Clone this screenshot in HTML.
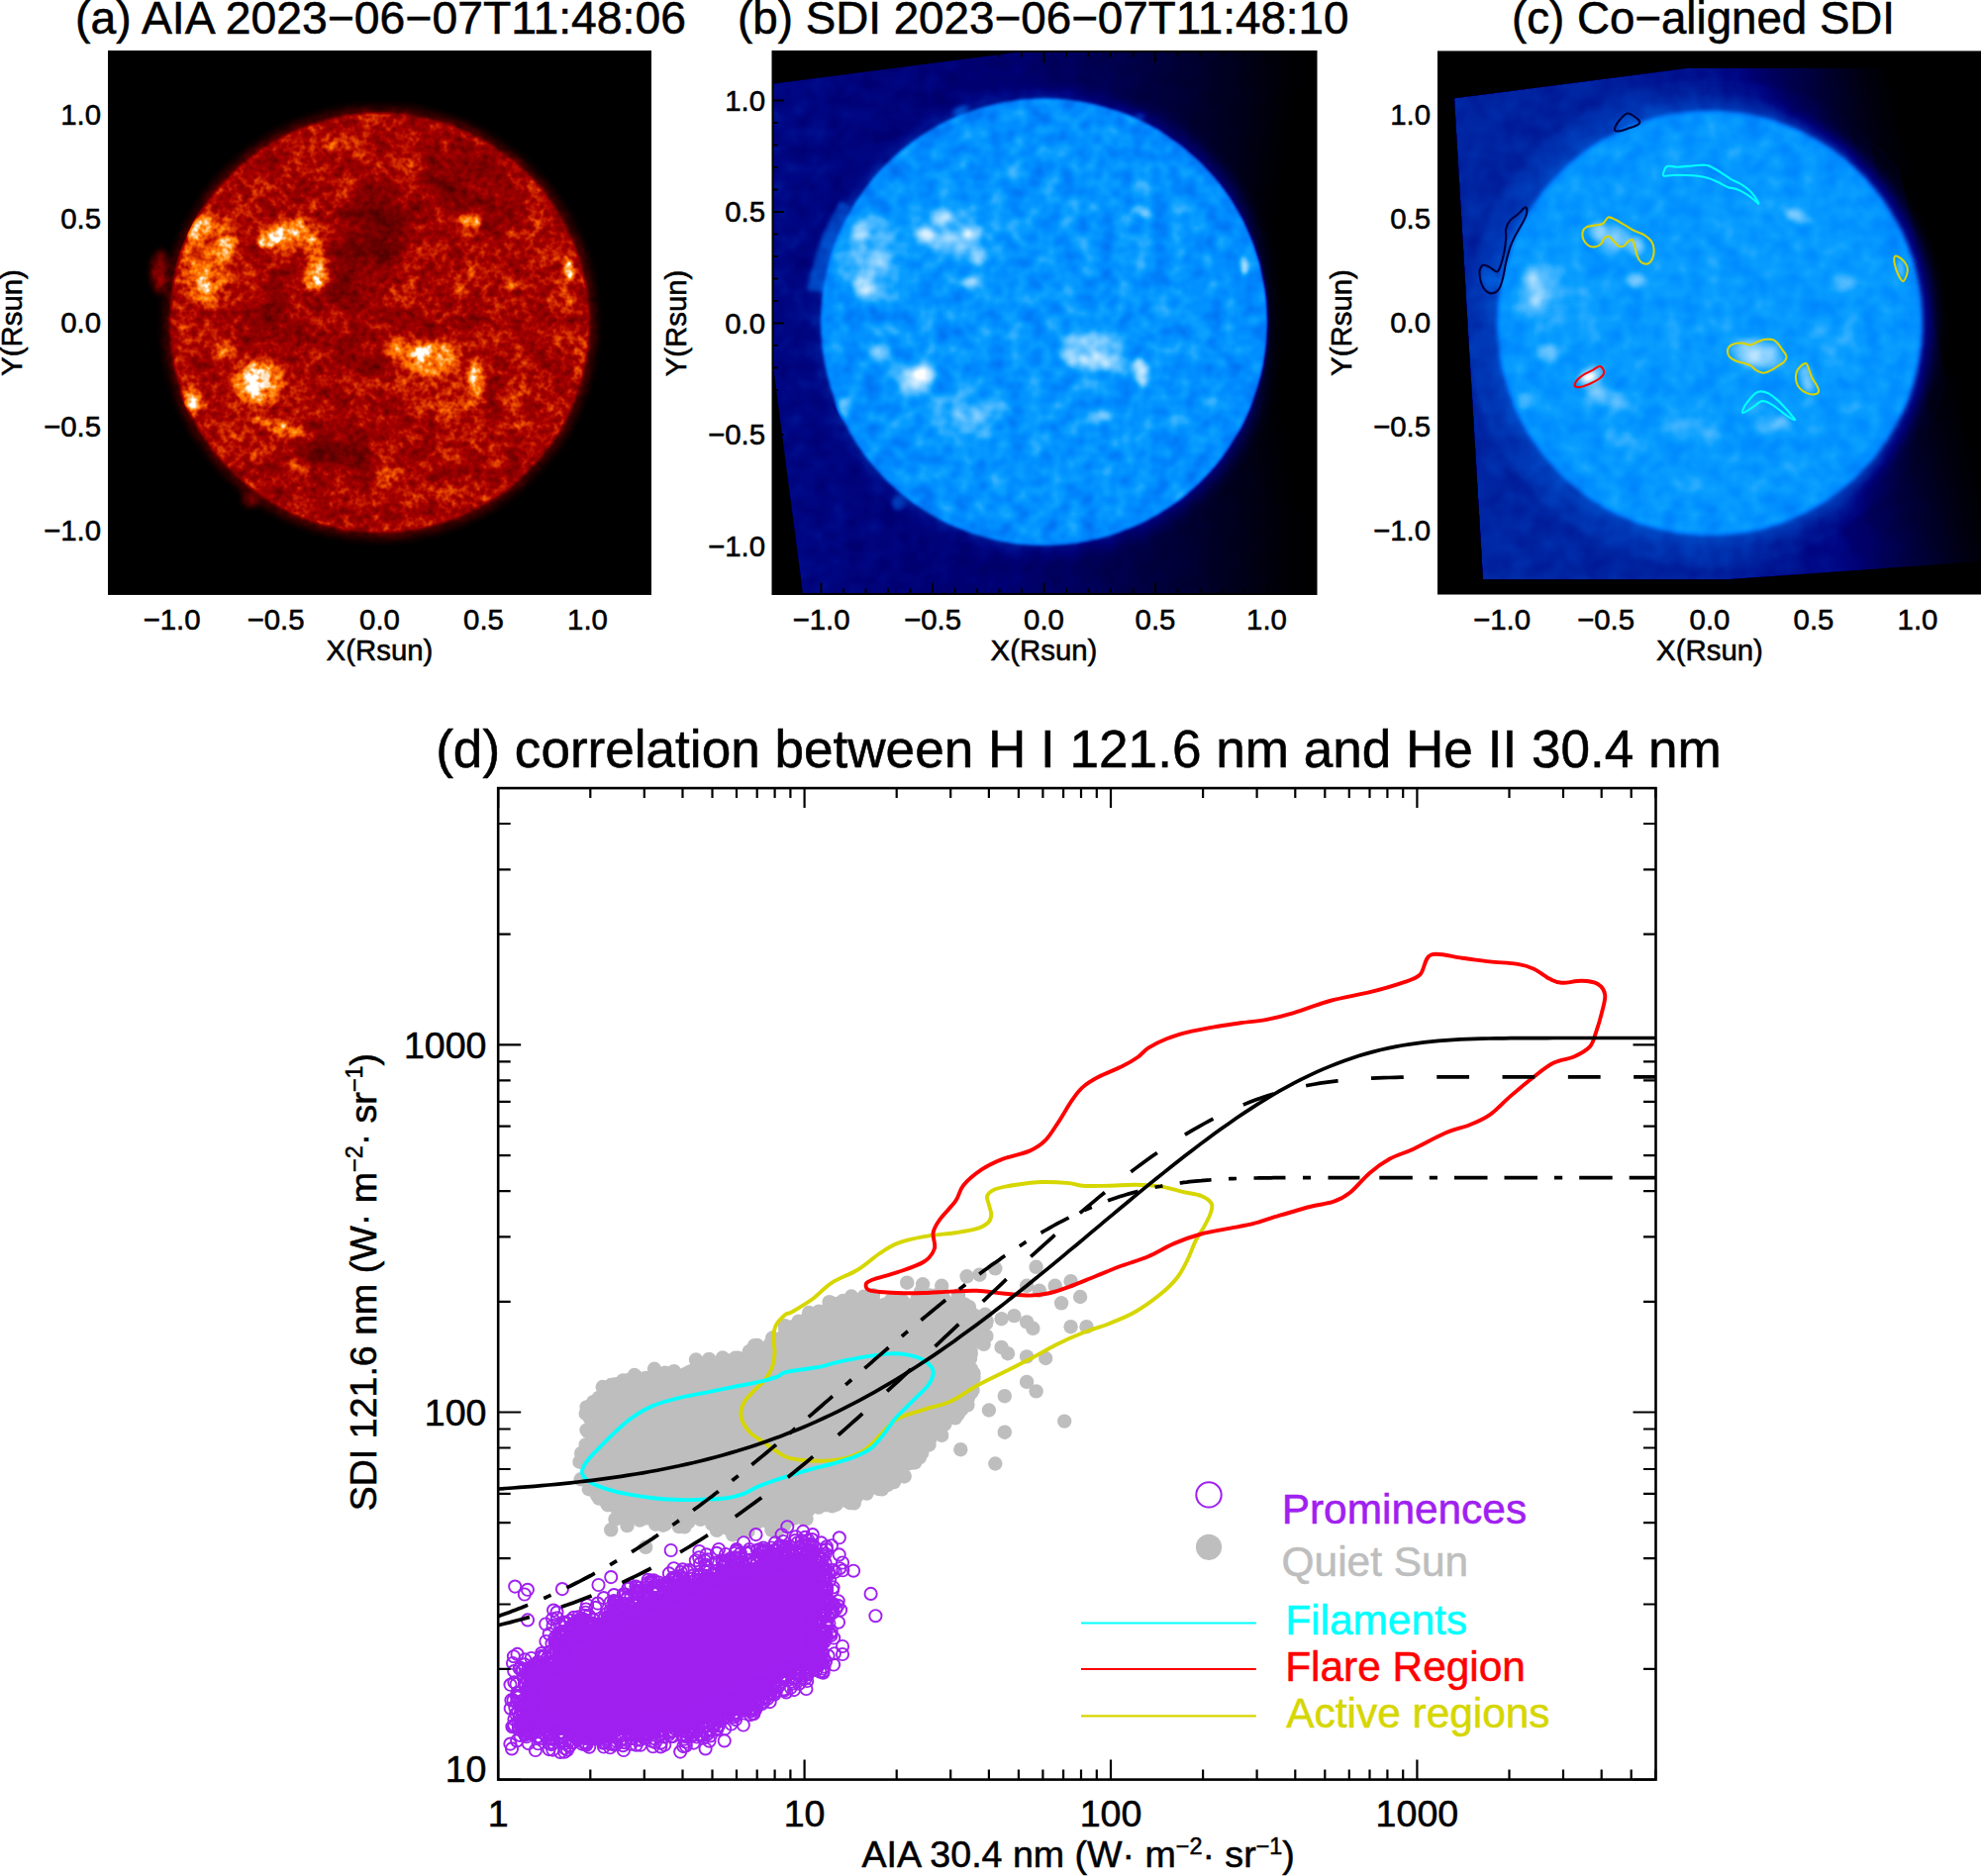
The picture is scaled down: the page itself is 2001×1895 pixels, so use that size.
<!DOCTYPE html>
<html><head><meta charset="utf-8"><title>figure</title>
<style>html,body{margin:0;padding:0;background:#fff;overflow:hidden}svg{display:block}text{stroke:#000;stroke-width:0.55px}</style></head>
<body>
<svg width="2001" height="1895" viewBox="0 0 2001 1895" font-family='"Liberation Sans", sans-serif' fill="#000">
<defs><filter id="fa" x="0" y="0" width="100%" height="100%" filterUnits="objectBoundingBox" color-interpolation-filters="sRGB">
<feTurbulence type="fractalNoise" baseFrequency="0.15" numOctaves="2" seed="7" result="n0"/>
<feColorMatrix in="n0" type="matrix" values="1 0 0 0 0  1 0 0 0 0  1 0 0 0 0  0 0 0 0 1" result="n1"/>
<feTurbulence type="fractalNoise" baseFrequency="0.045" numOctaves="3" seed="3" result="m0"/>
<feColorMatrix in="m0" type="matrix" values="0 1 0 0 0  0 1 0 0 0  0 1 0 0 0  0 0 0 0 1" result="m1"/>
<feComposite in="SourceGraphic" in2="n1" operator="arithmetic" k1="0.8" k2="0.6" k3="0" k4="0" result="c1"/>
<feComposite in="c1" in2="m1" operator="arithmetic" k1="0.75" k2="0.625" k3="0" k4="0" result="c2"/>
<feComponentTransfer in="c2">
<feFuncR type="table" tableValues="0.000 0.072 0.145 0.217 0.290 0.362 0.435 0.507 0.580 0.652 0.725 0.797 0.870 0.943 1.000 1.000 1.000 1.000 1.000 1.000 1.000"/>
<feFuncG type="table" tableValues="0.000 0.000 0.000 0.000 0.000 0.000 0.000 0.000 0.000 0.000 0.057 0.152 0.247 0.342 0.437 0.532 0.627 0.722 0.817 0.912 1.000"/>
<feFuncB type="table" tableValues="0.000 0.000 0.000 0.000 0.000 0.000 0.000 0.000 0.000 0.000 0.000 0.000 0.000 0.000 0.000 0.020 0.215 0.409 0.605 0.799 0.994"/>
</feComponentTransfer>
</filter>
<filter id="b1" x="-50%" y="-50%" width="200%" height="200%"><feGaussianBlur stdDeviation="1.2"/></filter>
<filter id="b15" x="-50%" y="-50%" width="200%" height="200%"><feGaussianBlur stdDeviation="1.6"/></filter>
<filter id="b2" x="-50%" y="-50%" width="200%" height="200%"><feGaussianBlur stdDeviation="2"/></filter>
<filter id="b3" x="-50%" y="-50%" width="200%" height="200%"><feGaussianBlur stdDeviation="3"/></filter>
<filter id="b5" x="-50%" y="-50%" width="200%" height="200%"><feGaussianBlur stdDeviation="5"/></filter>
<filter id="b8" x="-50%" y="-50%" width="200%" height="200%"><feGaussianBlur stdDeviation="8"/></filter>
<filter id="b12" x="-50%" y="-50%" width="200%" height="200%"><feGaussianBlur stdDeviation="12"/></filter>
<filter id="b20" x="-50%" y="-50%" width="200%" height="200%"><feGaussianBlur stdDeviation="20"/></filter><clipPath id="clipA"><circle cx="383.5" cy="326" r="214"/></clipPath><filter id="fb" x="0" y="0" width="100%" height="100%" color-interpolation-filters="sRGB">
<feTurbulence type="fractalNoise" baseFrequency="0.055" numOctaves="2" seed="11" result="n0"/>
<feColorMatrix in="n0" type="matrix" values="1 0 0 0 0  1 0 0 0 0  1 0 0 0 0  0 0 0 0 1" result="n1"/>
<feComposite in="SourceGraphic" in2="n1" operator="arithmetic" k1="0.3" k2="0.85" k3="0" k4="0" result="c1"/>
<feComponentTransfer in="c1">
<feFuncR type="table" tableValues="0.000 0.000 0.000 0.000 0.000 0.000 0.000 0.000 0.000 0.000 0.000 0.000 0.000 0.000 0.000 0.039 0.231 0.423 0.616 0.808 1.000"/>
<feFuncG type="table" tableValues="0.000 0.000 0.000 0.000 0.000 0.000 0.000 0.030 0.104 0.179 0.253 0.328 0.402 0.477 0.551 0.626 0.700 0.775 0.849 0.924 0.998"/>
<feFuncB type="table" tableValues="0.000 0.075 0.149 0.224 0.299 0.373 0.448 0.522 0.597 0.672 0.746 0.821 0.896 0.970 1.000 1.000 1.000 1.000 1.000 1.000 1.000"/>
</feComponentTransfer>
</filter>
<filter id="fc" x="0" y="0" width="100%" height="100%" color-interpolation-filters="sRGB">
<feTurbulence type="fractalNoise" baseFrequency="0.05" numOctaves="2" seed="5" result="n0"/>
<feColorMatrix in="n0" type="matrix" values="1 0 0 0 0  1 0 0 0 0  1 0 0 0 0  0 0 0 0 1" result="n1"/>
<feComposite in="SourceGraphic" in2="n1" operator="arithmetic" k1="0.18" k2="0.91" k3="0" k4="0" result="c1"/>
<feComponentTransfer in="c1">
<feFuncR type="table" tableValues="0.000 0.000 0.000 0.000 0.000 0.000 0.000 0.000 0.000 0.000 0.000 0.000 0.000 0.000 0.000 0.039 0.231 0.423 0.616 0.808 1.000"/>
<feFuncG type="table" tableValues="0.000 0.000 0.000 0.000 0.000 0.000 0.000 0.030 0.104 0.179 0.253 0.328 0.402 0.477 0.551 0.626 0.700 0.775 0.849 0.924 0.998"/>
<feFuncB type="table" tableValues="0.000 0.075 0.149 0.224 0.299 0.373 0.448 0.522 0.597 0.672 0.746 0.821 0.896 0.970 1.000 1.000 1.000 1.000 1.000 1.000 1.000"/>
</feComponentTransfer>
</filter>
<clipPath id="clipB"><circle cx="1054.8" cy="325.3" r="227.5"/></clipPath>
<clipPath id="clipC"><circle cx="1727" cy="326.4" r="216"/></clipPath>
<clipPath id="clipCframe"><polygon points="1469,99.3 1704,69 1802,69 2001,69 2001,567 1746,585.3 1498,585.3"/></clipPath>
<linearGradient id="haloC" gradientUnits="userSpaceOnUse" x1="1452" y1="600" x2="2001" y2="480"><stop offset="0" stop-color="rgb(121,121,121)"/><stop offset="0.5" stop-color="rgb(117,117,117)"/><stop offset="0.75" stop-color="rgb(92,92,92)"/><stop offset="0.9" stop-color="rgb(26,26,26)"/><stop offset="1" stop-color="rgb(0,0,0)"/></linearGradient>
<clipPath id="clipBbox"><rect x="780" y="51.5" width="550" height="549"/></clipPath>
<linearGradient id="gradB" gradientUnits="userSpaceOnUse" x1="780" y1="0" x2="1330" y2="0"><stop offset="0" stop-color="rgb(89,89,89)"/><stop offset="0.45" stop-color="rgb(74,74,74)"/><stop offset="0.75" stop-color="rgb(36,36,36)"/><stop offset="0.95" stop-color="rgb(3,3,3)"/><stop offset="1" stop-color="rgb(0,0,0)"/></linearGradient>
<linearGradient id="gradC" gradientUnits="userSpaceOnUse" x1="1452" y1="600" x2="2001" y2="480"><stop offset="0" stop-color="rgb(111,111,111)"/><stop offset="0.5" stop-color="rgb(105,105,105)"/><stop offset="0.72" stop-color="rgb(87,87,87)"/><stop offset="0.85" stop-color="rgb(41,41,41)"/><stop offset="0.95" stop-color="rgb(10,10,10)"/><stop offset="1" stop-color="rgb(0,0,0)"/></linearGradient>
<radialGradient id="diskB" gradientUnits="userSpaceOnUse" cx="1054.8" cy="325.3" r="225.7"><stop offset="0" stop-color="rgb(184,184,184)"/><stop offset="0.8" stop-color="rgb(183,183,183)"/><stop offset="1" stop-color="rgb(177,177,177)"/></radialGradient>
<radialGradient id="diskC" gradientUnits="userSpaceOnUse" cx="1727" cy="326.4" r="214.5"><stop offset="0" stop-color="rgb(188,188,188)"/><stop offset="0.8" stop-color="rgb(187,187,187)"/><stop offset="1" stop-color="rgb(182,182,182)"/></radialGradient></defs>
<rect width="2001" height="1895" fill="#fff"/>
<text x="76" y="34" font-size="46.3">(a) AIA 2023−06−07T11:48:06</text>
<text x="745" y="34" font-size="46.3" textLength="617.5" lengthAdjust="spacingAndGlyphs">(b) SDI 2023−06−07T11:48:10</text>
<text x="1527" y="34" font-size="46.3" textLength="387" lengthAdjust="spacingAndGlyphs">(c) Co−aligned SDI</text>
<g filter="url(#fa)">
<rect x="109" y="51.5" width="549" height="549" fill="#000"/>
<circle cx="383.5" cy="326" r="218" fill="rgb(56,56,56)" filter="url(#b5)"/>
<circle cx="383.5" cy="326" r="212" fill="rgb(117,117,117)" filter="url(#b1)"/>
<ellipse cx="162" cy="275" rx="9" ry="22" fill="rgb(82,82,82)" filter="url(#b3)"/>
<ellipse cx="254" cy="504" rx="9" ry="8" fill="rgb(64,64,64)" filter="url(#b3)"/>
<g clip-path="url(#clipA)">
<ellipse cx="377" cy="238" rx="34" ry="34" transform="rotate(0 377 238)" fill="rgb(0,0,0)" opacity="0.38" filter="url(#b12)"/>
<ellipse cx="395" cy="212" rx="30" ry="12" transform="rotate(10 395 212)" fill="rgb(0,0,0)" opacity="0.25" filter="url(#b8)"/>
<ellipse cx="350" cy="295" rx="18" ry="40" transform="rotate(-15 350 295)" fill="rgb(0,0,0)" opacity="0.3" filter="url(#b12)"/>
<ellipse cx="366" cy="360" rx="12" ry="30" transform="rotate(-20 366 360)" fill="rgb(0,0,0)" opacity="0.22" filter="url(#b8)"/>
<ellipse cx="336" cy="460" rx="45" ry="18" transform="rotate(-8 336 460)" fill="rgb(0,0,0)" opacity="0.4" filter="url(#b12)"/>
<ellipse cx="475" cy="178" rx="50" ry="30" transform="rotate(10 475 178)" fill="rgb(0,0,0)" opacity="0.22" filter="url(#b12)"/>
<ellipse cx="455" cy="190" rx="22" ry="6" transform="rotate(12 455 190)" fill="rgb(0,0,0)" opacity="0.3" filter="url(#b5)"/>
<ellipse cx="503" cy="228" rx="12" ry="10" transform="rotate(0 503 228)" fill="rgb(0,0,0)" opacity="0.25" filter="url(#b5)"/>
<ellipse cx="275" cy="320" rx="32" ry="30" transform="rotate(0 275 320)" fill="rgb(0,0,0)" opacity="0.22" filter="url(#b12)"/>
<ellipse cx="440" cy="330" rx="35" ry="14" transform="rotate(20 440 330)" fill="rgb(0,0,0)" opacity="0.15" filter="url(#b8)"/>
<ellipse cx="330" cy="400" rx="25" ry="12" transform="rotate(30 330 400)" fill="rgb(0,0,0)" opacity="0.15" filter="url(#b8)"/>
<ellipse cx="209" cy="258" rx="30" ry="46" transform="rotate(0 209 258)" fill="rgb(255,255,255)" opacity="0.38" filter="url(#b8)"/>
<ellipse cx="201" cy="231" rx="9" ry="11" transform="rotate(0 201 231)" fill="rgb(255,255,255)" opacity="0.5" filter="url(#b3)"/>
<ellipse cx="209" cy="287" rx="11" ry="11" transform="rotate(0 209 287)" fill="rgb(255,255,255)" opacity="0.5" filter="url(#b3)"/>
<ellipse cx="230" cy="250" rx="9" ry="14" transform="rotate(0 230 250)" fill="rgb(255,255,255)" opacity="0.3" filter="url(#b3)"/>
<ellipse cx="292" cy="238" rx="32" ry="15" transform="rotate(-10 292 238)" fill="rgb(255,255,255)" opacity="0.5" filter="url(#b5)"/>
<ellipse cx="270" cy="243" rx="9" ry="6" transform="rotate(-20 270 243)" fill="rgb(255,255,255)" opacity="0.8" filter="url(#b2)"/>
<ellipse cx="300" cy="232" rx="10" ry="5" transform="rotate(-10 300 232)" fill="rgb(255,255,255)" opacity="0.5" filter="url(#b2)"/>
<ellipse cx="320" cy="263" rx="9" ry="26" transform="rotate(-10 320 263)" fill="rgb(255,255,255)" opacity="0.45" filter="url(#b5)"/>
<ellipse cx="316" cy="286" rx="9" ry="7" transform="rotate(0 316 286)" fill="rgb(255,255,255)" opacity="0.6" filter="url(#b3)"/>
<ellipse cx="261" cy="386" rx="26" ry="22" transform="rotate(0 261 386)" fill="rgb(255,255,255)" opacity="0.62" filter="url(#b5)"/>
<ellipse cx="261" cy="386" rx="14" ry="9" transform="rotate(-35 261 386)" fill="rgb(255,255,255)" opacity="1" filter="url(#b2)"/>
<ellipse cx="276" cy="400" rx="9" ry="7" transform="rotate(30 276 400)" fill="rgb(255,255,255)" opacity="0.5" filter="url(#b3)"/>
<ellipse cx="285" cy="432" rx="32" ry="7" transform="rotate(15 285 432)" fill="rgb(255,255,255)" opacity="0.42" filter="url(#b3)"/>
<ellipse cx="194" cy="403" rx="10" ry="13" transform="rotate(0 194 403)" fill="rgb(255,255,255)" opacity="0.5" filter="url(#b3)"/>
<ellipse cx="224" cy="354" rx="11" ry="9" transform="rotate(0 224 354)" fill="rgb(255,255,255)" opacity="0.35" filter="url(#b3)"/>
<ellipse cx="212" cy="330" rx="10" ry="10" transform="rotate(0 212 330)" fill="rgb(255,255,255)" opacity="0.2" filter="url(#b5)"/>
<ellipse cx="430" cy="361" rx="38" ry="17" transform="rotate(8 430 361)" fill="rgb(255,255,255)" opacity="0.62" filter="url(#b5)"/>
<ellipse cx="424" cy="358" rx="11" ry="6" transform="rotate(0 424 358)" fill="rgb(255,255,255)" opacity="0.85" filter="url(#b2)"/>
<ellipse cx="448" cy="367" rx="9" ry="5" transform="rotate(0 448 367)" fill="rgb(255,255,255)" opacity="0.8" filter="url(#b2)"/>
<ellipse cx="405" cy="352" rx="8" ry="6" transform="rotate(0 405 352)" fill="rgb(255,255,255)" opacity="0.4" filter="url(#b3)"/>
<ellipse cx="481" cy="380" rx="7" ry="18" transform="rotate(-5 481 380)" fill="rgb(255,255,255)" opacity="0.75" filter="url(#b3)"/>
<ellipse cx="575" cy="271" rx="4" ry="12" transform="rotate(-8 575 271)" fill="rgb(255,255,255)" opacity="0.75" filter="url(#b2)"/>
<ellipse cx="574" cy="300" rx="5" ry="16" transform="rotate(-5 574 300)" fill="rgb(255,255,255)" opacity="0.3" filter="url(#b3)"/>
<ellipse cx="474" cy="222" rx="13" ry="5" transform="rotate(15 474 222)" fill="rgb(255,255,255)" opacity="0.5" filter="url(#b2)"/>
<ellipse cx="447" cy="409" rx="40" ry="8" transform="rotate(-3 447 409)" fill="rgb(255,255,255)" opacity="0.28" filter="url(#b5)"/>
<ellipse cx="519" cy="288" rx="10" ry="5" transform="rotate(0 519 288)" fill="rgb(255,255,255)" opacity="0.4" filter="url(#b3)"/>
<ellipse cx="466" cy="292" rx="8" ry="5" transform="rotate(0 466 292)" fill="rgb(255,255,255)" opacity="0.35" filter="url(#b3)"/>
<ellipse cx="300" cy="470" rx="14" ry="6" transform="rotate(20 300 470)" fill="rgb(255,255,255)" opacity="0.25" filter="url(#b3)"/>
<ellipse cx="235" cy="440" rx="14" ry="10" transform="rotate(0 235 440)" fill="rgb(255,255,255)" opacity="0.2" filter="url(#b5)"/>
<ellipse cx="520" cy="400" rx="20" ry="12" transform="rotate(0 520 400)" fill="rgb(255,255,255)" opacity="0.12" filter="url(#b8)"/>
<ellipse cx="400" cy="480" rx="20" ry="10" transform="rotate(0 400 480)" fill="rgb(255,255,255)" opacity="0.1" filter="url(#b8)"/>
<ellipse cx="330" cy="150" rx="30" ry="10" transform="rotate(0 330 150)" fill="rgb(255,255,255)" opacity="0.1" filter="url(#b8)"/>
</g>
</g>
<text x="102.0" y="546.2" font-size="29.4" text-anchor="end">−1.0</text>
<text x="102.0" y="441.2" font-size="29.4" text-anchor="end">−0.5</text>
<text x="102.0" y="336.2" font-size="29.4" text-anchor="end">0.0</text>
<text x="102.0" y="231.2" font-size="29.4" text-anchor="end">0.5</text>
<text x="102.0" y="126.2" font-size="29.4" text-anchor="end">1.0</text>
<text x="173.5" y="636" font-size="29.4" text-anchor="middle">−1.0</text>
<text x="278.5" y="636" font-size="29.4" text-anchor="middle">−0.5</text>
<text x="383.5" y="636" font-size="29.4" text-anchor="middle">0.0</text>
<text x="488.5" y="636" font-size="29.4" text-anchor="middle">0.5</text>
<text x="593.5" y="636" font-size="29.4" text-anchor="middle">1.0</text>
<text x="383.5" y="667.4" font-size="29.4" text-anchor="middle">X(Rsun)</text>
<text transform="translate(22.0,326.0) rotate(-90)" font-size="29.4" text-anchor="middle">Y(Rsun)</text>
<g filter="url(#fb)">
<rect x="780" y="51.5" width="550" height="549" fill="#000"/>
<g clip-path="url(#clipBbox)">
<polygon points="740,90 1034,52 1330,52 1330,600 811,600 780,362" fill="url(#gradB)"/>
<circle cx="1054.8" cy="325.3" r="233.7" fill="rgb(110,110,110)" opacity="0.7" filter="url(#b8)"/>
<ellipse cx="1345" cy="300" rx="75" ry="215" fill="#000" filter="url(#b20)"/>
<path d="M848,203 L832,235 L822,265 L815,293 L838,297 L842,265 L850,235 L860,210 Z" fill="rgb(133,133,133)" filter="url(#b2)"/>
<ellipse cx="971" cy="112" rx="9" ry="5" transform="rotate(-20 971 112)" fill="rgb(128,128,128)" filter="url(#b2)"/>
<ellipse cx="908" cy="508" rx="7" ry="9" transform="rotate(30 908 508)" fill="rgb(122,122,122)" filter="url(#b2)"/>
<ellipse cx="1152" cy="118" rx="6" ry="5" fill="rgb(107,107,107)" filter="url(#b2)"/>
<circle cx="1054.8" cy="325.3" r="225.7" fill="url(#diskB)" filter="url(#b15)"/>
<g clip-path="url(#clipB)">
<ellipse cx="925" cy="383.4" rx="20" ry="14" transform="rotate(-25 925 383.4)" fill="rgb(255,255,255)" opacity="0.75" filter="url(#b5)"/>
<ellipse cx="925" cy="383" rx="9" ry="5" transform="rotate(-25 925 383)" fill="rgb(255,255,255)" opacity="1.0" filter="url(#b2)"/>
<ellipse cx="960" cy="236" rx="40" ry="22" transform="rotate(10 960 236)" fill="rgb(255,255,255)" opacity="0.45" filter="url(#b8)"/>
<ellipse cx="934" cy="237" rx="9" ry="7" transform="rotate(0 934 237)" fill="rgb(255,255,255)" opacity="0.68" filter="url(#b3)"/>
<ellipse cx="952" cy="220" rx="9" ry="7" transform="rotate(0 952 220)" fill="rgb(255,255,255)" opacity="0.6" filter="url(#b3)"/>
<ellipse cx="983" cy="235" rx="10" ry="8" transform="rotate(0 983 235)" fill="rgb(255,255,255)" opacity="0.6" filter="url(#b3)"/>
<ellipse cx="989" cy="259" rx="8" ry="10" transform="rotate(0 989 259)" fill="rgb(255,255,255)" opacity="0.6" filter="url(#b3)"/>
<ellipse cx="980" cy="286" rx="9" ry="6" transform="rotate(-20 980 286)" fill="rgb(255,255,255)" opacity="0.6" filter="url(#b3)"/>
<ellipse cx="880" cy="260" rx="28" ry="42" transform="rotate(0 880 260)" fill="rgb(255,255,255)" opacity="0.42" filter="url(#b8)"/>
<ellipse cx="870" cy="234" rx="9" ry="9" transform="rotate(0 870 234)" fill="rgb(255,255,255)" opacity="0.52" filter="url(#b3)"/>
<ellipse cx="872" cy="289" rx="10" ry="9" transform="rotate(0 872 289)" fill="rgb(255,255,255)" opacity="0.6" filter="url(#b3)"/>
<ellipse cx="1104" cy="356" rx="34" ry="18" transform="rotate(5 1104 356)" fill="rgb(255,255,255)" opacity="0.6" filter="url(#b5)"/>
<ellipse cx="1101" cy="359" rx="10" ry="7" transform="rotate(0 1101 359)" fill="rgb(255,255,255)" opacity="0.75" filter="url(#b3)"/>
<ellipse cx="1153" cy="377" rx="7" ry="16" transform="rotate(-10 1153 377)" fill="rgb(255,255,255)" opacity="0.68" filter="url(#b3)"/>
<ellipse cx="1256" cy="268" rx="4" ry="10" transform="rotate(-10 1256 268)" fill="rgb(255,255,255)" opacity="0.6" filter="url(#b2)"/>
<ellipse cx="852" cy="411" rx="7" ry="9" transform="rotate(0 852 411)" fill="rgb(255,255,255)" opacity="0.6" filter="url(#b3)"/>
<ellipse cx="888" cy="356" rx="12" ry="9" transform="rotate(0 888 356)" fill="rgb(255,255,255)" opacity="0.52" filter="url(#b3)"/>
<ellipse cx="975" cy="420" rx="40" ry="18" transform="rotate(15 975 420)" fill="rgb(255,255,255)" opacity="0.38" filter="url(#b8)"/>
<ellipse cx="1153" cy="213" rx="12" ry="5" transform="rotate(15 1153 213)" fill="rgb(255,255,255)" opacity="0.6" filter="url(#b3)"/>
<ellipse cx="1113" cy="420" rx="12" ry="7" transform="rotate(-20 1113 420)" fill="rgb(255,255,255)" opacity="0.45" filter="url(#b3)"/>
</g></g></g>
<text x="773.0" y="561.7" font-size="29.4" text-anchor="end">−1.0</text>
<text x="773.0" y="449.2" font-size="29.4" text-anchor="end">−0.5</text>
<text x="773.0" y="336.7" font-size="29.4" text-anchor="end">0.0</text>
<text x="773.0" y="224.2" font-size="29.4" text-anchor="end">0.5</text>
<text x="773.0" y="111.7" font-size="29.4" text-anchor="end">1.0</text>
<text x="829.5" y="636" font-size="29.4" text-anchor="middle">−1.0</text>
<text x="942.0" y="636" font-size="29.4" text-anchor="middle">−0.5</text>
<text x="1054.5" y="636" font-size="29.4" text-anchor="middle">0.0</text>
<text x="1167.0" y="636" font-size="29.4" text-anchor="middle">0.5</text>
<text x="1279.5" y="636" font-size="29.4" text-anchor="middle">1.0</text>
<text x="1054.5" y="667.4" font-size="29.4" text-anchor="middle">X(Rsun)</text>
<text transform="translate(693.0,326.5) rotate(-90)" font-size="29.4" text-anchor="middle">Y(Rsun)</text>
<path d="M784.5,600v-5.5M784.5,52v5.5M780.5,596.5h5.5M1329.5,596.5h-5.5M807.0,600v-5.5M807.0,52v5.5M780.5,574.0h5.5M1329.5,574.0h-5.5M829.5,600v-11.3M829.5,52v11.3M780.5,551.5h11.3M1329.5,551.5h-11.3M852.0,600v-5.5M852.0,52v5.5M780.5,529.0h5.5M1329.5,529.0h-5.5M874.5,600v-5.5M874.5,52v5.5M780.5,506.5h5.5M1329.5,506.5h-5.5M897.0,600v-5.5M897.0,52v5.5M780.5,484.0h5.5M1329.5,484.0h-5.5M919.5,600v-5.5M919.5,52v5.5M780.5,461.5h5.5M1329.5,461.5h-5.5M942.0,600v-11.3M942.0,52v11.3M780.5,439.0h11.3M1329.5,439.0h-11.3M964.5,600v-5.5M964.5,52v5.5M780.5,416.5h5.5M1329.5,416.5h-5.5M987.0,600v-5.5M987.0,52v5.5M780.5,394.0h5.5M1329.5,394.0h-5.5M1009.5,600v-5.5M1009.5,52v5.5M780.5,371.5h5.5M1329.5,371.5h-5.5M1032.0,600v-5.5M1032.0,52v5.5M780.5,349.0h5.5M1329.5,349.0h-5.5M1054.5,600v-11.3M1054.5,52v11.3M780.5,326.5h11.3M1329.5,326.5h-11.3M1077.0,600v-5.5M1077.0,52v5.5M780.5,304.0h5.5M1329.5,304.0h-5.5M1099.5,600v-5.5M1099.5,52v5.5M780.5,281.5h5.5M1329.5,281.5h-5.5M1122.0,600v-5.5M1122.0,52v5.5M780.5,259.0h5.5M1329.5,259.0h-5.5M1144.5,600v-5.5M1144.5,52v5.5M780.5,236.5h5.5M1329.5,236.5h-5.5M1167.0,600v-11.3M1167.0,52v11.3M780.5,214.0h11.3M1329.5,214.0h-11.3M1189.5,600v-5.5M1189.5,52v5.5M780.5,191.5h5.5M1329.5,191.5h-5.5M1212.0,600v-5.5M1212.0,52v5.5M780.5,169.0h5.5M1329.5,169.0h-5.5M1234.5,600v-5.5M1234.5,52v5.5M780.5,146.5h5.5M1329.5,146.5h-5.5M1257.0,600v-5.5M1257.0,52v5.5M780.5,124.0h5.5M1329.5,124.0h-5.5M1279.5,600v-11.3M1279.5,52v11.3M780.5,101.5h11.3M1329.5,101.5h-11.3M1302.0,600v-5.5M1302.0,52v5.5M780.5,79.0h5.5M1329.5,79.0h-5.5M1324.5,600v-5.5M1324.5,52v5.5M780.5,56.5h5.5M1329.5,56.5h-5.5" stroke="#000" stroke-width="2" fill="none"/>
<rect x="780.5" y="52" width="549" height="548" fill="none" stroke="#000" stroke-width="2"/>
<g filter="url(#fc)">
<rect x="1452" y="51.5" width="549" height="549" fill="#000"/>
<polygon points="1469,99.3 1704,69 1802,69 2001,69 2001,567 1746,585.3 1498,585.3" fill="url(#gradC)"/>
<g clip-path="url(#clipCframe)">
<circle cx="1727" cy="326.4" r="246.5" fill="url(#haloC)" filter="url(#b3)"/>
<circle cx="1727" cy="326.4" r="224.5" fill="rgb(135,135,135)" opacity="0.8" filter="url(#b8)"/>
</g>
<path d="M1541,212 Q1524,232 1520,262 L1515,280 Q1505,268 1496,270 Q1494,290 1506,296 Q1516,292 1521,265 Q1530,232 1543,214 Z" fill="rgb(140,140,140)" filter="url(#b2)"/>
<ellipse cx="1644" cy="123" rx="10" ry="6" transform="rotate(-20 1644 123)" fill="rgb(138,138,138)" filter="url(#b2)"/>
<circle cx="1727" cy="326.4" r="214.5" fill="url(#diskC)" filter="url(#b2)"/>
<g clip-path="url(#clipC)">
<ellipse cx="1605.6" cy="380.3" rx="14" ry="8" transform="rotate(-25 1605.6 380.3)" fill="rgb(255,255,255)" opacity="0.5" filter="url(#b3)"/>
<ellipse cx="1604" cy="381" rx="7" ry="4" transform="rotate(-25 1604 381)" fill="rgb(255,255,255)" opacity="1" filter="url(#b2)"/>
<ellipse cx="1631.4" cy="240.5" rx="24" ry="11" transform="rotate(20 1631.4 240.5)" fill="rgb(255,255,255)" opacity="0.42" filter="url(#b5)"/>
<ellipse cx="1613.2" cy="234.5" rx="9" ry="8" transform="rotate(0 1613.2 234.5)" fill="rgb(255,255,255)" opacity="0.42" filter="url(#b3)"/>
<ellipse cx="1652.7" cy="249.7" rx="9" ry="10" transform="rotate(0 1652.7 249.7)" fill="rgb(255,255,255)" opacity="0.42" filter="url(#b3)"/>
<ellipse cx="1553.9" cy="292.2" rx="18" ry="30" transform="rotate(15 1553.9 292.2)" fill="rgb(255,255,255)" opacity="0.39" filter="url(#b8)"/>
<ellipse cx="1546.4" cy="283.1" rx="8" ry="8" transform="rotate(0 1546.4 283.1)" fill="rgb(255,255,255)" opacity="0.35" filter="url(#b3)"/>
<ellipse cx="1555.5" cy="304.4" rx="8" ry="8" transform="rotate(0 1555.5 304.4)" fill="rgb(255,255,255)" opacity="0.35" filter="url(#b3)"/>
<ellipse cx="1652.7" cy="283.1" rx="10" ry="7" transform="rotate(-20 1652.7 283.1)" fill="rgb(255,255,255)" opacity="0.42" filter="url(#b3)"/>
<ellipse cx="1774.2" cy="357.5" rx="26" ry="13" transform="rotate(5 1774.2 357.5)" fill="rgb(255,255,255)" opacity="0.49" filter="url(#b5)"/>
<ellipse cx="1771.2" cy="359.1" rx="9" ry="6" transform="rotate(0 1771.2 359.1)" fill="rgb(255,255,255)" opacity="0.49" filter="url(#b3)"/>
<ellipse cx="1825.9" cy="381.8" rx="7" ry="13" transform="rotate(-10 1825.9 381.8)" fill="rgb(255,255,255)" opacity="0.49" filter="url(#b3)"/>
<ellipse cx="1816.8" cy="219.3" rx="14" ry="6" transform="rotate(15 1816.8 219.3)" fill="rgb(255,255,255)" opacity="0.42" filter="url(#b3)"/>
<ellipse cx="1862.4" cy="283.1" rx="12" ry="10" transform="rotate(0 1862.4 283.1)" fill="rgb(255,255,255)" opacity="0.28" filter="url(#b5)"/>
<ellipse cx="1561.5" cy="356.0" rx="12" ry="9" transform="rotate(0 1561.5 356.0)" fill="rgb(255,255,255)" opacity="0.35" filter="url(#b3)"/>
<ellipse cx="1622.3" cy="400.1" rx="22" ry="9" transform="rotate(20 1622.3 400.1)" fill="rgb(255,255,255)" opacity="0.42" filter="url(#b5)"/>
<ellipse cx="1540.3" cy="404.6" rx="8" ry="9" transform="rotate(0 1540.3 404.6)" fill="rgb(255,255,255)" opacity="0.35" filter="url(#b3)"/>
<ellipse cx="1789.4" cy="427.4" rx="18" ry="9" transform="rotate(-10 1789.4 427.4)" fill="rgb(255,255,255)" opacity="0.31" filter="url(#b5)"/>
<ellipse cx="1634.5" cy="444.1" rx="14" ry="7" transform="rotate(10 1634.5 444.1)" fill="rgb(255,255,255)" opacity="0.28" filter="url(#b5)"/>
<ellipse cx="1920.1" cy="270.9" rx="4" ry="10" transform="rotate(-10 1920.1 270.9)" fill="rgb(255,255,255)" opacity="0.42" filter="url(#b2)"/>
<ellipse cx="1713.5" cy="435.0" rx="30" ry="12" transform="rotate(0 1713.5 435.0)" fill="rgb(255,255,255)" opacity="0.21" filter="url(#b8)"/>
<ellipse cx="1850.2" cy="343.9" rx="20" ry="12" transform="rotate(0 1850.2 343.9)" fill="rgb(255,255,255)" opacity="0.21" filter="url(#b8)"/>
<ellipse cx="1591.9" cy="313.5" rx="20" ry="30" transform="rotate(0 1591.9 313.5)" fill="rgb(255,255,255)" opacity="0.17" filter="url(#b8)"/>
</g></g>
<path d="M1631.1,131.5C1630.4,130.4 1631.6,127.9 1632.7,125.8C1633.7,123.8 1635.6,121.3 1637.5,119.4C1639.4,117.5 1641.7,114.8 1644.0,114.5C1646.3,114.3 1649.2,116.4 1651.2,117.8C1653.3,119.1 1655.6,121.3 1656.1,122.6C1656.6,124.0 1656.1,124.8 1654.5,125.8C1652.9,126.9 1649.4,128.0 1646.4,129.1C1643.4,130.2 1639.3,131.9 1636.7,132.3C1634.1,132.7 1631.7,132.6 1631.1,131.5Z" fill="none" stroke="#00003c" stroke-width="2.1" stroke-linejoin="round"/>
<path d="M1542.2,210.7C1541.9,209.3 1541.3,208.9 1539.8,209.9C1538.3,210.8 1535.7,214.2 1533.3,216.3C1530.9,218.5 1527.3,220.4 1525.2,222.8C1523.2,225.2 1521.9,227.9 1521.2,230.9C1520.5,233.8 1521.5,236.8 1521.2,240.5C1520.9,244.3 1520.4,249.2 1519.6,253.5C1518.8,257.8 1517.6,262.9 1516.3,266.4C1515.1,269.9 1514.3,273.9 1512.3,274.5C1510.3,275.0 1506.7,270.7 1504.2,269.6C1501.8,268.6 1499.4,267.2 1497.8,268.0C1496.2,268.8 1494.8,271.5 1494.5,274.5C1494.3,277.4 1495.1,282.6 1496.2,285.8C1497.2,289.0 1499.1,292.1 1501.0,293.9C1502.9,295.6 1505.3,296.6 1507.5,296.3C1509.6,296.0 1512.2,294.8 1513.9,292.2C1515.7,289.7 1516.8,285.5 1518.0,280.9C1519.2,276.4 1520.0,269.9 1521.2,264.8C1522.4,259.7 1523.8,254.6 1525.2,250.2C1526.7,245.9 1528.2,242.7 1530.1,238.9C1532.0,235.2 1534.7,231.1 1536.5,227.6C1538.4,224.1 1540.4,220.8 1541.4,217.9C1542.3,215.1 1542.5,212.0 1542.2,210.7Z" fill="none" stroke="#00003c" stroke-width="2.1" stroke-linejoin="round"/>
<path d="M1680.3,177.5C1679.4,176.7 1680.5,173.5 1681.1,171.9C1681.8,170.3 1682.1,168.4 1684.4,167.9C1686.7,167.3 1690.7,168.7 1694.9,168.7C1699.0,168.6 1704.8,167.9 1709.4,167.5C1714.0,167.2 1719.1,166.4 1722.3,166.6C1725.6,166.7 1726.1,167.4 1728.8,168.7C1731.5,170.0 1735.3,172.3 1738.5,174.3C1741.7,176.3 1744.9,178.9 1748.2,180.8C1751.4,182.7 1754.9,183.9 1757.9,185.6C1760.8,187.4 1763.5,189.1 1765.9,191.3C1768.4,193.4 1770.7,196.1 1772.4,198.5C1774.2,201.0 1776.7,205.4 1776.4,205.8C1776.2,206.2 1773.1,202.7 1770.8,201.0C1768.5,199.2 1765.4,196.9 1762.7,195.3C1760.0,193.7 1757.6,192.4 1754.6,191.3C1751.7,190.2 1748.2,190.1 1744.9,188.9C1741.7,187.6 1738.5,185.5 1735.3,184.0C1732.0,182.5 1729.3,181.0 1725.6,180.0C1721.8,178.9 1717.5,178.1 1712.6,177.5C1707.8,177.0 1700.8,176.8 1696.5,176.7C1692.2,176.7 1689.5,177.1 1686.8,177.2C1684.1,177.4 1681.3,178.4 1680.3,177.5Z" fill="none" stroke="#00ffff" stroke-width="2.1" stroke-linejoin="round"/>
<path d="M1624.6,219.5C1626.7,218.9 1629.0,220.6 1631.9,222.0C1634.7,223.3 1638.3,225.7 1641.6,227.6C1644.8,229.5 1648.0,231.7 1651.2,233.3C1654.5,234.9 1658.1,235.6 1660.9,237.3C1663.8,239.1 1666.6,241.4 1668.2,243.8C1669.8,246.2 1670.5,248.9 1670.6,251.9C1670.8,254.8 1670.1,259.1 1669.0,261.6C1667.9,264.0 1666.1,265.9 1664.2,266.4C1662.3,266.9 1659.5,266.1 1657.7,264.8C1656.0,263.4 1654.7,261.0 1653.7,258.3C1652.6,255.6 1652.1,251.3 1651.2,248.6C1650.4,245.9 1649.9,243.0 1648.8,242.2C1647.7,241.4 1646.3,242.7 1644.8,243.8C1643.3,244.9 1641.6,247.8 1639.9,248.6C1638.3,249.4 1636.7,249.4 1635.1,248.6C1633.5,247.8 1631.9,245.4 1630.2,243.8C1628.6,242.2 1627.0,239.5 1625.4,238.9C1623.8,238.4 1621.9,239.3 1620.5,240.5C1619.2,241.8 1618.9,244.7 1617.3,246.2C1615.7,247.7 1613.0,249.2 1610.9,249.4C1608.7,249.7 1606.3,249.0 1604.4,247.8C1602.5,246.6 1600.5,244.5 1599.5,242.2C1598.6,239.9 1598.2,236.2 1598.7,234.1C1599.3,231.9 1600.8,230.3 1602.8,229.2C1604.8,228.2 1608.2,228.2 1610.9,227.6C1613.5,227.1 1616.6,227.4 1618.9,226.0C1621.2,224.7 1622.4,220.2 1624.6,219.5Z" fill="none" stroke="#dcd200" stroke-width="2.1" stroke-linejoin="round"/>
<path d="M1590.6,389.2C1590.6,387.9 1591.7,385.4 1593.4,383.5C1595.2,381.5 1598.5,379.3 1601.1,377.7C1603.7,376.1 1606.4,375.1 1608.8,373.9C1611.2,372.6 1613.7,370.2 1615.5,370.0C1617.2,369.9 1618.6,371.6 1619.3,372.9C1620.1,374.2 1620.5,376.1 1619.9,377.7C1619.3,379.3 1617.7,380.9 1615.5,382.5C1613.3,384.1 1609.6,386.0 1606.9,387.3C1604.1,388.6 1601.4,389.5 1599.2,390.2C1596.9,390.8 1594.9,391.3 1593.4,391.1C1592.0,391.0 1590.6,390.5 1590.6,389.2Z" fill="none" stroke="#ff0000" stroke-width="2.1" stroke-linejoin="round"/>
<path d="M1745.0,354.7C1745.0,352.9 1745.6,351.2 1746.9,349.9C1748.2,348.6 1750.4,347.6 1752.6,347.0C1754.9,346.5 1757.8,346.4 1760.3,346.6C1762.9,346.9 1765.4,348.8 1768.0,348.5C1770.5,348.3 1773.1,346.1 1775.7,345.1C1778.2,344.1 1780.8,343.1 1783.3,342.8C1785.9,342.5 1788.9,342.5 1791.0,343.2C1793.1,343.9 1794.2,345.3 1795.8,347.0C1797.4,348.8 1799.2,351.7 1800.6,353.7C1802.0,355.8 1804.1,357.6 1804.4,359.5C1804.8,361.4 1803.8,363.6 1802.5,365.2C1801.2,366.8 1799.0,367.6 1796.8,369.1C1794.5,370.5 1791.7,372.6 1789.1,373.9C1786.5,375.1 1784.0,376.7 1781.4,376.7C1778.9,376.7 1776.0,375.1 1773.7,373.9C1771.5,372.6 1770.2,370.3 1768.0,369.1C1765.8,367.9 1762.9,367.4 1760.3,366.6C1757.8,365.8 1754.9,365.3 1752.6,364.3C1750.4,363.3 1748.2,362.0 1746.9,360.4C1745.6,358.8 1745.0,356.4 1745.0,354.7Z" fill="none" stroke="#dcd200" stroke-width="2.1" stroke-linejoin="round"/>
<path d="M1824.6,367.2C1823.1,366.5 1820.5,368.4 1818.8,370.0C1817.1,371.6 1815.1,374.2 1814.4,376.7C1813.7,379.3 1813.8,382.8 1814.4,385.4C1815.0,387.9 1816.2,390.2 1817.9,392.1C1819.6,394.0 1822.2,395.8 1824.6,396.9C1827.0,397.9 1830.2,398.7 1832.3,398.4C1834.3,398.2 1836.6,396.9 1837.0,395.4C1837.5,393.8 1836.3,391.5 1835.1,389.2C1834.0,386.9 1831.6,384.1 1830.3,381.5C1829.1,379.0 1828.4,376.3 1827.5,373.9C1826.5,371.5 1826.0,367.8 1824.6,367.2Z" fill="none" stroke="#dcd200" stroke-width="2.1" stroke-linejoin="round"/>
<path d="M1914.2,258.8C1913.1,259.4 1913.2,262.3 1913.4,264.5C1913.6,266.8 1914.5,269.6 1915.3,272.2C1916.2,274.8 1917.4,277.9 1918.6,279.9C1919.8,281.9 1921.2,284.4 1922.4,284.1C1923.6,283.8 1925.1,280.1 1925.9,278.0C1926.6,275.8 1927.1,273.3 1926.8,271.2C1926.6,269.2 1925.5,267.2 1924.3,265.5C1923.1,263.7 1921.2,261.8 1919.5,260.7C1917.8,259.6 1915.2,258.1 1914.2,258.8Z" fill="none" stroke="#dcd200" stroke-width="2.1" stroke-linejoin="round"/>
<path d="M1760.3,417.0C1759.7,416.4 1761.0,412.7 1762.2,410.3C1763.5,407.9 1766.1,404.9 1768.0,402.6C1769.9,400.4 1771.8,398.1 1773.7,396.9C1775.7,395.7 1777.3,395.2 1779.5,395.4C1781.7,395.5 1784.6,396.5 1787.2,397.8C1789.7,399.2 1792.3,401.4 1794.8,403.6C1797.4,405.8 1800.1,408.7 1802.5,411.3C1804.9,413.8 1807.5,416.8 1809.2,419.0C1811.0,421.1 1813.6,423.8 1813.1,424.1C1812.6,424.4 1808.8,422.4 1806.4,420.9C1804.0,419.4 1801.2,417.0 1798.7,415.1C1796.1,413.2 1793.6,411.0 1791.0,409.4C1788.5,407.8 1785.4,406.2 1783.3,405.5C1781.3,404.9 1780.5,404.7 1778.5,405.5C1776.6,406.3 1773.9,408.9 1771.8,410.3C1769.7,411.8 1768.0,413.0 1766.1,414.2C1764.2,415.3 1761.0,417.7 1760.3,417.0Z" fill="none" stroke="#00ffff" stroke-width="2.1" stroke-linejoin="round"/>
<text x="1445.0" y="546.2" font-size="29.4" text-anchor="end">−1.0</text>
<text x="1445.0" y="441.2" font-size="29.4" text-anchor="end">−0.5</text>
<text x="1445.0" y="336.2" font-size="29.4" text-anchor="end">0.0</text>
<text x="1445.0" y="231.2" font-size="29.4" text-anchor="end">0.5</text>
<text x="1445.0" y="126.2" font-size="29.4" text-anchor="end">1.0</text>
<text x="1517.0" y="636" font-size="29.4" text-anchor="middle">−1.0</text>
<text x="1622.0" y="636" font-size="29.4" text-anchor="middle">−0.5</text>
<text x="1727.0" y="636" font-size="29.4" text-anchor="middle">0.0</text>
<text x="1832.0" y="636" font-size="29.4" text-anchor="middle">0.5</text>
<text x="1937.0" y="636" font-size="29.4" text-anchor="middle">1.0</text>
<text x="1727.0" y="667.4" font-size="29.4" text-anchor="middle">X(Rsun)</text>
<text transform="translate(1365.0,326.0) rotate(-90)" font-size="29.4" text-anchor="middle">Y(Rsun)</text>
<text x="440.2" y="774.7" font-size="53.1">(d) correlation between H I 121.6 nm and He II 30.4 nm</text>
<clipPath id="clipD"><rect x="503.2" y="796.1" width="1169.3" height="1001.4999999999999"/></clipPath>
<g clip-path="url(#clipD)">
<path d="M602.9,1432.1 L599.8,1481.0 L605.4,1503.1 L622.6,1520.3 L636.9,1531.7 L655.1,1536.9 L678.0,1528.3 L678.7,1528.1 L679.4,1527.9 L680.1,1527.8 L680.8,1527.8 L712.6,1527.8 L713.4,1527.8 L714.2,1528.0 L745.2,1534.2 L775.1,1534.2 L805.4,1525.1 L836.9,1512.5 L837.3,1512.3 L884.1,1496.7 L907.2,1482.3 L922.1,1458.4 L922.7,1457.7 L923.3,1457.0 L942.4,1437.9 L942.7,1437.6 L969.7,1413.6 L977.7,1389.7 L972.4,1376.6 L972.1,1375.8 L972.0,1375.1 L971.9,1374.4 L971.8,1373.6 L971.9,1372.9 L972.0,1372.1 L972.1,1371.4 L978.5,1349.1 L978.7,1348.4 L979.1,1347.7 L979.5,1347.0 L979.9,1346.3 L988.2,1336.0 L981.4,1329.3 L964.5,1320.8 L941.2,1316.4 L904.3,1319.5 L879.0,1322.7 L842.1,1327.3 L796.1,1348.8 L764.7,1369.2 L764.1,1369.5 L763.4,1369.9 L728.4,1384.2 L727.3,1384.5 L689.1,1394.1 L688.8,1394.2 L657.0,1400.5 L656.1,1400.6 L621.2,1403.6 L605.4,1421.9 L602.9,1432.1Z" fill="#bebebe" stroke="#bebebe" stroke-width="6" stroke-linejoin="round"/>
<g fill="#bebebe"><circle cx="859.8" cy="1500.5" r="7.2"/><circle cx="938.9" cy="1441.3" r="7.2"/><circle cx="980.9" cy="1407.0" r="7.2"/><circle cx="601.3" cy="1478.7" r="7.2"/><circle cx="812.2" cy="1518.7" r="7.2"/><circle cx="831.3" cy="1518.9" r="7.2"/><circle cx="868.9" cy="1320.6" r="7.2"/><circle cx="629.0" cy="1528.8" r="7.2"/><circle cx="930.1" cy="1304.7" r="7.2"/><circle cx="759.7" cy="1363.7" r="7.2"/><circle cx="891.2" cy="1321.0" r="7.2"/><circle cx="817.1" cy="1326.0" r="7.2"/><circle cx="613.9" cy="1520.2" r="7.2"/><circle cx="696.2" cy="1526.5" r="7.2"/><circle cx="976.1" cy="1416.1" r="7.2"/><circle cx="588.1" cy="1470.3" r="7.2"/><circle cx="631.7" cy="1525.0" r="7.2"/><circle cx="899.1" cy="1325.6" r="7.2"/><circle cx="860.0" cy="1309.5" r="7.2"/><circle cx="995.1" cy="1327.8" r="7.2"/><circle cx="748.8" cy="1377.6" r="7.2"/><circle cx="920.7" cy="1319.0" r="7.2"/><circle cx="801.5" cy="1533.8" r="7.2"/><circle cx="812.9" cy="1516.4" r="7.2"/><circle cx="786.3" cy="1356.8" r="7.2"/><circle cx="800.3" cy="1523.1" r="7.2"/><circle cx="835.6" cy="1517.7" r="7.2"/><circle cx="904.9" cy="1312.7" r="7.2"/><circle cx="801.7" cy="1341.4" r="7.2"/><circle cx="926.3" cy="1459.6" r="7.2"/><circle cx="591.7" cy="1459.4" r="7.2"/><circle cx="745.7" cy="1371.8" r="7.2"/><circle cx="996.6" cy="1334.2" r="7.2"/><circle cx="915.7" cy="1473.6" r="7.2"/><circle cx="929.4" cy="1453.7" r="7.2"/><circle cx="954.3" cy="1438.1" r="7.2"/><circle cx="671.1" cy="1525.3" r="7.2"/><circle cx="614.6" cy="1511.2" r="7.2"/><circle cx="821.3" cy="1343.3" r="7.2"/><circle cx="806.7" cy="1334.7" r="7.2"/><circle cx="606.3" cy="1451.7" r="7.2"/><circle cx="877.2" cy="1323.7" r="7.2"/><circle cx="602.4" cy="1502.7" r="7.2"/><circle cx="647.5" cy="1532.3" r="7.2"/><circle cx="968.0" cy="1308.4" r="7.2"/><circle cx="940.2" cy="1310.3" r="7.2"/><circle cx="594.5" cy="1461.9" r="7.2"/><circle cx="898.8" cy="1483.2" r="7.2"/><circle cx="647.0" cy="1533.6" r="7.2"/><circle cx="945.1" cy="1312.8" r="7.2"/><circle cx="740.2" cy="1550.4" r="7.2"/><circle cx="637.3" cy="1400.1" r="7.2"/><circle cx="763.4" cy="1361.9" r="7.2"/><circle cx="723.1" cy="1385.7" r="7.2"/><circle cx="810.5" cy="1528.0" r="7.2"/><circle cx="601.3" cy="1507.2" r="7.2"/><circle cx="716.1" cy="1375.4" r="7.2"/><circle cx="646.0" cy="1532.5" r="7.2"/><circle cx="736.5" cy="1539.6" r="7.2"/><circle cx="703.4" cy="1526.6" r="7.2"/><circle cx="753.7" cy="1538.2" r="7.2"/><circle cx="993.7" cy="1357.8" r="7.2"/><circle cx="937.5" cy="1322.1" r="7.2"/><circle cx="917.1" cy="1471.9" r="7.2"/><circle cx="967.6" cy="1329.0" r="7.2"/><circle cx="627.8" cy="1397.9" r="7.2"/><circle cx="792.1" cy="1527.6" r="7.2"/><circle cx="758.7" cy="1370.7" r="7.2"/><circle cx="872.4" cy="1309.8" r="7.2"/><circle cx="891.0" cy="1325.7" r="7.2"/><circle cx="752.5" cy="1537.4" r="7.2"/><circle cx="924.4" cy="1462.9" r="7.2"/><circle cx="840.5" cy="1521.3" r="7.2"/><circle cx="799.0" cy="1344.0" r="7.2"/><circle cx="725.4" cy="1525.9" r="7.2"/><circle cx="866.3" cy="1503.2" r="7.2"/><circle cx="958.1" cy="1416.5" r="7.2"/><circle cx="979.6" cy="1403.5" r="7.2"/><circle cx="605.4" cy="1419.4" r="7.2"/><circle cx="716.1" cy="1523.7" r="7.2"/><circle cx="911.0" cy="1313.6" r="7.2"/><circle cx="742.8" cy="1374.3" r="7.2"/><circle cx="887.4" cy="1324.8" r="7.2"/><circle cx="911.5" cy="1483.8" r="7.2"/><circle cx="866.4" cy="1502.8" r="7.2"/><circle cx="823.8" cy="1514.8" r="7.2"/><circle cx="691.2" cy="1388.5" r="7.2"/><circle cx="848.7" cy="1319.1" r="7.2"/><circle cx="607.2" cy="1489.7" r="7.2"/><circle cx="745.0" cy="1372.2" r="7.2"/><circle cx="927.2" cy="1450.5" r="7.2"/><circle cx="607.6" cy="1510.6" r="7.2"/><circle cx="850.3" cy="1325.7" r="7.2"/><circle cx="634.5" cy="1530.4" r="7.2"/><circle cx="761.8" cy="1368.7" r="7.2"/><circle cx="804.6" cy="1349.6" r="7.2"/><circle cx="913.0" cy="1315.8" r="7.2"/><circle cx="968.2" cy="1372.2" r="7.2"/><circle cx="750.4" cy="1530.3" r="7.2"/><circle cx="969.6" cy="1421.0" r="7.2"/><circle cx="827.5" cy="1328.3" r="7.2"/><circle cx="852.5" cy="1515.4" r="7.2"/><circle cx="980.8" cy="1367.5" r="7.2"/><circle cx="932.2" cy="1318.5" r="7.2"/><circle cx="600.1" cy="1449.4" r="7.2"/><circle cx="996.4" cy="1349.7" r="7.2"/><circle cx="586.7" cy="1494.3" r="7.2"/><circle cx="930.1" cy="1308.3" r="7.2"/><circle cx="979.4" cy="1408.1" r="7.2"/><circle cx="936.6" cy="1443.1" r="7.2"/><circle cx="602.3" cy="1416.0" r="7.2"/><circle cx="738.3" cy="1374.3" r="7.2"/><circle cx="951.1" cy="1318.3" r="7.2"/><circle cx="686.3" cy="1400.0" r="7.2"/><circle cx="818.3" cy="1522.3" r="7.2"/><circle cx="900.7" cy="1490.4" r="7.2"/><circle cx="695.3" cy="1394.4" r="7.2"/><circle cx="672.4" cy="1525.5" r="7.2"/><circle cx="967.8" cy="1324.3" r="7.2"/><circle cx="865.4" cy="1329.8" r="7.2"/><circle cx="844.4" cy="1519.8" r="7.2"/><circle cx="763.9" cy="1361.7" r="7.2"/><circle cx="840.0" cy="1328.4" r="7.2"/><circle cx="816.6" cy="1525.4" r="7.2"/><circle cx="915.1" cy="1459.2" r="7.2"/><circle cx="652.3" cy="1391.9" r="7.2"/><circle cx="862.7" cy="1518.4" r="7.2"/><circle cx="675.2" cy="1390.3" r="7.2"/><circle cx="720.0" cy="1389.1" r="7.2"/><circle cx="955.4" cy="1314.5" r="7.2"/><circle cx="659.5" cy="1531.8" r="7.2"/><circle cx="817.5" cy="1342.7" r="7.2"/><circle cx="937.9" cy="1313.2" r="7.2"/><circle cx="624.2" cy="1398.2" r="7.2"/><circle cx="945.4" cy="1308.7" r="7.2"/><circle cx="748.5" cy="1532.1" r="7.2"/><circle cx="781.9" cy="1536.6" r="7.2"/><circle cx="798.5" cy="1341.2" r="7.2"/><circle cx="647.3" cy="1394.9" r="7.2"/><circle cx="983.5" cy="1387.2" r="7.2"/><circle cx="678.3" cy="1400.7" r="7.2"/><circle cx="748.0" cy="1529.3" r="7.2"/><circle cx="926.4" cy="1323.2" r="7.2"/><circle cx="641.1" cy="1390.8" r="7.2"/><circle cx="790.6" cy="1534.6" r="7.2"/><circle cx="643.5" cy="1391.3" r="7.2"/><circle cx="610.4" cy="1420.5" r="7.2"/><circle cx="670.4" cy="1531.0" r="7.2"/><circle cx="629.6" cy="1401.4" r="7.2"/><circle cx="605.8" cy="1507.2" r="7.2"/><circle cx="602.9" cy="1415.3" r="7.2"/><circle cx="839.0" cy="1324.1" r="7.2"/><circle cx="757.1" cy="1531.9" r="7.2"/><circle cx="834.4" cy="1520.2" r="7.2"/><circle cx="968.1" cy="1327.7" r="7.2"/><circle cx="970.2" cy="1359.2" r="7.2"/><circle cx="600.2" cy="1451.1" r="7.2"/><circle cx="610.3" cy="1417.2" r="7.2"/><circle cx="823.3" cy="1328.0" r="7.2"/><circle cx="600.9" cy="1440.9" r="7.2"/><circle cx="695.4" cy="1537.3" r="7.2"/><circle cx="733.7" cy="1531.6" r="7.2"/><circle cx="983.4" cy="1392.6" r="7.2"/><circle cx="912.9" cy="1478.2" r="7.2"/><circle cx="597.7" cy="1495.2" r="7.2"/><circle cx="984.7" cy="1335.5" r="7.2"/><circle cx="755.5" cy="1546.9" r="7.2"/><circle cx="830.5" cy="1332.5" r="7.2"/><circle cx="594.8" cy="1504.2" r="7.2"/><circle cx="965.9" cy="1320.7" r="7.2"/><circle cx="713.2" cy="1377.9" r="7.2"/><circle cx="846.7" cy="1516.2" r="7.2"/><circle cx="918.7" cy="1478.0" r="7.2"/><circle cx="695.1" cy="1388.5" r="7.2"/><circle cx="641.1" cy="1532.3" r="7.2"/><circle cx="954.2" cy="1434.5" r="7.2"/><circle cx="638.5" cy="1404.1" r="7.2"/><circle cx="592.5" cy="1444.6" r="7.2"/><circle cx="599.7" cy="1449.1" r="7.2"/><circle cx="830.3" cy="1515.2" r="7.2"/><circle cx="983.2" cy="1390.1" r="7.2"/><circle cx="846.6" cy="1326.5" r="7.2"/><circle cx="615.0" cy="1406.3" r="7.2"/><circle cx="608.6" cy="1493.8" r="7.2"/><circle cx="745.9" cy="1544.2" r="7.2"/><circle cx="865.0" cy="1511.9" r="7.2"/><circle cx="681.4" cy="1400.1" r="7.2"/><circle cx="939.2" cy="1453.7" r="7.2"/><circle cx="698.4" cy="1385.3" r="7.2"/><circle cx="616.1" cy="1511.5" r="7.2"/><circle cx="704.2" cy="1387.9" r="7.2"/><circle cx="952.7" cy="1440.0" r="7.2"/><circle cx="647.4" cy="1397.4" r="7.2"/><circle cx="861.1" cy="1499.6" r="7.2"/><circle cx="604.6" cy="1419.8" r="7.2"/><circle cx="629.8" cy="1528.5" r="7.2"/><circle cx="980.8" cy="1398.6" r="7.2"/><circle cx="768.1" cy="1367.3" r="7.2"/><circle cx="669.7" cy="1540.7" r="7.2"/><circle cx="885.2" cy="1496.5" r="7.2"/><circle cx="882.0" cy="1308.1" r="7.2"/><circle cx="969.5" cy="1412.5" r="7.2"/><circle cx="695.0" cy="1397.4" r="7.2"/><circle cx="594.1" cy="1479.6" r="7.2"/><circle cx="717.0" cy="1524.6" r="7.2"/><circle cx="878.0" cy="1492.9" r="7.2"/><circle cx="982.5" cy="1404.4" r="7.2"/><circle cx="655.2" cy="1399.6" r="7.2"/><circle cx="598.7" cy="1467.0" r="7.2"/><circle cx="843.9" cy="1508.8" r="7.2"/><circle cx="826.9" cy="1522.6" r="7.2"/><circle cx="921.7" cy="1469.8" r="7.2"/><circle cx="926.5" cy="1312.1" r="7.2"/><circle cx="827.4" cy="1324.7" r="7.2"/><circle cx="953.2" cy="1311.5" r="7.2"/><circle cx="799.5" cy="1525.1" r="7.2"/><circle cx="622.9" cy="1409.2" r="7.2"/><circle cx="699.6" cy="1394.5" r="7.2"/><circle cx="672.5" cy="1534.5" r="7.2"/><circle cx="848.0" cy="1327.9" r="7.2"/><circle cx="866.3" cy="1509.2" r="7.2"/><circle cx="823.8" cy="1337.5" r="7.2"/><circle cx="922.3" cy="1477.3" r="7.2"/><circle cx="969.1" cy="1318.0" r="7.2"/><circle cx="726.9" cy="1383.5" r="7.2"/><circle cx="729.9" cy="1371.5" r="7.2"/><circle cx="846.9" cy="1316.7" r="7.2"/><circle cx="832.3" cy="1514.1" r="7.2"/><circle cx="724.5" cy="1381.3" r="7.2"/><circle cx="714.8" cy="1533.6" r="7.2"/><circle cx="793.2" cy="1342.3" r="7.2"/><circle cx="599.6" cy="1448.0" r="7.2"/><circle cx="924.6" cy="1456.7" r="7.2"/><circle cx="748.7" cy="1542.9" r="7.2"/><circle cx="768.2" cy="1531.3" r="7.2"/><circle cx="789.8" cy="1351.2" r="7.2"/><circle cx="904.2" cy="1476.4" r="7.2"/><circle cx="996.1" cy="1336.9" r="7.2"/><circle cx="795.5" cy="1355.2" r="7.2"/><circle cx="968.7" cy="1407.4" r="7.2"/><circle cx="604.9" cy="1454.4" r="7.2"/><circle cx="743.7" cy="1539.7" r="7.2"/><circle cx="936.6" cy="1313.3" r="7.2"/><circle cx="674.9" cy="1399.5" r="7.2"/><circle cx="794.7" cy="1351.4" r="7.2"/><circle cx="632.8" cy="1524.9" r="7.2"/><circle cx="714.1" cy="1375.7" r="7.2"/><circle cx="939.1" cy="1308.5" r="7.2"/><circle cx="988.3" cy="1342.4" r="7.2"/><circle cx="843.2" cy="1505.3" r="7.2"/><circle cx="847.7" cy="1322.1" r="7.2"/><circle cx="619.3" cy="1399.9" r="7.2"/><circle cx="672.7" cy="1390.2" r="7.2"/><circle cx="848.6" cy="1323.6" r="7.2"/><circle cx="981.4" cy="1355.3" r="7.2"/><circle cx="724.1" cy="1545.9" r="7.2"/><circle cx="779.4" cy="1545.6" r="7.2"/><circle cx="697.6" cy="1524.5" r="7.2"/><circle cx="746.8" cy="1377.2" r="7.2"/><circle cx="768.1" cy="1366.7" r="7.2"/><circle cx="646.2" cy="1535.6" r="7.2"/><circle cx="942.3" cy="1441.4" r="7.2"/><circle cx="991.0" cy="1348.9" r="7.2"/><circle cx="937.8" cy="1315.6" r="7.2"/><circle cx="784.8" cy="1547.8" r="7.2"/><circle cx="734.3" cy="1527.0" r="7.2"/><circle cx="626.0" cy="1518.3" r="7.2"/><circle cx="689.8" cy="1399.3" r="7.2"/><circle cx="606.0" cy="1425.0" r="7.2"/><circle cx="942.8" cy="1435.0" r="7.2"/><circle cx="820.1" cy="1341.5" r="7.2"/><circle cx="948.1" cy="1322.4" r="7.2"/><circle cx="622.7" cy="1523.3" r="7.2"/><circle cx="598.9" cy="1461.7" r="7.2"/><circle cx="687.2" cy="1532.3" r="7.2"/><circle cx="708.3" cy="1533.8" r="7.2"/><circle cx="981.6" cy="1389.1" r="7.2"/><circle cx="800.3" cy="1340.1" r="7.2"/><circle cx="964.6" cy="1418.0" r="7.2"/><circle cx="970.1" cy="1362.7" r="7.2"/><circle cx="872.7" cy="1324.2" r="7.2"/><circle cx="795.0" cy="1354.1" r="7.2"/><circle cx="967.8" cy="1428.5" r="7.2"/><circle cx="965.8" cy="1424.2" r="7.2"/><circle cx="922.3" cy="1461.3" r="7.2"/><circle cx="610.2" cy="1509.3" r="7.2"/><circle cx="867.9" cy="1318.0" r="7.2"/><circle cx="619.9" cy="1519.0" r="7.2"/><circle cx="587.2" cy="1467.9" r="7.2"/><circle cx="981.2" cy="1349.3" r="7.2"/><circle cx="814.5" cy="1534.5" r="7.2"/><circle cx="750.9" cy="1545.6" r="7.2"/><circle cx="917.0" cy="1463.0" r="7.2"/><circle cx="603.5" cy="1511.0" r="7.2"/><circle cx="969.8" cy="1365.6" r="7.2"/><circle cx="746.1" cy="1376.6" r="7.2"/><circle cx="730.7" cy="1538.7" r="7.2"/><circle cx="837.6" cy="1315.1" r="7.2"/><circle cx="747.2" cy="1543.5" r="7.2"/><circle cx="762.0" cy="1363.9" r="7.2"/><circle cx="641.7" cy="1404.3" r="7.2"/><circle cx="951.3" cy="1306.2" r="7.2"/><circle cx="841.6" cy="1518.7" r="7.2"/><circle cx="922.7" cy="1473.9" r="7.2"/><circle cx="740.1" cy="1378.4" r="7.2"/><circle cx="914.4" cy="1473.4" r="7.2"/><circle cx="670.4" cy="1396.6" r="7.2"/><circle cx="773.7" cy="1534.4" r="7.2"/><circle cx="792.8" cy="1339.1" r="7.2"/><circle cx="594.1" cy="1446.1" r="7.2"/><circle cx="634.0" cy="1394.2" r="7.2"/><circle cx="920.0" cy="1470.5" r="7.2"/><circle cx="627.0" cy="1397.2" r="7.2"/><circle cx="968.0" cy="1316.8" r="7.2"/><circle cx="958.5" cy="1418.9" r="7.2"/><circle cx="980.3" cy="1325.2" r="7.2"/><circle cx="954.7" cy="1423.3" r="7.2"/><circle cx="716.2" cy="1372.9" r="7.2"/><circle cx="823.4" cy="1335.1" r="7.2"/><circle cx="684.2" cy="1396.0" r="7.2"/><circle cx="739.0" cy="1528.2" r="7.2"/><circle cx="900.9" cy="1489.2" r="7.2"/><circle cx="784.8" cy="1358.3" r="7.2"/><circle cx="897.9" cy="1318.7" r="7.2"/><circle cx="601.3" cy="1464.8" r="7.2"/><circle cx="776.0" cy="1537.7" r="7.2"/><circle cx="858.3" cy="1518.0" r="7.2"/><circle cx="805.3" cy="1532.4" r="7.2"/><circle cx="964.9" cy="1432.4" r="7.2"/><circle cx="980.7" cy="1337.9" r="7.2"/><circle cx="661.0" cy="1382.8" r="7.2"/><circle cx="654.0" cy="1403.0" r="7.2"/><circle cx="977.4" cy="1419.3" r="7.2"/><circle cx="601.1" cy="1480.2" r="7.2"/><circle cx="634.5" cy="1405.3" r="7.2"/><circle cx="620.6" cy="1398.5" r="7.2"/><circle cx="894.1" cy="1323.2" r="7.2"/><circle cx="819.7" cy="1521.8" r="7.2"/><circle cx="974.6" cy="1365.8" r="7.2"/><circle cx="885.9" cy="1491.6" r="7.2"/><circle cx="761.6" cy="1536.3" r="7.2"/><circle cx="972.3" cy="1388.7" r="7.2"/><circle cx="734.5" cy="1543.7" r="7.2"/><circle cx="762.9" cy="1359.7" r="7.2"/><circle cx="599.3" cy="1470.4" r="7.2"/><circle cx="973.7" cy="1353.6" r="7.2"/><circle cx="948.5" cy="1322.5" r="7.2"/><circle cx="604.0" cy="1425.4" r="7.2"/><circle cx="633.4" cy="1527.0" r="7.2"/><circle cx="592.1" cy="1491.1" r="7.2"/><circle cx="915.8" cy="1465.0" r="7.2"/><circle cx="930.0" cy="1443.9" r="7.2"/><circle cx="832.6" cy="1514.3" r="7.2"/><circle cx="948.3" cy="1433.7" r="7.2"/><circle cx="908.1" cy="1323.9" r="7.2"/><circle cx="684.8" cy="1536.0" r="7.2"/><circle cx="724.7" cy="1526.0" r="7.2"/><circle cx="862.9" cy="1503.6" r="7.2"/><circle cx="701.8" cy="1531.8" r="7.2"/><circle cx="838.3" cy="1323.5" r="7.2"/><circle cx="899.7" cy="1481.9" r="7.2"/><circle cx="854.9" cy="1326.2" r="7.2"/><circle cx="946.3" cy="1321.2" r="7.2"/><circle cx="780.2" cy="1351.5" r="7.2"/><circle cx="953.9" cy="1437.1" r="7.2"/><circle cx="741.8" cy="1379.2" r="7.2"/><circle cx="599.0" cy="1497.7" r="7.2"/><circle cx="640.8" cy="1389.0" r="7.2"/><circle cx="670.7" cy="1397.9" r="7.2"/><circle cx="604.9" cy="1453.9" r="7.2"/><circle cx="974.6" cy="1354.9" r="7.2"/><circle cx="639.2" cy="1407.8" r="7.2"/><circle cx="924.2" cy="1477.3" r="7.2"/><circle cx="983.5" cy="1339.5" r="7.2"/><circle cx="627.6" cy="1408.9" r="7.2"/><circle cx="715.8" cy="1378.8" r="7.2"/><circle cx="980.0" cy="1327.7" r="7.2"/><circle cx="605.1" cy="1513.6" r="7.2"/><circle cx="596.0" cy="1477.7" r="7.2"/><circle cx="837.7" cy="1333.2" r="7.2"/><circle cx="731.0" cy="1384.3" r="7.2"/><circle cx="904.2" cy="1316.2" r="7.2"/><circle cx="707.6" cy="1534.8" r="7.2"/><circle cx="687.3" cy="1530.1" r="7.2"/><circle cx="838.2" cy="1517.3" r="7.2"/><circle cx="971.2" cy="1379.3" r="7.2"/><circle cx="667.4" cy="1394.3" r="7.2"/><circle cx="902.7" cy="1491.4" r="7.2"/><circle cx="851.9" cy="1510.2" r="7.2"/><circle cx="925.2" cy="1461.9" r="7.2"/><circle cx="688.7" cy="1528.3" r="7.2"/><circle cx="619.6" cy="1511.4" r="7.2"/><circle cx="812.2" cy="1534.3" r="7.2"/><circle cx="950.0" cy="1437.1" r="7.2"/><circle cx="971.3" cy="1324.2" r="7.2"/><circle cx="972.7" cy="1396.6" r="7.2"/><circle cx="896.7" cy="1500.0" r="7.2"/><circle cx="613.9" cy="1402.4" r="7.2"/><circle cx="742.7" cy="1371.8" r="7.2"/><circle cx="596.1" cy="1432.8" r="7.2"/><circle cx="790.1" cy="1538.3" r="7.2"/><circle cx="913.7" cy="1491.2" r="7.2"/><circle cx="761.3" cy="1374.6" r="7.2"/><circle cx="730.3" cy="1386.7" r="7.2"/><circle cx="746.8" cy="1544.0" r="7.2"/><circle cx="946.2" cy="1445.1" r="7.2"/><circle cx="709.4" cy="1527.7" r="7.2"/><circle cx="612.8" cy="1517.8" r="7.2"/><circle cx="765.3" cy="1361.1" r="7.2"/><circle cx="737.2" cy="1538.2" r="7.2"/><circle cx="629.2" cy="1394.5" r="7.2"/><circle cx="967.7" cy="1311.9" r="7.2"/><circle cx="585.5" cy="1476.7" r="7.2"/><circle cx="970.6" cy="1412.1" r="7.2"/><circle cx="838.1" cy="1335.1" r="7.2"/><circle cx="595.0" cy="1421.0" r="7.2"/><circle cx="928.1" cy="1469.6" r="7.2"/><circle cx="971.0" cy="1375.7" r="7.2"/><circle cx="983.0" cy="1390.6" r="7.2"/><circle cx="672.9" cy="1387.3" r="7.2"/><circle cx="815.8" cy="1330.8" r="7.2"/><circle cx="970.7" cy="1368.1" r="7.2"/><circle cx="662.3" cy="1539.7" r="7.2"/><circle cx="709.7" cy="1390.4" r="7.2"/><circle cx="923.3" cy="1468.2" r="7.2"/><circle cx="604.9" cy="1492.7" r="7.2"/><circle cx="928.1" cy="1463.7" r="7.2"/><circle cx="657.9" cy="1530.1" r="7.2"/><circle cx="972.3" cy="1386.5" r="7.2"/><circle cx="934.4" cy="1454.9" r="7.2"/><circle cx="602.5" cy="1457.5" r="7.2"/><circle cx="875.5" cy="1508.6" r="7.2"/><circle cx="626.3" cy="1398.6" r="7.2"/><circle cx="866.0" cy="1505.0" r="7.2"/><circle cx="985.7" cy="1329.5" r="7.2"/><circle cx="604.6" cy="1441.0" r="7.2"/><circle cx="963.4" cy="1326.3" r="7.2"/><circle cx="978.9" cy="1320.1" r="7.2"/><circle cx="734.1" cy="1540.7" r="7.2"/><circle cx="858.7" cy="1511.6" r="7.2"/><circle cx="618.9" cy="1509.0" r="7.2"/><circle cx="762.1" cy="1363.8" r="7.2"/><circle cx="981.2" cy="1383.1" r="7.2"/><circle cx="851.5" cy="1313.9" r="7.2"/><circle cx="726.8" cy="1388.3" r="7.2"/><circle cx="906.1" cy="1316.6" r="7.2"/><circle cx="622.7" cy="1517.1" r="7.2"/><circle cx="695.6" cy="1386.3" r="7.2"/><circle cx="936.1" cy="1451.6" r="7.2"/><circle cx="885.3" cy="1324.9" r="7.2"/><circle cx="701.5" cy="1524.2" r="7.2"/><circle cx="633.5" cy="1541.1" r="7.2"/><circle cx="978.1" cy="1389.0" r="7.2"/><circle cx="621.2" cy="1410.1" r="7.2"/><circle cx="968.0" cy="1366.6" r="7.2"/><circle cx="977.8" cy="1412.2" r="7.2"/><circle cx="856.2" cy="1328.1" r="7.2"/><circle cx="738.6" cy="1542.5" r="7.2"/><circle cx="874.6" cy="1323.2" r="7.2"/><circle cx="893.8" cy="1317.8" r="7.2"/><circle cx="941.4" cy="1313.7" r="7.2"/><circle cx="882.4" cy="1502.4" r="7.2"/><circle cx="599.0" cy="1433.2" r="7.2"/><circle cx="690.9" cy="1522.4" r="7.2"/><circle cx="928.9" cy="1472.1" r="7.2"/><circle cx="680.8" cy="1385.1" r="7.2"/><circle cx="825.5" cy="1513.9" r="7.2"/><circle cx="871.5" cy="1324.6" r="7.2"/><circle cx="676.9" cy="1522.4" r="7.2"/><circle cx="700.8" cy="1522.7" r="7.2"/><circle cx="879.6" cy="1325.7" r="7.2"/><circle cx="608.7" cy="1401.0" r="7.2"/><circle cx="762.1" cy="1534.1" r="7.2"/><circle cx="885.9" cy="1489.0" r="7.2"/><circle cx="894.7" cy="1493.8" r="7.2"/><circle cx="671.8" cy="1386.7" r="7.2"/><circle cx="882.3" cy="1497.2" r="7.2"/><circle cx="702.6" cy="1390.3" r="7.2"/><circle cx="931.2" cy="1467.7" r="7.2"/><circle cx="755.8" cy="1537.2" r="7.2"/><circle cx="922.5" cy="1476.8" r="7.2"/><circle cx="974.2" cy="1351.9" r="7.2"/><circle cx="599.3" cy="1495.9" r="7.2"/><circle cx="651.8" cy="1533.5" r="7.2"/><circle cx="790.0" cy="1536.1" r="7.2"/><circle cx="601.5" cy="1490.8" r="7.2"/><circle cx="725.1" cy="1531.3" r="7.2"/><circle cx="970.9" cy="1368.0" r="7.2"/><circle cx="605.4" cy="1443.9" r="7.2"/><circle cx="834.5" cy="1510.6" r="7.2"/><circle cx="671.3" cy="1537.8" r="7.2"/><circle cx="902.9" cy="1497.1" r="7.2"/><circle cx="947.8" cy="1427.8" r="7.2"/><circle cx="891.1" cy="1492.8" r="7.2"/><circle cx="948.4" cy="1426.4" r="7.2"/><circle cx="685.9" cy="1542.1" r="7.2"/><circle cx="939.2" cy="1315.1" r="7.2"/><circle cx="974.1" cy="1317.4" r="7.2"/><circle cx="908.7" cy="1480.1" r="7.2"/><circle cx="651.2" cy="1402.8" r="7.2"/><circle cx="702.6" cy="1382.0" r="7.2"/><circle cx="764.7" cy="1538.1" r="7.2"/><circle cx="857.4" cy="1505.9" r="7.2"/><circle cx="739.8" cy="1532.5" r="7.2"/><circle cx="592.6" cy="1421.4" r="7.2"/><circle cx="718.7" cy="1529.6" r="7.2"/><circle cx="757.7" cy="1534.8" r="7.2"/><circle cx="591.7" cy="1427.9" r="7.2"/><circle cx="632.3" cy="1398.4" r="7.2"/><circle cx="737.5" cy="1543.8" r="7.2"/><circle cx="965.9" cy="1408.7" r="7.2"/><circle cx="751.2" cy="1540.4" r="7.2"/><circle cx="608.4" cy="1435.1" r="7.2"/><circle cx="897.6" cy="1319.1" r="7.2"/><circle cx="981.2" cy="1355.7" r="7.2"/><circle cx="972.8" cy="1409.2" r="7.2"/><circle cx="940.7" cy="1434.5" r="7.2"/><circle cx="886.3" cy="1319.1" r="7.2"/><circle cx="970.2" cy="1408.3" r="7.2"/><circle cx="814.8" cy="1338.9" r="7.2"/><circle cx="854.3" cy="1325.7" r="7.2"/><circle cx="863.7" cy="1324.3" r="7.2"/><circle cx="732.4" cy="1381.9" r="7.2"/><circle cx="655.2" cy="1393.3" r="7.2"/><circle cx="879.2" cy="1323.4" r="7.2"/><circle cx="606.2" cy="1426.4" r="7.2"/><circle cx="593.1" cy="1424.9" r="7.2"/><circle cx="883.1" cy="1492.3" r="7.2"/><circle cx="890.9" cy="1504.3" r="7.2"/><circle cx="749.5" cy="1380.4" r="7.2"/><circle cx="743.1" cy="1379.4" r="7.2"/><circle cx="608.3" cy="1417.3" r="7.2"/><circle cx="749.5" cy="1539.4" r="7.2"/><circle cx="663.5" cy="1389.1" r="7.2"/><circle cx="598.8" cy="1419.7" r="7.2"/><circle cx="691.5" cy="1542.3" r="7.2"/><circle cx="656.1" cy="1402.4" r="7.2"/><circle cx="942.1" cy="1448.0" r="7.2"/><circle cx="604.8" cy="1411.9" r="7.2"/><circle cx="904.1" cy="1494.5" r="7.2"/><circle cx="983.2" cy="1349.7" r="7.2"/><circle cx="756.8" cy="1365.1" r="7.2"/><circle cx="974.4" cy="1395.5" r="7.2"/><circle cx="980.0" cy="1372.5" r="7.2"/><circle cx="964.6" cy="1411.3" r="7.2"/><circle cx="594.9" cy="1493.7" r="7.2"/><circle cx="614.6" cy="1508.0" r="7.2"/><circle cx="606.7" cy="1453.0" r="7.2"/><circle cx="814.9" cy="1343.8" r="7.2"/><circle cx="954.3" cy="1438.5" r="7.2"/><circle cx="751.3" cy="1542.7" r="7.2"/><circle cx="943.9" cy="1314.3" r="7.2"/><circle cx="753.3" cy="1377.1" r="7.2"/><circle cx="843.8" cy="1516.3" r="7.2"/><circle cx="599.3" cy="1416.1" r="7.2"/><circle cx="881.1" cy="1499.4" r="7.2"/><circle cx="980.6" cy="1362.7" r="7.2"/><circle cx="938.2" cy="1454.2" r="7.2"/><circle cx="935.4" cy="1442.8" r="7.2"/><circle cx="730.2" cy="1535.2" r="7.2"/><circle cx="863.6" cy="1318.5" r="7.2"/><circle cx="818.3" cy="1332.1" r="7.2"/><circle cx="747.0" cy="1531.1" r="7.2"/><circle cx="930.3" cy="1307.7" r="7.2"/><circle cx="893.8" cy="1499.7" r="7.2"/><circle cx="719.5" cy="1539.7" r="7.2"/><circle cx="933.1" cy="1445.4" r="7.2"/><circle cx="779.5" cy="1356.7" r="7.2"/><circle cx="744.2" cy="1541.8" r="7.2"/><circle cx="789.8" cy="1537.0" r="7.2"/><circle cx="956.3" cy="1322.2" r="7.2"/><circle cx="942.4" cy="1441.0" r="7.2"/><circle cx="778.0" cy="1357.5" r="7.2"/><circle cx="945.2" cy="1308.8" r="7.2"/><circle cx="765.0" cy="1359.0" r="7.2"/><circle cx="754.7" cy="1376.1" r="7.2"/><circle cx="976.4" cy="1408.0" r="7.2"/><circle cx="675.5" cy="1392.7" r="7.2"/><circle cx="883.6" cy="1316.0" r="7.2"/><circle cx="621.5" cy="1534.7" r="7.2"/><circle cx="971.1" cy="1423.8" r="7.2"/><circle cx="702.6" cy="1526.9" r="7.2"/><circle cx="668.7" cy="1397.5" r="7.2"/><circle cx="604.0" cy="1492.5" r="7.2"/><circle cx="656.3" cy="1533.6" r="7.2"/><circle cx="762.1" cy="1359.1" r="7.2"/><circle cx="791.9" cy="1541.3" r="7.2"/><circle cx="960.4" cy="1417.8" r="7.2"/><circle cx="728.7" cy="1378.0" r="7.2"/><circle cx="837.3" cy="1320.6" r="7.2"/><circle cx="800.4" cy="1343.1" r="7.2"/><circle cx="596.2" cy="1461.5" r="7.2"/><circle cx="814.8" cy="1335.0" r="7.2"/><circle cx="701.0" cy="1387.4" r="7.2"/><circle cx="826.2" cy="1325.5" r="7.2"/><circle cx="904.7" cy="1319.3" r="7.2"/><circle cx="672.0" cy="1539.7" r="7.2"/><circle cx="698.7" cy="1390.5" r="7.2"/><circle cx="703.0" cy="1373.5" r="7.2"/><circle cx="899.0" cy="1489.3" r="7.2"/><circle cx="916.2" cy="1295.7" r="7.2"/><circle cx="932.1" cy="1297.3" r="7.2"/><circle cx="951.2" cy="1298.8" r="7.2"/><circle cx="976.6" cy="1289.3" r="7.2"/><circle cx="989.4" cy="1287.7" r="7.2"/><circle cx="1005.3" cy="1281.3" r="7.2"/><circle cx="1046.6" cy="1279.8" r="7.2"/><circle cx="1037.1" cy="1298.8" r="7.2"/><circle cx="1049.8" cy="1303.6" r="7.2"/><circle cx="1065.7" cy="1298.8" r="7.2"/><circle cx="1081.6" cy="1294.1" r="7.2"/><circle cx="1091.1" cy="1310.0" r="7.2"/><circle cx="1072.1" cy="1316.3" r="7.2"/><circle cx="1011.6" cy="1332.2" r="7.2"/><circle cx="1024.4" cy="1329.1" r="7.2"/><circle cx="1037.1" cy="1335.4" r="7.2"/><circle cx="1043.4" cy="1341.8" r="7.2"/><circle cx="1081.6" cy="1340.2" r="7.2"/><circle cx="1097.5" cy="1340.2" r="7.2"/><circle cx="1011.6" cy="1360.9" r="7.2"/><circle cx="1018.0" cy="1367.2" r="7.2"/><circle cx="1037.1" cy="1370.4" r="7.2"/><circle cx="1056.2" cy="1372.0" r="7.2"/><circle cx="1037.1" cy="1395.9" r="7.2"/><circle cx="1046.6" cy="1405.4" r="7.2"/><circle cx="1014.8" cy="1410.2" r="7.2"/><circle cx="998.9" cy="1424.5" r="7.2"/><circle cx="1075.2" cy="1435.6" r="7.2"/><circle cx="1014.8" cy="1446.7" r="7.2"/><circle cx="970.3" cy="1464.2" r="7.2"/><circle cx="938.5" cy="1459.5" r="7.2"/><circle cx="951.2" cy="1449.9" r="7.2"/><circle cx="1005.3" cy="1478.5" r="7.2"/><circle cx="913.0" cy="1491.3" r="7.2"/><circle cx="887.6" cy="1504.0" r="7.2"/><circle cx="795.3" cy="1535.8" r="7.2"/><circle cx="779.4" cy="1539.0" r="7.2"/><circle cx="652.2" cy="1562.8" r="7.2"/><circle cx="617.2" cy="1545.3" r="7.2"/><circle cx="633.1" cy="1537.4" r="7.2"/><circle cx="642.7" cy="1526.3" r="7.2"/><circle cx="839.9" cy="1316.3" r="7.2"/><circle cx="833.5" cy="1330.6" r="7.2"/><circle cx="795.3" cy="1343.4" r="7.2"/><circle cx="763.5" cy="1362.5" r="7.2"/><circle cx="617.2" cy="1399.0" r="7.2"/><circle cx="881.2" cy="1316.3" r="7.2"/><circle cx="900.3" cy="1313.2" r="7.2"/></g>
<path d="M571.7,1652.6 L562.0,1677.4 L561.6,1678.3 L561.2,1679.1 L560.6,1679.8 L560.0,1680.5 L559.3,1681.1 L558.6,1681.6 L557.8,1682.1 L534.5,1694.5 L529.4,1717.1 L534.4,1739.6 L557.2,1751.0 L679.7,1747.9 L707.7,1741.4 L738.3,1723.7 L770.0,1704.6 L770.5,1704.4 L800.2,1688.7 L819.5,1675.3 L823.0,1652.1 L823.1,1651.9 L828.6,1621.2 L826.3,1591.2 L817.7,1577.7 L804.9,1571.2 L778.2,1575.2 L732.9,1588.3 L687.1,1604.1 L643.1,1620.4 L599.0,1642.5 L598.1,1642.8 L571.7,1652.6Z" fill="#a020f0" stroke="#a020f0" stroke-width="4" stroke-linejoin="round"/>
<g fill="none" stroke="#a020f0" stroke-width="1.9"><circle cx="715.1" cy="1583.6" r="6.1"/><circle cx="645.8" cy="1747.3" r="6.1"/><circle cx="707.9" cy="1601.0" r="6.1"/><circle cx="747.1" cy="1588.8" r="6.1"/><circle cx="636.9" cy="1745.3" r="6.1"/><circle cx="682.5" cy="1597.8" r="6.1"/><circle cx="755.8" cy="1585.3" r="6.1"/><circle cx="607.3" cy="1751.7" r="6.1"/><circle cx="691.2" cy="1756.7" r="6.1"/><circle cx="535.3" cy="1694.0" r="6.1"/><circle cx="543.6" cy="1761.3" r="6.1"/><circle cx="669.2" cy="1743.5" r="6.1"/><circle cx="707.1" cy="1579.6" r="6.1"/><circle cx="548.1" cy="1690.0" r="6.1"/><circle cx="729.8" cy="1726.8" r="6.1"/><circle cx="603.4" cy="1642.7" r="6.1"/><circle cx="588.2" cy="1750.6" r="6.1"/><circle cx="693.7" cy="1753.9" r="6.1"/><circle cx="521.6" cy="1701.2" r="6.1"/><circle cx="682.3" cy="1594.7" r="6.1"/><circle cx="643.4" cy="1757.0" r="6.1"/><circle cx="807.6" cy="1691.3" r="6.1"/><circle cx="741.9" cy="1721.7" r="6.1"/><circle cx="604.3" cy="1643.7" r="6.1"/><circle cx="565.5" cy="1641.3" r="6.1"/><circle cx="544.7" cy="1748.1" r="6.1"/><circle cx="738.1" cy="1576.9" r="6.1"/><circle cx="603.6" cy="1748.0" r="6.1"/><circle cx="712.4" cy="1580.6" r="6.1"/><circle cx="741.6" cy="1718.2" r="6.1"/><circle cx="562.5" cy="1684.9" r="6.1"/><circle cx="741.6" cy="1716.7" r="6.1"/><circle cx="747.3" cy="1724.0" r="6.1"/><circle cx="667.4" cy="1742.5" r="6.1"/><circle cx="700.4" cy="1752.4" r="6.1"/><circle cx="737.5" cy="1725.9" r="6.1"/><circle cx="547.1" cy="1689.6" r="6.1"/><circle cx="697.6" cy="1738.2" r="6.1"/><circle cx="667.2" cy="1613.4" r="6.1"/><circle cx="832.2" cy="1646.9" r="6.1"/><circle cx="834.9" cy="1621.1" r="6.1"/><circle cx="822.5" cy="1589.9" r="6.1"/><circle cx="635.8" cy="1628.4" r="6.1"/><circle cx="649.2" cy="1611.8" r="6.1"/><circle cx="833.8" cy="1569.5" r="6.1"/><circle cx="659.7" cy="1604.1" r="6.1"/><circle cx="783.0" cy="1577.9" r="6.1"/><circle cx="803.3" cy="1681.6" r="6.1"/><circle cx="829.9" cy="1565.5" r="6.1"/><circle cx="789.6" cy="1550.2" r="6.1"/><circle cx="532.2" cy="1748.8" r="6.1"/><circle cx="562.8" cy="1660.3" r="6.1"/><circle cx="583.8" cy="1753.3" r="6.1"/><circle cx="816.3" cy="1579.5" r="6.1"/><circle cx="830.6" cy="1584.6" r="6.1"/><circle cx="796.5" cy="1688.2" r="6.1"/><circle cx="644.9" cy="1614.6" r="6.1"/><circle cx="770.4" cy="1705.1" r="6.1"/><circle cx="531.5" cy="1720.6" r="6.1"/><circle cx="802.5" cy="1681.7" r="6.1"/><circle cx="824.5" cy="1651.8" r="6.1"/><circle cx="825.6" cy="1675.2" r="6.1"/><circle cx="608.8" cy="1751.5" r="6.1"/><circle cx="832.9" cy="1593.2" r="6.1"/><circle cx="753.6" cy="1723.7" r="6.1"/><circle cx="677.9" cy="1605.1" r="6.1"/><circle cx="519.4" cy="1742.5" r="6.1"/><circle cx="622.8" cy="1619.4" r="6.1"/><circle cx="815.9" cy="1680.2" r="6.1"/><circle cx="695.4" cy="1600.6" r="6.1"/><circle cx="536.4" cy="1696.8" r="6.1"/><circle cx="533.6" cy="1706.1" r="6.1"/><circle cx="757.6" cy="1712.2" r="6.1"/><circle cx="550.2" cy="1672.8" r="6.1"/><circle cx="840.0" cy="1627.5" r="6.1"/><circle cx="832.5" cy="1683.5" r="6.1"/><circle cx="690.3" cy="1764.1" r="6.1"/><circle cx="799.7" cy="1698.5" r="6.1"/><circle cx="653.7" cy="1751.2" r="6.1"/><circle cx="653.8" cy="1752.4" r="6.1"/><circle cx="737.9" cy="1584.5" r="6.1"/><circle cx="559.1" cy="1626.6" r="6.1"/><circle cx="601.2" cy="1647.0" r="6.1"/><circle cx="660.6" cy="1608.4" r="6.1"/><circle cx="797.7" cy="1687.0" r="6.1"/><circle cx="555.4" cy="1681.7" r="6.1"/><circle cx="778.5" cy="1703.6" r="6.1"/><circle cx="655.1" cy="1751.7" r="6.1"/><circle cx="839.3" cy="1629.2" r="6.1"/><circle cx="542.8" cy="1682.1" r="6.1"/><circle cx="831.3" cy="1647.5" r="6.1"/><circle cx="679.7" cy="1748.6" r="6.1"/><circle cx="816.2" cy="1690.8" r="6.1"/><circle cx="794.2" cy="1709.4" r="6.1"/><circle cx="812.0" cy="1679.4" r="6.1"/><circle cx="570.7" cy="1638.8" r="6.1"/><circle cx="726.8" cy="1724.8" r="6.1"/><circle cx="518.7" cy="1744.1" r="6.1"/><circle cx="557.0" cy="1762.1" r="6.1"/><circle cx="671.3" cy="1762.6" r="6.1"/><circle cx="565.9" cy="1656.2" r="6.1"/><circle cx="524.4" cy="1747.0" r="6.1"/><circle cx="791.8" cy="1692.2" r="6.1"/><circle cx="568.5" cy="1754.0" r="6.1"/><circle cx="537.0" cy="1687.8" r="6.1"/><circle cx="824.0" cy="1626.9" r="6.1"/><circle cx="710.0" cy="1744.5" r="6.1"/><circle cx="545.8" cy="1755.8" r="6.1"/><circle cx="579.3" cy="1645.8" r="6.1"/><circle cx="741.1" cy="1734.3" r="6.1"/><circle cx="529.9" cy="1701.0" r="6.1"/><circle cx="515.7" cy="1725.7" r="6.1"/><circle cx="689.7" cy="1747.4" r="6.1"/><circle cx="563.7" cy="1663.3" r="6.1"/><circle cx="823.9" cy="1670.2" r="6.1"/><circle cx="687.8" cy="1605.2" r="6.1"/><circle cx="675.9" cy="1589.4" r="6.1"/><circle cx="658.9" cy="1598.7" r="6.1"/><circle cx="749.6" cy="1578.3" r="6.1"/><circle cx="739.4" cy="1717.6" r="6.1"/><circle cx="820.3" cy="1555.1" r="6.1"/><circle cx="749.0" cy="1587.5" r="6.1"/><circle cx="551.4" cy="1658.0" r="6.1"/><circle cx="729.9" cy="1577.8" r="6.1"/><circle cx="829.5" cy="1558.4" r="6.1"/><circle cx="553.5" cy="1674.0" r="6.1"/><circle cx="773.9" cy="1714.3" r="6.1"/><circle cx="800.1" cy="1566.3" r="6.1"/><circle cx="539.8" cy="1747.6" r="6.1"/><circle cx="717.0" cy="1598.4" r="6.1"/><circle cx="808.0" cy="1571.2" r="6.1"/><circle cx="838.1" cy="1596.2" r="6.1"/><circle cx="797.3" cy="1570.3" r="6.1"/><circle cx="565.0" cy="1670.0" r="6.1"/><circle cx="533.8" cy="1728.5" r="6.1"/><circle cx="719.9" cy="1590.9" r="6.1"/><circle cx="725.9" cy="1742.9" r="6.1"/><circle cx="589.5" cy="1759.9" r="6.1"/><circle cx="823.0" cy="1627.3" r="6.1"/><circle cx="607.1" cy="1752.7" r="6.1"/><circle cx="732.2" cy="1746.3" r="6.1"/><circle cx="741.4" cy="1721.9" r="6.1"/><circle cx="644.3" cy="1608.6" r="6.1"/><circle cx="775.7" cy="1703.5" r="6.1"/><circle cx="686.8" cy="1609.2" r="6.1"/><circle cx="644.7" cy="1607.4" r="6.1"/><circle cx="831.5" cy="1689.8" r="6.1"/><circle cx="838.7" cy="1650.1" r="6.1"/><circle cx="578.0" cy="1744.6" r="6.1"/><circle cx="782.8" cy="1703.4" r="6.1"/><circle cx="695.0" cy="1738.8" r="6.1"/><circle cx="748.0" cy="1721.5" r="6.1"/><circle cx="828.5" cy="1656.5" r="6.1"/><circle cx="584.2" cy="1633.2" r="6.1"/><circle cx="598.6" cy="1639.6" r="6.1"/><circle cx="629.3" cy="1763.2" r="6.1"/><circle cx="566.2" cy="1666.5" r="6.1"/><circle cx="771.2" cy="1567.6" r="6.1"/><circle cx="754.8" cy="1724.2" r="6.1"/><circle cx="766.6" cy="1717.5" r="6.1"/><circle cx="677.0" cy="1602.5" r="6.1"/><circle cx="617.0" cy="1754.0" r="6.1"/><circle cx="523.1" cy="1729.8" r="6.1"/><circle cx="831.9" cy="1628.0" r="6.1"/><circle cx="517.4" cy="1744.3" r="6.1"/><circle cx="572.6" cy="1745.5" r="6.1"/><circle cx="763.4" cy="1703.4" r="6.1"/><circle cx="578.9" cy="1760.1" r="6.1"/><circle cx="542.7" cy="1754.0" r="6.1"/><circle cx="823.3" cy="1594.6" r="6.1"/><circle cx="815.7" cy="1575.7" r="6.1"/><circle cx="620.2" cy="1611.1" r="6.1"/><circle cx="782.4" cy="1694.2" r="6.1"/><circle cx="836.6" cy="1672.6" r="6.1"/><circle cx="695.0" cy="1738.8" r="6.1"/><circle cx="521.1" cy="1731.2" r="6.1"/><circle cx="698.2" cy="1753.7" r="6.1"/><circle cx="821.6" cy="1656.3" r="6.1"/><circle cx="822.1" cy="1674.3" r="6.1"/><circle cx="634.4" cy="1604.8" r="6.1"/><circle cx="841.9" cy="1622.6" r="6.1"/><circle cx="568.0" cy="1670.1" r="6.1"/><circle cx="801.7" cy="1700.4" r="6.1"/><circle cx="537.4" cy="1685.5" r="6.1"/><circle cx="556.6" cy="1668.5" r="6.1"/><circle cx="584.3" cy="1650.1" r="6.1"/><circle cx="847.0" cy="1638.7" r="6.1"/><circle cx="582.7" cy="1750.0" r="6.1"/><circle cx="566.6" cy="1677.5" r="6.1"/><circle cx="643.1" cy="1750.5" r="6.1"/><circle cx="756.2" cy="1718.6" r="6.1"/><circle cx="536.6" cy="1724.5" r="6.1"/><circle cx="749.0" cy="1722.8" r="6.1"/><circle cx="678.1" cy="1753.9" r="6.1"/><circle cx="613.7" cy="1640.2" r="6.1"/><circle cx="658.4" cy="1758.7" r="6.1"/><circle cx="776.9" cy="1705.1" r="6.1"/><circle cx="772.6" cy="1710.0" r="6.1"/><circle cx="801.3" cy="1694.9" r="6.1"/><circle cx="572.3" cy="1647.6" r="6.1"/><circle cx="527.3" cy="1687.8" r="6.1"/><circle cx="724.0" cy="1568.8" r="6.1"/><circle cx="518.9" cy="1673.2" r="6.1"/><circle cx="592.6" cy="1638.9" r="6.1"/><circle cx="534.4" cy="1705.4" r="6.1"/><circle cx="685.6" cy="1610.7" r="6.1"/><circle cx="551.2" cy="1640.5" r="6.1"/><circle cx="739.8" cy="1581.1" r="6.1"/><circle cx="535.5" cy="1736.3" r="6.1"/><circle cx="818.9" cy="1655.9" r="6.1"/><circle cx="566.2" cy="1664.9" r="6.1"/><circle cx="830.8" cy="1575.0" r="6.1"/><circle cx="608.0" cy="1744.6" r="6.1"/><circle cx="657.0" cy="1618.7" r="6.1"/><circle cx="642.5" cy="1748.0" r="6.1"/><circle cx="737.0" cy="1722.5" r="6.1"/><circle cx="609.3" cy="1744.2" r="6.1"/><circle cx="613.1" cy="1630.0" r="6.1"/><circle cx="567.8" cy="1665.3" r="6.1"/><circle cx="533.2" cy="1711.7" r="6.1"/><circle cx="579.9" cy="1751.5" r="6.1"/><circle cx="825.9" cy="1667.9" r="6.1"/><circle cx="585.9" cy="1637.7" r="6.1"/><circle cx="676.2" cy="1749.9" r="6.1"/><circle cx="554.6" cy="1767.1" r="6.1"/><circle cx="783.9" cy="1708.2" r="6.1"/><circle cx="821.2" cy="1682.2" r="6.1"/><circle cx="594.9" cy="1631.9" r="6.1"/><circle cx="767.7" cy="1565.0" r="6.1"/><circle cx="664.8" cy="1749.1" r="6.1"/><circle cx="841.2" cy="1629.1" r="6.1"/><circle cx="829.9" cy="1677.3" r="6.1"/><circle cx="623.4" cy="1624.1" r="6.1"/><circle cx="836.3" cy="1615.9" r="6.1"/><circle cx="692.7" cy="1759.6" r="6.1"/><circle cx="673.7" cy="1598.6" r="6.1"/><circle cx="805.4" cy="1573.6" r="6.1"/><circle cx="744.0" cy="1574.2" r="6.1"/><circle cx="835.0" cy="1652.9" r="6.1"/><circle cx="538.9" cy="1699.6" r="6.1"/><circle cx="560.7" cy="1655.6" r="6.1"/><circle cx="751.6" cy="1725.6" r="6.1"/><circle cx="599.4" cy="1755.5" r="6.1"/><circle cx="737.9" cy="1574.2" r="6.1"/><circle cx="747.2" cy="1574.2" r="6.1"/><circle cx="742.5" cy="1569.0" r="6.1"/><circle cx="682.1" cy="1741.8" r="6.1"/><circle cx="677.6" cy="1748.6" r="6.1"/><circle cx="528.0" cy="1731.3" r="6.1"/><circle cx="648.7" cy="1752.6" r="6.1"/><circle cx="657.8" cy="1596.9" r="6.1"/><circle cx="759.1" cy="1728.0" r="6.1"/><circle cx="833.2" cy="1604.9" r="6.1"/><circle cx="726.9" cy="1725.5" r="6.1"/><circle cx="794.4" cy="1686.8" r="6.1"/><circle cx="688.6" cy="1600.3" r="6.1"/><circle cx="570.2" cy="1769.8" r="6.1"/><circle cx="762.9" cy="1718.5" r="6.1"/><circle cx="767.7" cy="1710.7" r="6.1"/><circle cx="656.2" cy="1613.4" r="6.1"/><circle cx="814.9" cy="1575.6" r="6.1"/><circle cx="831.8" cy="1595.8" r="6.1"/><circle cx="608.8" cy="1760.6" r="6.1"/><circle cx="669.9" cy="1754.5" r="6.1"/><circle cx="575.0" cy="1645.5" r="6.1"/><circle cx="681.4" cy="1746.2" r="6.1"/><circle cx="614.6" cy="1634.0" r="6.1"/><circle cx="546.0" cy="1740.3" r="6.1"/><circle cx="729.9" cy="1582.5" r="6.1"/><circle cx="642.1" cy="1752.9" r="6.1"/><circle cx="592.3" cy="1761.8" r="6.1"/><circle cx="826.8" cy="1617.4" r="6.1"/><circle cx="660.8" cy="1607.8" r="6.1"/><circle cx="765.4" cy="1718.9" r="6.1"/><circle cx="753.5" cy="1583.6" r="6.1"/><circle cx="637.3" cy="1612.0" r="6.1"/><circle cx="761.1" cy="1578.5" r="6.1"/><circle cx="765.0" cy="1565.7" r="6.1"/><circle cx="587.7" cy="1745.4" r="6.1"/><circle cx="714.8" cy="1575.2" r="6.1"/><circle cx="527.2" cy="1722.7" r="6.1"/><circle cx="706.1" cy="1573.2" r="6.1"/><circle cx="581.9" cy="1648.1" r="6.1"/><circle cx="592.3" cy="1762.8" r="6.1"/><circle cx="827.8" cy="1574.1" r="6.1"/><circle cx="552.8" cy="1690.9" r="6.1"/><circle cx="720.2" cy="1738.2" r="6.1"/><circle cx="526.4" cy="1739.3" r="6.1"/><circle cx="519.2" cy="1688.1" r="6.1"/><circle cx="581.8" cy="1639.1" r="6.1"/><circle cx="762.3" cy="1712.3" r="6.1"/><circle cx="811.4" cy="1564.9" r="6.1"/><circle cx="792.6" cy="1565.2" r="6.1"/><circle cx="622.2" cy="1758.5" r="6.1"/><circle cx="731.7" cy="1582.3" r="6.1"/><circle cx="661.7" cy="1616.4" r="6.1"/><circle cx="599.3" cy="1752.1" r="6.1"/><circle cx="611.3" cy="1760.5" r="6.1"/><circle cx="742.2" cy="1573.3" r="6.1"/><circle cx="809.9" cy="1556.3" r="6.1"/><circle cx="522.1" cy="1758.4" r="6.1"/><circle cx="642.4" cy="1602.6" r="6.1"/><circle cx="626.5" cy="1624.9" r="6.1"/><circle cx="562.5" cy="1628.6" r="6.1"/><circle cx="535.6" cy="1697.0" r="6.1"/><circle cx="792.1" cy="1695.6" r="6.1"/><circle cx="599.6" cy="1750.1" r="6.1"/><circle cx="652.4" cy="1747.2" r="6.1"/><circle cx="753.1" cy="1711.0" r="6.1"/><circle cx="574.9" cy="1763.9" r="6.1"/><circle cx="851.3" cy="1586.3" r="6.1"/><circle cx="529.8" cy="1742.7" r="6.1"/><circle cx="778.4" cy="1710.4" r="6.1"/><circle cx="751.3" cy="1588.9" r="6.1"/><circle cx="679.2" cy="1748.7" r="6.1"/><circle cx="738.3" cy="1582.0" r="6.1"/><circle cx="595.2" cy="1751.8" r="6.1"/><circle cx="829.8" cy="1610.6" r="6.1"/><circle cx="551.2" cy="1741.3" r="6.1"/><circle cx="752.2" cy="1718.1" r="6.1"/><circle cx="630.6" cy="1619.9" r="6.1"/><circle cx="635.4" cy="1623.4" r="6.1"/><circle cx="596.9" cy="1753.9" r="6.1"/><circle cx="705.6" cy="1595.8" r="6.1"/><circle cx="690.4" cy="1604.4" r="6.1"/><circle cx="777.7" cy="1719.1" r="6.1"/><circle cx="545.1" cy="1741.2" r="6.1"/><circle cx="623.0" cy="1754.0" r="6.1"/><circle cx="736.3" cy="1718.3" r="6.1"/><circle cx="535.6" cy="1685.3" r="6.1"/><circle cx="683.4" cy="1608.8" r="6.1"/><circle cx="711.8" cy="1576.3" r="6.1"/><circle cx="576.1" cy="1636.9" r="6.1"/><circle cx="841.0" cy="1606.5" r="6.1"/><circle cx="717.6" cy="1736.5" r="6.1"/><circle cx="537.1" cy="1695.3" r="6.1"/><circle cx="819.4" cy="1577.0" r="6.1"/><circle cx="609.9" cy="1639.7" r="6.1"/><circle cx="812.4" cy="1692.6" r="6.1"/><circle cx="596.5" cy="1756.9" r="6.1"/><circle cx="522.5" cy="1670.9" r="6.1"/><circle cx="615.4" cy="1633.8" r="6.1"/><circle cx="757.9" cy="1586.7" r="6.1"/><circle cx="833.5" cy="1611.8" r="6.1"/><circle cx="751.2" cy="1558.2" r="6.1"/><circle cx="720.9" cy="1741.2" r="6.1"/><circle cx="583.8" cy="1747.7" r="6.1"/><circle cx="570.6" cy="1766.1" r="6.1"/><circle cx="714.3" cy="1751.9" r="6.1"/><circle cx="834.2" cy="1642.7" r="6.1"/><circle cx="694.3" cy="1587.5" r="6.1"/><circle cx="668.3" cy="1601.3" r="6.1"/><circle cx="549.8" cy="1684.4" r="6.1"/><circle cx="560.7" cy="1653.9" r="6.1"/><circle cx="578.2" cy="1641.5" r="6.1"/><circle cx="792.3" cy="1707.6" r="6.1"/><circle cx="552.6" cy="1678.8" r="6.1"/><circle cx="837.3" cy="1590.3" r="6.1"/><circle cx="616.3" cy="1765.3" r="6.1"/><circle cx="754.7" cy="1568.8" r="6.1"/><circle cx="589.0" cy="1649.2" r="6.1"/><circle cx="763.9" cy="1703.4" r="6.1"/><circle cx="675.5" cy="1752.3" r="6.1"/><circle cx="775.3" cy="1576.8" r="6.1"/><circle cx="696.2" cy="1748.6" r="6.1"/><circle cx="601.0" cy="1749.1" r="6.1"/><circle cx="791.5" cy="1570.3" r="6.1"/><circle cx="823.1" cy="1562.9" r="6.1"/><circle cx="713.9" cy="1592.0" r="6.1"/><circle cx="724.9" cy="1731.7" r="6.1"/><circle cx="599.6" cy="1636.3" r="6.1"/><circle cx="807.6" cy="1690.6" r="6.1"/><circle cx="745.0" cy="1724.8" r="6.1"/><circle cx="805.6" cy="1558.4" r="6.1"/><circle cx="564.9" cy="1670.6" r="6.1"/><circle cx="834.7" cy="1615.2" r="6.1"/><circle cx="540.0" cy="1682.3" r="6.1"/><circle cx="833.6" cy="1578.8" r="6.1"/><circle cx="829.4" cy="1658.7" r="6.1"/><circle cx="724.4" cy="1745.9" r="6.1"/><circle cx="586.2" cy="1749.7" r="6.1"/><circle cx="585.9" cy="1746.3" r="6.1"/><circle cx="768.8" cy="1710.4" r="6.1"/><circle cx="682.4" cy="1605.8" r="6.1"/><circle cx="603.7" cy="1619.6" r="6.1"/><circle cx="615.0" cy="1637.3" r="6.1"/><circle cx="798.5" cy="1562.5" r="6.1"/><circle cx="530.2" cy="1751.3" r="6.1"/><circle cx="633.9" cy="1613.0" r="6.1"/><circle cx="740.8" cy="1724.7" r="6.1"/><circle cx="602.7" cy="1748.6" r="6.1"/><circle cx="665.5" cy="1598.5" r="6.1"/><circle cx="547.6" cy="1688.9" r="6.1"/><circle cx="608.8" cy="1746.3" r="6.1"/><circle cx="764.4" cy="1575.5" r="6.1"/><circle cx="822.2" cy="1685.8" r="6.1"/><circle cx="622.4" cy="1761.9" r="6.1"/><circle cx="723.8" cy="1578.3" r="6.1"/><circle cx="728.9" cy="1591.5" r="6.1"/><circle cx="731.7" cy="1579.6" r="6.1"/><circle cx="582.7" cy="1637.1" r="6.1"/><circle cx="529.8" cy="1681.3" r="6.1"/><circle cx="830.5" cy="1655.6" r="6.1"/><circle cx="780.8" cy="1710.6" r="6.1"/><circle cx="522.5" cy="1709.9" r="6.1"/><circle cx="756.7" cy="1726.7" r="6.1"/><circle cx="568.4" cy="1753.6" r="6.1"/><circle cx="596.7" cy="1642.7" r="6.1"/><circle cx="646.0" cy="1618.1" r="6.1"/><circle cx="703.9" cy="1754.5" r="6.1"/><circle cx="565.8" cy="1677.4" r="6.1"/><circle cx="653.4" cy="1600.6" r="6.1"/><circle cx="589.8" cy="1635.8" r="6.1"/><circle cx="763.2" cy="1709.7" r="6.1"/><circle cx="833.8" cy="1587.9" r="6.1"/><circle cx="623.0" cy="1618.1" r="6.1"/><circle cx="565.7" cy="1680.8" r="6.1"/><circle cx="747.2" cy="1720.5" r="6.1"/><circle cx="717.2" cy="1594.6" r="6.1"/><circle cx="530.2" cy="1752.8" r="6.1"/><circle cx="828.2" cy="1678.7" r="6.1"/><circle cx="637.1" cy="1743.2" r="6.1"/><circle cx="533.7" cy="1761.1" r="6.1"/><circle cx="590.1" cy="1637.0" r="6.1"/><circle cx="757.0" cy="1565.0" r="6.1"/><circle cx="689.3" cy="1598.6" r="6.1"/><circle cx="783.9" cy="1579.0" r="6.1"/><circle cx="536.6" cy="1724.0" r="6.1"/><circle cx="716.5" cy="1758.7" r="6.1"/><circle cx="832.8" cy="1658.5" r="6.1"/><circle cx="843.6" cy="1587.8" r="6.1"/><circle cx="839.4" cy="1652.0" r="6.1"/><circle cx="769.7" cy="1721.1" r="6.1"/><circle cx="839.0" cy="1618.2" r="6.1"/><circle cx="833.0" cy="1631.4" r="6.1"/><circle cx="734.6" cy="1730.1" r="6.1"/><circle cx="603.3" cy="1640.7" r="6.1"/><circle cx="695.8" cy="1605.5" r="6.1"/><circle cx="831.4" cy="1571.6" r="6.1"/><circle cx="815.2" cy="1698.0" r="6.1"/><circle cx="642.6" cy="1748.1" r="6.1"/><circle cx="807.9" cy="1690.9" r="6.1"/><circle cx="818.5" cy="1661.4" r="6.1"/><circle cx="639.2" cy="1620.8" r="6.1"/><circle cx="586.4" cy="1747.9" r="6.1"/><circle cx="661.3" cy="1756.2" r="6.1"/><circle cx="543.7" cy="1754.2" r="6.1"/><circle cx="825.0" cy="1661.6" r="6.1"/><circle cx="640.9" cy="1751.3" r="6.1"/><circle cx="834.1" cy="1584.9" r="6.1"/><circle cx="544.3" cy="1690.5" r="6.1"/><circle cx="821.8" cy="1645.2" r="6.1"/><circle cx="682.8" cy="1606.8" r="6.1"/><circle cx="782.5" cy="1711.4" r="6.1"/><circle cx="830.5" cy="1657.2" r="6.1"/><circle cx="801.3" cy="1695.8" r="6.1"/><circle cx="610.2" cy="1641.3" r="6.1"/><circle cx="742.0" cy="1583.7" r="6.1"/><circle cx="828.3" cy="1615.7" r="6.1"/><circle cx="615.0" cy="1750.4" r="6.1"/><circle cx="830.8" cy="1607.6" r="6.1"/><circle cx="783.9" cy="1571.1" r="6.1"/><circle cx="524.2" cy="1744.3" r="6.1"/><circle cx="758.2" cy="1709.5" r="6.1"/><circle cx="519.4" cy="1699.3" r="6.1"/><circle cx="575.7" cy="1645.3" r="6.1"/><circle cx="689.6" cy="1602.3" r="6.1"/><circle cx="586.8" cy="1653.2" r="6.1"/><circle cx="691.9" cy="1603.6" r="6.1"/><circle cx="834.7" cy="1638.7" r="6.1"/><circle cx="814.7" cy="1569.2" r="6.1"/><circle cx="531.4" cy="1747.5" r="6.1"/><circle cx="709.8" cy="1599.7" r="6.1"/><circle cx="605.7" cy="1749.1" r="6.1"/><circle cx="602.9" cy="1748.1" r="6.1"/><circle cx="568.6" cy="1665.6" r="6.1"/><circle cx="672.5" cy="1615.1" r="6.1"/><circle cx="556.9" cy="1752.0" r="6.1"/><circle cx="726.0" cy="1565.0" r="6.1"/><circle cx="820.2" cy="1590.5" r="6.1"/><circle cx="560.5" cy="1658.8" r="6.1"/><circle cx="733.8" cy="1728.6" r="6.1"/><circle cx="524.6" cy="1713.6" r="6.1"/><circle cx="736.4" cy="1718.7" r="6.1"/><circle cx="709.5" cy="1596.1" r="6.1"/><circle cx="800.4" cy="1570.1" r="6.1"/><circle cx="694.9" cy="1606.8" r="6.1"/><circle cx="814.0" cy="1572.6" r="6.1"/><circle cx="784.3" cy="1566.0" r="6.1"/><circle cx="846.7" cy="1617.2" r="6.1"/><circle cx="638.0" cy="1756.3" r="6.1"/><circle cx="563.3" cy="1682.3" r="6.1"/><circle cx="528.7" cy="1717.0" r="6.1"/><circle cx="678.7" cy="1604.3" r="6.1"/><circle cx="816.1" cy="1566.3" r="6.1"/><circle cx="742.2" cy="1729.9" r="6.1"/><circle cx="755.9" cy="1709.3" r="6.1"/><circle cx="825.7" cy="1636.4" r="6.1"/><circle cx="741.2" cy="1734.5" r="6.1"/><circle cx="623.1" cy="1746.3" r="6.1"/><circle cx="771.6" cy="1571.9" r="6.1"/><circle cx="547.0" cy="1673.7" r="6.1"/><circle cx="556.1" cy="1750.2" r="6.1"/><circle cx="713.5" cy="1743.6" r="6.1"/><circle cx="687.1" cy="1592.1" r="6.1"/><circle cx="570.0" cy="1670.5" r="6.1"/><circle cx="717.5" cy="1753.4" r="6.1"/><circle cx="663.3" cy="1602.4" r="6.1"/><circle cx="595.2" cy="1764.7" r="6.1"/><circle cx="846.4" cy="1621.8" r="6.1"/><circle cx="592.4" cy="1748.5" r="6.1"/><circle cx="777.7" cy="1710.4" r="6.1"/><circle cx="794.8" cy="1693.4" r="6.1"/><circle cx="660.9" cy="1743.8" r="6.1"/><circle cx="802.0" cy="1707.1" r="6.1"/><circle cx="646.2" cy="1744.2" r="6.1"/><circle cx="630.7" cy="1760.2" r="6.1"/><circle cx="813.2" cy="1579.6" r="6.1"/><circle cx="771.3" cy="1566.0" r="6.1"/><circle cx="562.9" cy="1634.3" r="6.1"/><circle cx="700.7" cy="1760.6" r="6.1"/><circle cx="518.0" cy="1680.0" r="6.1"/><circle cx="635.3" cy="1752.2" r="6.1"/><circle cx="558.8" cy="1760.7" r="6.1"/><circle cx="606.5" cy="1755.7" r="6.1"/><circle cx="829.7" cy="1674.0" r="6.1"/><circle cx="648.9" cy="1754.4" r="6.1"/><circle cx="568.0" cy="1757.5" r="6.1"/><circle cx="625.9" cy="1622.3" r="6.1"/><circle cx="832.0" cy="1592.2" r="6.1"/><circle cx="719.9" cy="1728.0" r="6.1"/><circle cx="611.6" cy="1641.9" r="6.1"/><circle cx="563.8" cy="1754.9" r="6.1"/><circle cx="785.7" cy="1704.3" r="6.1"/><circle cx="779.3" cy="1563.5" r="6.1"/><circle cx="602.4" cy="1752.0" r="6.1"/><circle cx="813.2" cy="1552.9" r="6.1"/><circle cx="818.3" cy="1672.0" r="6.1"/><circle cx="661.9" cy="1760.1" r="6.1"/><circle cx="525.4" cy="1752.9" r="6.1"/><circle cx="827.7" cy="1656.6" r="6.1"/><circle cx="728.7" cy="1594.1" r="6.1"/><circle cx="749.1" cy="1586.0" r="6.1"/><circle cx="834.7" cy="1602.6" r="6.1"/><circle cx="765.8" cy="1701.3" r="6.1"/><circle cx="823.8" cy="1683.6" r="6.1"/><circle cx="713.6" cy="1570.3" r="6.1"/><circle cx="759.9" cy="1717.1" r="6.1"/><circle cx="833.1" cy="1649.1" r="6.1"/><circle cx="574.6" cy="1758.5" r="6.1"/><circle cx="684.8" cy="1597.4" r="6.1"/><circle cx="700.2" cy="1752.7" r="6.1"/><circle cx="553.0" cy="1743.0" r="6.1"/><circle cx="547.0" cy="1670.1" r="6.1"/><circle cx="831.9" cy="1619.7" r="6.1"/><circle cx="818.6" cy="1680.6" r="6.1"/><circle cx="829.9" cy="1634.7" r="6.1"/><circle cx="671.8" cy="1602.2" r="6.1"/><circle cx="712.9" cy="1734.5" r="6.1"/><circle cx="831.5" cy="1688.2" r="6.1"/><circle cx="642.7" cy="1762.7" r="6.1"/><circle cx="786.0" cy="1703.1" r="6.1"/><circle cx="617.7" cy="1631.4" r="6.1"/><circle cx="757.0" cy="1575.9" r="6.1"/><circle cx="749.4" cy="1577.5" r="6.1"/><circle cx="758.3" cy="1728.7" r="6.1"/><circle cx="626.7" cy="1753.8" r="6.1"/><circle cx="571.9" cy="1660.6" r="6.1"/><circle cx="540.6" cy="1747.9" r="6.1"/><circle cx="689.5" cy="1594.2" r="6.1"/><circle cx="590.1" cy="1744.6" r="6.1"/><circle cx="559.6" cy="1686.9" r="6.1"/><circle cx="728.7" cy="1727.7" r="6.1"/><circle cx="592.8" cy="1755.0" r="6.1"/><circle cx="660.3" cy="1596.3" r="6.1"/><circle cx="560.9" cy="1678.0" r="6.1"/><circle cx="782.8" cy="1570.0" r="6.1"/><circle cx="772.5" cy="1577.7" r="6.1"/><circle cx="733.4" cy="1730.1" r="6.1"/><circle cx="548.9" cy="1681.9" r="6.1"/><circle cx="530.1" cy="1743.3" r="6.1"/><circle cx="825.4" cy="1609.7" r="6.1"/><circle cx="729.4" cy="1576.2" r="6.1"/><circle cx="637.6" cy="1629.8" r="6.1"/><circle cx="803.2" cy="1556.1" r="6.1"/><circle cx="654.4" cy="1742.6" r="6.1"/><circle cx="575.7" cy="1763.0" r="6.1"/><circle cx="815.6" cy="1691.4" r="6.1"/><circle cx="620.1" cy="1617.1" r="6.1"/><circle cx="820.9" cy="1665.2" r="6.1"/><circle cx="567.2" cy="1663.8" r="6.1"/><circle cx="755.5" cy="1724.3" r="6.1"/><circle cx="832.0" cy="1585.4" r="6.1"/><circle cx="848.2" cy="1584.2" r="6.1"/><circle cx="518.5" cy="1717.6" r="6.1"/><circle cx="541.9" cy="1691.6" r="6.1"/><circle cx="552.5" cy="1748.3" r="6.1"/><circle cx="710.3" cy="1755.6" r="6.1"/><circle cx="635.8" cy="1629.6" r="6.1"/><circle cx="753.2" cy="1710.9" r="6.1"/><circle cx="822.5" cy="1661.4" r="6.1"/><circle cx="615.5" cy="1750.2" r="6.1"/><circle cx="810.2" cy="1580.1" r="6.1"/><circle cx="659.6" cy="1764.3" r="6.1"/><circle cx="788.0" cy="1689.6" r="6.1"/><circle cx="612.8" cy="1639.2" r="6.1"/><circle cx="609.8" cy="1614.1" r="6.1"/><circle cx="614.9" cy="1638.6" r="6.1"/><circle cx="760.6" cy="1731.1" r="6.1"/><circle cx="716.7" cy="1748.3" r="6.1"/><circle cx="647.3" cy="1623.6" r="6.1"/><circle cx="537.7" cy="1683.7" r="6.1"/><circle cx="567.4" cy="1648.0" r="6.1"/><circle cx="705.8" cy="1740.3" r="6.1"/><circle cx="642.8" cy="1620.6" r="6.1"/><circle cx="612.5" cy="1748.1" r="6.1"/><circle cx="733.0" cy="1570.0" r="6.1"/><circle cx="757.6" cy="1580.1" r="6.1"/><circle cx="805.8" cy="1577.7" r="6.1"/><circle cx="841.6" cy="1603.4" r="6.1"/><circle cx="528.4" cy="1694.0" r="6.1"/><circle cx="697.2" cy="1739.3" r="6.1"/><circle cx="612.5" cy="1746.6" r="6.1"/><circle cx="654.6" cy="1595.9" r="6.1"/><circle cx="839.7" cy="1647.5" r="6.1"/><circle cx="821.4" cy="1587.8" r="6.1"/><circle cx="783.0" cy="1693.6" r="6.1"/><circle cx="620.6" cy="1762.6" r="6.1"/><circle cx="833.7" cy="1627.9" r="6.1"/><circle cx="723.3" cy="1735.4" r="6.1"/><circle cx="628.6" cy="1628.9" r="6.1"/><circle cx="520.3" cy="1724.8" r="6.1"/><circle cx="730.6" cy="1735.5" r="6.1"/><circle cx="759.2" cy="1706.8" r="6.1"/><circle cx="832.6" cy="1606.3" r="6.1"/><circle cx="682.6" cy="1611.4" r="6.1"/><circle cx="826.8" cy="1636.5" r="6.1"/><circle cx="774.3" cy="1700.6" r="6.1"/><circle cx="570.5" cy="1760.9" r="6.1"/><circle cx="823.5" cy="1662.8" r="6.1"/><circle cx="534.5" cy="1742.3" r="6.1"/><circle cx="772.7" cy="1705.6" r="6.1"/><circle cx="619.9" cy="1625.8" r="6.1"/><circle cx="653.8" cy="1603.4" r="6.1"/><circle cx="699.5" cy="1744.5" r="6.1"/><circle cx="663.8" cy="1608.4" r="6.1"/><circle cx="648.2" cy="1607.5" r="6.1"/><circle cx="667.7" cy="1747.4" r="6.1"/><circle cx="533.7" cy="1685.3" r="6.1"/><circle cx="842.9" cy="1670.2" r="6.1"/><circle cx="814.2" cy="1689.2" r="6.1"/><circle cx="635.3" cy="1603.2" r="6.1"/><circle cx="721.9" cy="1742.2" r="6.1"/><circle cx="769.3" cy="1568.5" r="6.1"/><circle cx="686.9" cy="1606.6" r="6.1"/><circle cx="825.8" cy="1577.3" r="6.1"/><circle cx="727.5" cy="1724.9" r="6.1"/><circle cx="829.6" cy="1654.0" r="6.1"/><circle cx="829.7" cy="1667.3" r="6.1"/><circle cx="817.1" cy="1659.1" r="6.1"/><circle cx="524.6" cy="1721.2" r="6.1"/><circle cx="528.9" cy="1719.6" r="6.1"/><circle cx="826.4" cy="1680.8" r="6.1"/><circle cx="826.4" cy="1615.3" r="6.1"/><circle cx="692.0" cy="1603.0" r="6.1"/><circle cx="796.8" cy="1568.8" r="6.1"/><circle cx="808.1" cy="1562.0" r="6.1"/><circle cx="582.5" cy="1645.4" r="6.1"/><circle cx="646.9" cy="1762.8" r="6.1"/><circle cx="707.0" cy="1596.1" r="6.1"/><circle cx="825.8" cy="1681.5" r="6.1"/><circle cx="686.8" cy="1600.6" r="6.1"/><circle cx="676.7" cy="1601.3" r="6.1"/><circle cx="662.9" cy="1616.8" r="6.1"/><circle cx="537.4" cy="1704.0" r="6.1"/><circle cx="776.4" cy="1574.1" r="6.1"/><circle cx="849.1" cy="1626.3" r="6.1"/><circle cx="529.4" cy="1748.8" r="6.1"/><circle cx="817.8" cy="1559.9" r="6.1"/><circle cx="734.8" cy="1586.9" r="6.1"/><circle cx="651.1" cy="1755.7" r="6.1"/><circle cx="833.7" cy="1626.1" r="6.1"/><circle cx="758.2" cy="1705.5" r="6.1"/><circle cx="766.6" cy="1570.9" r="6.1"/><circle cx="823.9" cy="1676.5" r="6.1"/><circle cx="591.4" cy="1628.7" r="6.1"/><circle cx="551.5" cy="1746.8" r="6.1"/><circle cx="556.4" cy="1687.5" r="6.1"/><circle cx="834.9" cy="1565.1" r="6.1"/><circle cx="837.3" cy="1621.2" r="6.1"/><circle cx="525.6" cy="1742.7" r="6.1"/><circle cx="683.0" cy="1593.6" r="6.1"/><circle cx="620.5" cy="1626.7" r="6.1"/><circle cx="584.0" cy="1644.7" r="6.1"/><circle cx="765.2" cy="1584.7" r="6.1"/><circle cx="830.1" cy="1605.1" r="6.1"/><circle cx="533.6" cy="1728.4" r="6.1"/><circle cx="658.0" cy="1618.3" r="6.1"/><circle cx="685.5" cy="1746.8" r="6.1"/><circle cx="643.8" cy="1604.2" r="6.1"/><circle cx="605.6" cy="1751.2" r="6.1"/><circle cx="783.0" cy="1558.4" r="6.1"/><circle cx="771.9" cy="1581.8" r="6.1"/><circle cx="808.3" cy="1686.4" r="6.1"/><circle cx="623.9" cy="1744.0" r="6.1"/><circle cx="631.8" cy="1610.6" r="6.1"/><circle cx="708.1" cy="1590.3" r="6.1"/><circle cx="587.2" cy="1647.2" r="6.1"/><circle cx="837.4" cy="1639.9" r="6.1"/><circle cx="824.4" cy="1686.9" r="6.1"/><circle cx="613.7" cy="1634.0" r="6.1"/><circle cx="779.9" cy="1706.7" r="6.1"/><circle cx="816.5" cy="1555.9" r="6.1"/><circle cx="672.6" cy="1599.8" r="6.1"/><circle cx="537.1" cy="1702.2" r="6.1"/><circle cx="618.2" cy="1637.6" r="6.1"/><circle cx="827.8" cy="1680.1" r="6.1"/><circle cx="771.3" cy="1719.0" r="6.1"/><circle cx="826.8" cy="1602.3" r="6.1"/><circle cx="749.3" cy="1728.3" r="6.1"/><circle cx="568.1" cy="1670.6" r="6.1"/><circle cx="823.5" cy="1575.5" r="6.1"/><circle cx="525.5" cy="1684.5" r="6.1"/><circle cx="535.0" cy="1750.9" r="6.1"/><circle cx="656.7" cy="1747.9" r="6.1"/><circle cx="705.2" cy="1600.2" r="6.1"/><circle cx="694.3" cy="1754.2" r="6.1"/><circle cx="593.4" cy="1750.2" r="6.1"/><circle cx="574.8" cy="1653.4" r="6.1"/><circle cx="746.8" cy="1719.0" r="6.1"/><circle cx="679.5" cy="1593.8" r="6.1"/><circle cx="691.0" cy="1594.7" r="6.1"/><circle cx="578.8" cy="1753.0" r="6.1"/><circle cx="660.2" cy="1614.0" r="6.1"/><circle cx="667.6" cy="1752.5" r="6.1"/><circle cx="580.2" cy="1639.9" r="6.1"/><circle cx="786.0" cy="1563.7" r="6.1"/><circle cx="830.2" cy="1605.3" r="6.1"/><circle cx="555.6" cy="1685.2" r="6.1"/><circle cx="720.9" cy="1597.8" r="6.1"/><circle cx="701.7" cy="1604.1" r="6.1"/><circle cx="771.0" cy="1563.6" r="6.1"/><circle cx="556.5" cy="1755.0" r="6.1"/><circle cx="637.6" cy="1761.8" r="6.1"/><circle cx="753.6" cy="1568.4" r="6.1"/><circle cx="764.6" cy="1723.2" r="6.1"/><circle cx="779.4" cy="1575.8" r="6.1"/><circle cx="568.8" cy="1662.1" r="6.1"/><circle cx="778.5" cy="1575.1" r="6.1"/><circle cx="531.7" cy="1754.3" r="6.1"/><circle cx="820.6" cy="1560.8" r="6.1"/><circle cx="595.3" cy="1639.9" r="6.1"/><circle cx="567.1" cy="1653.9" r="6.1"/><circle cx="630.4" cy="1621.9" r="6.1"/><circle cx="823.7" cy="1621.2" r="6.1"/><circle cx="543.2" cy="1678.9" r="6.1"/><circle cx="689.6" cy="1585.3" r="6.1"/><circle cx="526.9" cy="1742.9" r="6.1"/><circle cx="548.1" cy="1681.6" r="6.1"/><circle cx="601.5" cy="1623.9" r="6.1"/><circle cx="724.0" cy="1586.8" r="6.1"/><circle cx="741.9" cy="1723.5" r="6.1"/><circle cx="827.9" cy="1663.7" r="6.1"/><circle cx="835.2" cy="1643.4" r="6.1"/><circle cx="530.6" cy="1724.0" r="6.1"/><circle cx="552.3" cy="1754.8" r="6.1"/><circle cx="830.4" cy="1659.9" r="6.1"/><circle cx="836.9" cy="1588.0" r="6.1"/><circle cx="729.1" cy="1586.6" r="6.1"/><circle cx="567.4" cy="1651.7" r="6.1"/><circle cx="522.1" cy="1719.6" r="6.1"/><circle cx="813.2" cy="1674.7" r="6.1"/><circle cx="548.4" cy="1687.6" r="6.1"/><circle cx="833.8" cy="1651.0" r="6.1"/><circle cx="747.9" cy="1569.2" r="6.1"/><circle cx="592.1" cy="1749.1" r="6.1"/><circle cx="828.5" cy="1630.1" r="6.1"/><circle cx="820.8" cy="1671.8" r="6.1"/><circle cx="711.7" cy="1587.1" r="6.1"/><circle cx="591.1" cy="1755.9" r="6.1"/><circle cx="820.4" cy="1635.5" r="6.1"/><circle cx="713.6" cy="1595.0" r="6.1"/><circle cx="811.7" cy="1565.5" r="6.1"/><circle cx="592.0" cy="1640.6" r="6.1"/><circle cx="820.0" cy="1658.7" r="6.1"/><circle cx="623.3" cy="1630.0" r="6.1"/><circle cx="675.8" cy="1599.3" r="6.1"/><circle cx="619.3" cy="1749.2" r="6.1"/><circle cx="835.0" cy="1592.0" r="6.1"/><circle cx="735.3" cy="1587.8" r="6.1"/><circle cx="641.1" cy="1746.6" r="6.1"/><circle cx="825.4" cy="1682.6" r="6.1"/><circle cx="571.0" cy="1640.0" r="6.1"/><circle cx="584.0" cy="1752.6" r="6.1"/><circle cx="828.4" cy="1688.7" r="6.1"/><circle cx="669.1" cy="1747.4" r="6.1"/><circle cx="821.7" cy="1598.4" r="6.1"/><circle cx="831.2" cy="1618.2" r="6.1"/><circle cx="761.4" cy="1731.0" r="6.1"/><circle cx="568.5" cy="1749.9" r="6.1"/><circle cx="572.7" cy="1664.3" r="6.1"/><circle cx="743.5" cy="1566.8" r="6.1"/><circle cx="661.0" cy="1602.3" r="6.1"/><circle cx="682.3" cy="1611.6" r="6.1"/><circle cx="565.6" cy="1677.3" r="6.1"/><circle cx="818.5" cy="1577.9" r="6.1"/><circle cx="552.9" cy="1689.9" r="6.1"/><circle cx="816.3" cy="1568.2" r="6.1"/><circle cx="549.8" cy="1673.0" r="6.1"/><circle cx="713.4" cy="1738.1" r="6.1"/><circle cx="739.5" cy="1587.2" r="6.1"/><circle cx="715.1" cy="1743.1" r="6.1"/><circle cx="822.5" cy="1573.7" r="6.1"/><circle cx="550.6" cy="1685.1" r="6.1"/><circle cx="603.9" cy="1642.9" r="6.1"/><circle cx="564.6" cy="1650.1" r="6.1"/><circle cx="667.8" cy="1760.4" r="6.1"/><circle cx="651.7" cy="1611.5" r="6.1"/><circle cx="654.7" cy="1598.8" r="6.1"/><circle cx="628.5" cy="1757.8" r="6.1"/><circle cx="523.3" cy="1739.0" r="6.1"/><circle cx="775.0" cy="1698.8" r="6.1"/><circle cx="765.1" cy="1700.6" r="6.1"/><circle cx="706.5" cy="1751.5" r="6.1"/><circle cx="538.7" cy="1748.5" r="6.1"/><circle cx="822.9" cy="1607.7" r="6.1"/><circle cx="551.8" cy="1688.7" r="6.1"/><circle cx="607.9" cy="1745.3" r="6.1"/><circle cx="661.2" cy="1607.8" r="6.1"/><circle cx="821.8" cy="1647.0" r="6.1"/><circle cx="624.9" cy="1621.2" r="6.1"/><circle cx="781.2" cy="1578.4" r="6.1"/><circle cx="758.1" cy="1567.7" r="6.1"/><circle cx="709.0" cy="1753.1" r="6.1"/><circle cx="830.6" cy="1582.9" r="6.1"/><circle cx="805.0" cy="1569.0" r="6.1"/><circle cx="583.5" cy="1757.0" r="6.1"/><circle cx="725.5" cy="1738.1" r="6.1"/><circle cx="828.6" cy="1661.5" r="6.1"/><circle cx="556.7" cy="1752.7" r="6.1"/><circle cx="562.6" cy="1656.5" r="6.1"/><circle cx="692.1" cy="1600.0" r="6.1"/><circle cx="820.5" cy="1651.1" r="6.1"/><circle cx="589.5" cy="1746.0" r="6.1"/><circle cx="530.0" cy="1747.5" r="6.1"/><circle cx="740.5" cy="1578.4" r="6.1"/><circle cx="831.4" cy="1632.1" r="6.1"/><circle cx="566.0" cy="1769.9" r="6.1"/><circle cx="797.0" cy="1569.6" r="6.1"/><circle cx="705.2" cy="1592.4" r="6.1"/><circle cx="798.8" cy="1704.8" r="6.1"/><circle cx="648.7" cy="1610.1" r="6.1"/><circle cx="660.0" cy="1747.4" r="6.1"/><circle cx="772.2" cy="1708.6" r="6.1"/><circle cx="564.4" cy="1751.1" r="6.1"/><circle cx="785.9" cy="1573.3" r="6.1"/><circle cx="550.5" cy="1747.1" r="6.1"/><circle cx="537.0" cy="1750.7" r="6.1"/><circle cx="781.3" cy="1566.3" r="6.1"/><circle cx="522.0" cy="1713.0" r="6.1"/><circle cx="644.9" cy="1609.4" r="6.1"/><circle cx="760.2" cy="1725.4" r="6.1"/><circle cx="609.9" cy="1764.5" r="6.1"/><circle cx="683.0" cy="1746.5" r="6.1"/><circle cx="703.1" cy="1748.9" r="6.1"/><circle cx="847.7" cy="1570.4" r="6.1"/><circle cx="643.3" cy="1613.5" r="6.1"/><circle cx="838.8" cy="1630.8" r="6.1"/><circle cx="587.9" cy="1761.6" r="6.1"/><circle cx="567.9" cy="1650.8" r="6.1"/><circle cx="593.1" cy="1621.2" r="6.1"/><circle cx="558.8" cy="1670.7" r="6.1"/><circle cx="568.9" cy="1661.2" r="6.1"/><circle cx="692.8" cy="1763.5" r="6.1"/><circle cx="642.0" cy="1751.5" r="6.1"/><circle cx="671.6" cy="1605.2" r="6.1"/><circle cx="773.0" cy="1571.8" r="6.1"/><circle cx="831.1" cy="1647.4" r="6.1"/><circle cx="799.8" cy="1684.8" r="6.1"/><circle cx="717.5" cy="1594.8" r="6.1"/><circle cx="738.7" cy="1741.5" r="6.1"/><circle cx="811.6" cy="1675.4" r="6.1"/><circle cx="826.4" cy="1639.7" r="6.1"/><circle cx="780.5" cy="1570.2" r="6.1"/><circle cx="842.1" cy="1681.5" r="6.1"/><circle cx="798.4" cy="1690.3" r="6.1"/><circle cx="788.7" cy="1568.8" r="6.1"/><circle cx="735.8" cy="1733.5" r="6.1"/><circle cx="533.3" cy="1721.8" r="6.1"/><circle cx="813.7" cy="1695.6" r="6.1"/><circle cx="554.4" cy="1761.1" r="6.1"/><circle cx="525.3" cy="1732.0" r="6.1"/><circle cx="629.9" cy="1610.3" r="6.1"/><circle cx="741.5" cy="1726.7" r="6.1"/><circle cx="529.9" cy="1699.9" r="6.1"/><circle cx="579.5" cy="1633.8" r="6.1"/><circle cx="748.9" cy="1726.2" r="6.1"/><circle cx="604.0" cy="1756.3" r="6.1"/><circle cx="763.1" cy="1707.4" r="6.1"/><circle cx="744.0" cy="1565.1" r="6.1"/><circle cx="546.4" cy="1684.5" r="6.1"/><circle cx="821.1" cy="1567.2" r="6.1"/><circle cx="582.6" cy="1755.9" r="6.1"/><circle cx="791.3" cy="1557.0" r="6.1"/><circle cx="540.9" cy="1680.8" r="6.1"/><circle cx="535.3" cy="1713.4" r="6.1"/><circle cx="626.8" cy="1743.9" r="6.1"/><circle cx="807.3" cy="1700.7" r="6.1"/><circle cx="694.7" cy="1750.2" r="6.1"/><circle cx="792.5" cy="1694.4" r="6.1"/><circle cx="616.7" cy="1618.5" r="6.1"/><circle cx="516.4" cy="1717.4" r="6.1"/><circle cx="605.5" cy="1645.5" r="6.1"/><circle cx="828.9" cy="1589.4" r="6.1"/><circle cx="613.2" cy="1756.7" r="6.1"/><circle cx="625.1" cy="1627.5" r="6.1"/><circle cx="696.3" cy="1586.1" r="6.1"/><circle cx="591.9" cy="1625.5" r="6.1"/><circle cx="820.7" cy="1581.9" r="6.1"/><circle cx="523.8" cy="1745.0" r="6.1"/><circle cx="522.9" cy="1710.1" r="6.1"/><circle cx="519.4" cy="1736.7" r="6.1"/><circle cx="709.6" cy="1733.4" r="6.1"/><circle cx="733.0" cy="1576.5" r="6.1"/><circle cx="844.4" cy="1625.2" r="6.1"/><circle cx="537.6" cy="1749.8" r="6.1"/><circle cx="820.2" cy="1569.6" r="6.1"/><circle cx="558.3" cy="1767.6" r="6.1"/><circle cx="524.8" cy="1685.6" r="6.1"/><circle cx="743.0" cy="1737.1" r="6.1"/><circle cx="542.0" cy="1744.8" r="6.1"/><circle cx="527.5" cy="1745.8" r="6.1"/><circle cx="826.6" cy="1591.0" r="6.1"/><circle cx="770.5" cy="1715.0" r="6.1"/><circle cx="619.1" cy="1626.5" r="6.1"/><circle cx="827.1" cy="1671.9" r="6.1"/><circle cx="720.6" cy="1589.3" r="6.1"/><circle cx="792.1" cy="1695.9" r="6.1"/><circle cx="832.1" cy="1675.0" r="6.1"/><circle cx="610.5" cy="1634.3" r="6.1"/><circle cx="567.1" cy="1677.9" r="6.1"/><circle cx="591.4" cy="1760.7" r="6.1"/><circle cx="777.0" cy="1706.5" r="6.1"/><circle cx="774.7" cy="1706.2" r="6.1"/><circle cx="772.4" cy="1567.7" r="6.1"/><circle cx="841.4" cy="1586.1" r="6.1"/><circle cx="776.0" cy="1571.2" r="6.1"/><circle cx="700.9" cy="1738.0" r="6.1"/><circle cx="527.9" cy="1729.7" r="6.1"/><circle cx="800.0" cy="1682.1" r="6.1"/><circle cx="667.3" cy="1764.4" r="6.1"/><circle cx="654.9" cy="1743.6" r="6.1"/><circle cx="828.8" cy="1628.5" r="6.1"/><circle cx="722.4" cy="1732.7" r="6.1"/><circle cx="645.6" cy="1609.7" r="6.1"/><circle cx="646.4" cy="1747.8" r="6.1"/><circle cx="555.0" cy="1680.5" r="6.1"/><circle cx="546.5" cy="1755.8" r="6.1"/><circle cx="585.8" cy="1640.6" r="6.1"/><circle cx="819.7" cy="1569.4" r="6.1"/><circle cx="698.7" cy="1740.8" r="6.1"/><circle cx="700.5" cy="1591.3" r="6.1"/><circle cx="698.6" cy="1747.4" r="6.1"/><circle cx="803.9" cy="1552.2" r="6.1"/><circle cx="578.7" cy="1647.2" r="6.1"/><circle cx="743.0" cy="1732.6" r="6.1"/><circle cx="764.2" cy="1703.6" r="6.1"/><circle cx="564.6" cy="1657.3" r="6.1"/><circle cx="621.5" cy="1621.9" r="6.1"/><circle cx="732.3" cy="1735.0" r="6.1"/><circle cx="588.7" cy="1642.3" r="6.1"/><circle cx="699.4" cy="1745.2" r="6.1"/><circle cx="673.3" cy="1743.5" r="6.1"/><circle cx="729.3" cy="1726.0" r="6.1"/><circle cx="831.5" cy="1613.9" r="6.1"/><circle cx="675.0" cy="1604.1" r="6.1"/><circle cx="690.5" cy="1743.4" r="6.1"/><circle cx="828.0" cy="1578.8" r="6.1"/><circle cx="613.5" cy="1751.4" r="6.1"/><circle cx="530.2" cy="1676.4" r="6.1"/><circle cx="669.3" cy="1612.4" r="6.1"/><circle cx="535.8" cy="1703.0" r="6.1"/><circle cx="821.4" cy="1583.3" r="6.1"/><circle cx="735.0" cy="1720.1" r="6.1"/><circle cx="751.9" cy="1711.4" r="6.1"/><circle cx="538.6" cy="1689.1" r="6.1"/><circle cx="798.7" cy="1683.7" r="6.1"/><circle cx="775.2" cy="1716.0" r="6.1"/><circle cx="742.9" cy="1584.2" r="6.1"/><circle cx="813.1" cy="1561.0" r="6.1"/><circle cx="816.9" cy="1688.0" r="6.1"/><circle cx="754.7" cy="1712.6" r="6.1"/><circle cx="822.4" cy="1658.8" r="6.1"/><circle cx="561.3" cy="1679.0" r="6.1"/><circle cx="579.8" cy="1644.2" r="6.1"/><circle cx="773.9" cy="1700.5" r="6.1"/><circle cx="584.0" cy="1653.6" r="6.1"/><circle cx="763.5" cy="1701.6" r="6.1"/><circle cx="835.0" cy="1607.6" r="6.1"/><circle cx="699.4" cy="1594.6" r="6.1"/><circle cx="564.8" cy="1651.1" r="6.1"/><circle cx="777.1" cy="1707.0" r="6.1"/><circle cx="587.3" cy="1745.2" r="6.1"/><circle cx="655.2" cy="1619.8" r="6.1"/><circle cx="596.4" cy="1747.1" r="6.1"/><circle cx="535.9" cy="1735.7" r="6.1"/><circle cx="528.3" cy="1687.1" r="6.1"/><circle cx="808.3" cy="1681.2" r="6.1"/><circle cx="558.6" cy="1756.9" r="6.1"/><circle cx="592.7" cy="1637.7" r="6.1"/><circle cx="812.9" cy="1685.3" r="6.1"/><circle cx="599.3" cy="1746.6" r="6.1"/><circle cx="579.4" cy="1653.8" r="6.1"/><circle cx="681.1" cy="1604.9" r="6.1"/><circle cx="637.0" cy="1751.2" r="6.1"/><circle cx="793.7" cy="1564.4" r="6.1"/><circle cx="548.4" cy="1740.7" r="6.1"/><circle cx="752.6" cy="1727.1" r="6.1"/><circle cx="789.7" cy="1695.7" r="6.1"/><circle cx="578.7" cy="1652.8" r="6.1"/><circle cx="790.1" cy="1693.8" r="6.1"/><circle cx="547.2" cy="1672.8" r="6.1"/><circle cx="568.6" cy="1751.7" r="6.1"/><circle cx="801.0" cy="1570.3" r="6.1"/><circle cx="593.4" cy="1750.0" r="6.1"/><circle cx="562.1" cy="1669.5" r="6.1"/><circle cx="614.9" cy="1749.1" r="6.1"/><circle cx="736.0" cy="1726.5" r="6.1"/><circle cx="727.5" cy="1592.2" r="6.1"/><circle cx="586.7" cy="1646.3" r="6.1"/><circle cx="851.0" cy="1578.5" r="6.1"/><circle cx="566.9" cy="1672.7" r="6.1"/><circle cx="813.3" cy="1560.9" r="6.1"/><circle cx="725.5" cy="1743.2" r="6.1"/><circle cx="809.1" cy="1695.0" r="6.1"/><circle cx="679.6" cy="1754.0" r="6.1"/><circle cx="515.5" cy="1701.8" r="6.1"/><circle cx="764.9" cy="1579.4" r="6.1"/><circle cx="555.1" cy="1668.5" r="6.1"/><circle cx="793.2" cy="1566.0" r="6.1"/><circle cx="788.9" cy="1571.1" r="6.1"/><circle cx="681.0" cy="1593.5" r="6.1"/><circle cx="723.9" cy="1747.5" r="6.1"/><circle cx="729.7" cy="1731.5" r="6.1"/><circle cx="831.0" cy="1685.5" r="6.1"/><circle cx="721.0" cy="1734.8" r="6.1"/><circle cx="742.7" cy="1730.7" r="6.1"/><circle cx="620.8" cy="1623.1" r="6.1"/><circle cx="822.4" cy="1669.1" r="6.1"/><circle cx="532.3" cy="1714.9" r="6.1"/><circle cx="522.3" cy="1714.5" r="6.1"/><circle cx="526.1" cy="1725.9" r="6.1"/><circle cx="680.6" cy="1584.2" r="6.1"/><circle cx="826.8" cy="1661.8" r="6.1"/><circle cx="637.2" cy="1601.5" r="6.1"/><circle cx="791.4" cy="1706.4" r="6.1"/><circle cx="750.3" cy="1724.5" r="6.1"/><circle cx="756.0" cy="1711.8" r="6.1"/><circle cx="794.6" cy="1562.4" r="6.1"/><circle cx="775.4" cy="1573.9" r="6.1"/><circle cx="532.9" cy="1690.1" r="6.1"/><circle cx="662.1" cy="1617.7" r="6.1"/><circle cx="827.9" cy="1676.2" r="6.1"/><circle cx="554.4" cy="1685.2" r="6.1"/><circle cx="762.4" cy="1718.7" r="6.1"/><circle cx="798.9" cy="1690.1" r="6.1"/><circle cx="787.9" cy="1561.3" r="6.1"/><circle cx="712.5" cy="1749.9" r="6.1"/><circle cx="761.4" cy="1725.8" r="6.1"/><circle cx="811.7" cy="1564.9" r="6.1"/><circle cx="735.8" cy="1722.7" r="6.1"/><circle cx="633.8" cy="1614.3" r="6.1"/><circle cx="638.8" cy="1625.7" r="6.1"/><circle cx="824.6" cy="1658.2" r="6.1"/><circle cx="590.0" cy="1649.0" r="6.1"/><circle cx="842.2" cy="1654.5" r="6.1"/><circle cx="707.9" cy="1753.3" r="6.1"/><circle cx="819.4" cy="1582.1" r="6.1"/><circle cx="835.0" cy="1604.3" r="6.1"/><circle cx="585.6" cy="1755.3" r="6.1"/><circle cx="646.4" cy="1751.5" r="6.1"/><circle cx="725.2" cy="1736.4" r="6.1"/><circle cx="689.6" cy="1753.7" r="6.1"/><circle cx="557.5" cy="1660.3" r="6.1"/><circle cx="567.5" cy="1757.9" r="6.1"/><circle cx="809.7" cy="1568.3" r="6.1"/><circle cx="737.5" cy="1728.8" r="6.1"/><circle cx="533.0" cy="1636.4" r="6.1"/><circle cx="825.9" cy="1618.7" r="6.1"/><circle cx="835.6" cy="1632.8" r="6.1"/><circle cx="536.7" cy="1675.0" r="6.1"/><circle cx="687.8" cy="1588.0" r="6.1"/><circle cx="531.0" cy="1733.5" r="6.1"/><circle cx="820.6" cy="1633.2" r="6.1"/><circle cx="802.4" cy="1690.0" r="6.1"/><circle cx="573.1" cy="1767.7" r="6.1"/><circle cx="758.1" cy="1732.1" r="6.1"/><circle cx="616.1" cy="1761.5" r="6.1"/><circle cx="621.2" cy="1618.1" r="6.1"/><circle cx="787.1" cy="1579.4" r="6.1"/><circle cx="558.1" cy="1635.2" r="6.1"/><circle cx="558.6" cy="1642.1" r="6.1"/><circle cx="561.1" cy="1661.8" r="6.1"/><circle cx="690.1" cy="1742.8" r="6.1"/><circle cx="611.8" cy="1758.3" r="6.1"/><circle cx="827.5" cy="1586.2" r="6.1"/><circle cx="742.8" cy="1589.4" r="6.1"/><circle cx="552.3" cy="1675.7" r="6.1"/><circle cx="571.4" cy="1638.8" r="6.1"/><circle cx="752.0" cy="1581.8" r="6.1"/><circle cx="532.2" cy="1729.8" r="6.1"/><circle cx="828.8" cy="1610.6" r="6.1"/><circle cx="823.3" cy="1612.7" r="6.1"/><circle cx="534.0" cy="1740.3" r="6.1"/><circle cx="646.2" cy="1757.7" r="6.1"/><circle cx="710.9" cy="1598.1" r="6.1"/><circle cx="816.1" cy="1674.1" r="6.1"/><circle cx="702.8" cy="1576.2" r="6.1"/><circle cx="643.4" cy="1606.9" r="6.1"/><circle cx="579.5" cy="1642.9" r="6.1"/><circle cx="828.8" cy="1661.9" r="6.1"/><circle cx="534.5" cy="1689.4" r="6.1"/><circle cx="819.6" cy="1567.8" r="6.1"/><circle cx="555.5" cy="1752.0" r="6.1"/><circle cx="560.5" cy="1748.2" r="6.1"/><circle cx="791.0" cy="1565.5" r="6.1"/><circle cx="766.2" cy="1708.9" r="6.1"/><circle cx="610.2" cy="1760.1" r="6.1"/><circle cx="563.1" cy="1659.6" r="6.1"/><circle cx="747.2" cy="1573.4" r="6.1"/><circle cx="567.7" cy="1642.4" r="6.1"/><circle cx="660.9" cy="1750.6" r="6.1"/><circle cx="697.3" cy="1748.6" r="6.1"/><circle cx="834.0" cy="1678.3" r="6.1"/><circle cx="760.9" cy="1714.1" r="6.1"/><circle cx="586.9" cy="1643.7" r="6.1"/><circle cx="772.2" cy="1699.4" r="6.1"/><circle cx="773.4" cy="1576.9" r="6.1"/><circle cx="533.6" cy="1697.8" r="6.1"/><circle cx="616.9" cy="1626.2" r="6.1"/><circle cx="834.9" cy="1562.4" r="6.1"/><circle cx="590.7" cy="1631.7" r="6.1"/><circle cx="841.8" cy="1620.2" r="6.1"/><circle cx="661.1" cy="1748.9" r="6.1"/><circle cx="722.5" cy="1594.5" r="6.1"/><circle cx="582.7" cy="1641.9" r="6.1"/><circle cx="831.4" cy="1608.4" r="6.1"/><circle cx="763.3" cy="1726.7" r="6.1"/><circle cx="826.8" cy="1682.5" r="6.1"/><circle cx="554.7" cy="1650.4" r="6.1"/><circle cx="520.2" cy="1602.6" r="6.1"/><circle cx="532.9" cy="1605.8" r="6.1"/><circle cx="529.8" cy="1610.5" r="6.1"/><circle cx="567.9" cy="1605.1" r="6.1"/><circle cx="604.5" cy="1601.0" r="6.1"/><circle cx="617.2" cy="1593.1" r="6.1"/><circle cx="677.7" cy="1566.0" r="6.1"/><circle cx="706.3" cy="1567.0" r="6.1"/><circle cx="879.6" cy="1609.9" r="6.1"/><circle cx="884.4" cy="1632.2" r="6.1"/><circle cx="847.8" cy="1553.3" r="6.1"/><circle cx="839.9" cy="1561.2" r="6.1"/><circle cx="862.1" cy="1586.7" r="6.1"/><circle cx="851.0" cy="1663.0" r="6.1"/><circle cx="851.0" cy="1671.0" r="6.1"/><circle cx="515.4" cy="1761.6" r="6.1"/><circle cx="517.0" cy="1766.4" r="6.1"/><circle cx="540.9" cy="1768.0" r="6.1"/><circle cx="629.9" cy="1768.0" r="6.1"/><circle cx="687.2" cy="1769.6" r="6.1"/><circle cx="712.6" cy="1766.4" r="6.1"/><circle cx="731.7" cy="1758.4" r="6.1"/><circle cx="750.8" cy="1742.5" r="6.1"/><circle cx="814.4" cy="1706.0" r="6.1"/><circle cx="795.3" cy="1542.2" r="6.1"/><circle cx="811.2" cy="1546.9" r="6.1"/><circle cx="820.8" cy="1550.1" r="6.1"/><circle cx="763.5" cy="1550.1" r="6.1"/></g>
<path d="M800.0,1325.2C804.7,1322.5 814.7,1316.7 821.3,1311.8C828.0,1306.9 832.4,1300.7 840.0,1295.8C847.5,1291.0 858.6,1287.4 866.6,1282.5C874.6,1277.6 881.3,1271.0 888.0,1266.5C894.6,1262.1 899.1,1258.8 906.6,1255.9C914.2,1253.0 923.5,1251.0 933.3,1249.2C943.0,1247.4 956.4,1246.5 965.2,1245.2C974.1,1243.9 981.0,1243.0 986.6,1241.2C992.1,1239.4 996.1,1237.0 998.6,1234.5C1001.0,1232.1 1001.2,1229.7 1001.2,1226.5C1001.2,1223.4 999.2,1219.0 998.6,1215.9C997.9,1212.8 996.1,1210.3 997.2,1207.9C998.3,1205.4 1000.3,1203.1 1005.2,1201.2C1010.1,1199.4 1018.6,1197.9 1026.5,1196.7C1034.5,1195.5 1044.3,1194.3 1053.2,1194.0C1062.1,1193.8 1073.2,1194.5 1079.9,1195.1C1086.5,1195.7 1086.5,1197.3 1093.2,1197.8C1099.8,1198.2 1110.9,1197.9 1119.8,1197.8C1128.7,1197.6 1137.6,1196.6 1146.5,1196.7C1155.4,1196.8 1165.1,1197.4 1173.1,1198.6C1181.1,1199.8 1187.8,1202.3 1194.5,1203.9C1201.1,1205.4 1208.2,1205.9 1213.1,1207.9C1218.0,1209.9 1222.2,1212.8 1223.8,1215.9C1225.3,1219.0 1223.8,1222.5 1222.4,1226.5C1221.1,1230.5 1218.2,1235.4 1215.8,1239.9C1213.3,1244.3 1210.4,1247.9 1207.8,1253.2C1205.1,1258.5 1202.9,1265.6 1199.8,1271.9C1196.7,1278.1 1193.6,1284.7 1189.1,1290.5C1184.7,1296.3 1180.2,1300.7 1173.1,1306.5C1166.0,1312.3 1155.4,1320.1 1146.5,1325.2C1137.6,1330.3 1128.7,1333.6 1119.8,1337.2C1110.9,1340.7 1102.1,1342.9 1093.2,1346.5C1084.3,1350.0 1075.4,1354.0 1066.5,1358.5C1057.6,1362.9 1048.8,1368.5 1039.9,1373.1C1031.0,1377.8 1022.1,1382.0 1013.2,1386.5C1004.3,1390.9 995.5,1394.9 986.6,1399.8C977.7,1404.7 968.8,1411.8 959.9,1415.8C951.0,1419.8 942.1,1420.9 933.3,1423.8C924.4,1426.7 913.7,1429.1 906.6,1433.1C899.5,1437.1 895.9,1442.7 890.6,1447.8C885.3,1452.9 880.8,1459.5 874.6,1463.8C868.4,1468.0 861.3,1471.1 853.3,1473.1C845.3,1475.1 835.8,1475.7 826.7,1475.7C817.5,1475.8 805.4,1474.7 798.5,1473.2C791.6,1471.7 789.6,1469.2 785.2,1466.5C780.7,1463.9 776.3,1460.3 771.9,1457.2C767.4,1454.1 762.1,1451.2 758.5,1447.9C755.0,1444.5 752.2,1440.8 750.5,1437.2C748.8,1433.7 748.2,1430.1 748.4,1426.5C748.6,1423.0 749.7,1419.4 751.9,1415.9C754.0,1412.3 757.9,1408.8 761.2,1405.2C764.5,1401.7 768.7,1398.6 771.9,1394.6C775.0,1390.6 778.1,1386.1 779.9,1381.2C781.6,1376.4 782.3,1370.1 782.5,1365.2C782.7,1360.4 781.0,1356.4 781.2,1351.9C781.4,1347.5 781.8,1342.6 783.8,1338.6C785.8,1334.6 790.5,1330.2 793.2,1327.9C795.9,1325.7 795.3,1327.8 800.0,1325.2Z" fill="none" stroke="#d6d600" stroke-width="3.9" stroke-linejoin="round"/>
<path d="M588.0,1487.8C587.3,1484.5 589.3,1481.2 592.0,1477.2C594.6,1473.2 599.3,1468.7 603.9,1463.9C608.6,1459.0 614.2,1453.2 619.9,1447.9C625.7,1442.5 631.9,1436.5 638.6,1431.9C645.3,1427.2 651.9,1423.2 659.9,1419.9C667.9,1416.6 677.7,1414.1 686.6,1411.9C695.5,1409.7 704.3,1408.3 713.2,1406.6C722.1,1404.8 731.0,1403.0 739.9,1401.2C748.8,1399.4 759.0,1397.7 766.5,1395.9C774.1,1394.1 781.0,1392.1 785.2,1390.6C789.4,1389.0 788.3,1387.7 791.8,1386.6C795.4,1385.5 801.0,1384.8 806.5,1383.9C812.1,1383.0 818.5,1382.6 825.2,1381.2C831.8,1379.9 838.5,1377.7 846.5,1375.9C854.5,1374.1 864.3,1372.0 873.1,1370.6C882.0,1369.2 892.7,1367.7 899.8,1367.4C906.9,1367.0 910.4,1367.5 915.8,1368.4C921.1,1369.4 927.5,1371.1 931.8,1373.2C936.0,1375.4 939.3,1378.6 941.1,1381.2C942.9,1383.9 943.1,1386.1 942.4,1389.2C941.8,1392.3 939.8,1396.3 937.1,1399.9C934.4,1403.4 930.0,1407.0 926.4,1410.6C922.9,1414.1 919.3,1417.7 915.8,1421.2C912.2,1424.8 908.2,1428.3 905.1,1431.9C902.0,1435.4 899.8,1439.0 897.1,1442.5C894.5,1446.1 892.2,1449.6 889.1,1453.2C886.0,1456.8 882.9,1460.7 878.5,1463.9C874.0,1467.0 868.7,1469.4 862.5,1471.9C856.3,1474.3 848.3,1476.5 841.2,1478.5C834.0,1480.5 827.8,1481.6 819.8,1483.8C811.8,1486.1 802.1,1489.0 793.2,1491.8C784.3,1494.7 773.6,1498.3 766.5,1501.2C759.4,1504.1 755.9,1507.2 750.5,1509.2C745.2,1511.2 740.8,1512.3 734.5,1513.2C728.3,1514.1 721.2,1514.2 713.2,1514.5C705.2,1514.8 695.5,1515.3 686.6,1515.0C677.7,1514.8 668.8,1514.1 659.9,1513.2C651.0,1512.2 641.3,1510.7 633.3,1509.2C625.3,1507.6 618.2,1505.8 611.9,1503.8C605.7,1501.8 599.9,1499.8 595.9,1497.2C592.0,1494.5 588.6,1491.2 588.0,1487.8Z" fill="none" stroke="#00ffff" stroke-width="3.9" stroke-linejoin="round"/>
<path d="M874.6,1298.5C874.6,1296.7 874.6,1295.4 880.0,1293.2C885.3,1291.0 897.7,1288.3 906.6,1285.2C915.5,1282.1 927.0,1278.5 933.3,1274.5C939.5,1270.5 942.4,1266.1 943.9,1261.2C945.5,1256.3 941.7,1250.1 942.6,1245.2C943.5,1240.3 945.5,1237.2 949.3,1231.9C953.0,1226.5 961.2,1219.0 965.2,1213.2C969.2,1207.4 968.8,1202.6 973.2,1197.2C977.7,1191.9 985.2,1185.7 991.9,1181.2C998.6,1176.8 1005.2,1173.7 1013.2,1170.6C1021.2,1167.5 1032.8,1165.7 1039.9,1162.6C1047.0,1159.5 1051.0,1156.8 1055.9,1151.9C1060.7,1147.0 1064.7,1139.9 1069.2,1133.3C1073.6,1126.6 1078.5,1117.7 1082.5,1111.9C1086.5,1106.2 1088.7,1102.6 1093.2,1098.6C1097.6,1094.6 1102.5,1091.5 1109.2,1088.0C1115.8,1084.4 1126.5,1080.6 1133.2,1077.3C1139.8,1074.0 1144.7,1071.1 1149.1,1068.0C1153.6,1064.9 1154.9,1061.7 1159.8,1058.6C1164.7,1055.5 1171.8,1052.0 1178.5,1049.3C1185.1,1046.6 1191.8,1044.6 1199.8,1042.6C1207.8,1040.6 1217.6,1038.9 1226.4,1037.3C1235.3,1035.8 1244.2,1034.6 1253.1,1033.3C1262.0,1032.1 1270.8,1031.6 1279.7,1029.9C1288.7,1028.1 1296.4,1026.2 1306.9,1023.1C1317.5,1020.0 1330.5,1014.5 1343.3,1011.0C1356.1,1007.5 1371.6,1005.1 1383.7,1002.1C1395.8,999.1 1407.6,995.7 1416.0,992.8C1424.4,989.9 1429.3,989.4 1434.2,984.7C1439.1,980.0 1438.4,967.4 1445.5,964.5C1452.5,961.7 1466.7,966.6 1476.6,967.8C1486.5,968.9 1495.4,970.4 1504.8,971.4C1514.3,972.4 1525.7,972.6 1533.1,973.8C1540.5,975.0 1543.9,976.2 1549.3,978.7C1554.7,981.2 1560.7,986.4 1565.4,988.8C1570.1,991.1 1572.2,992.5 1577.5,992.8C1582.9,993.1 1591.7,990.6 1597.7,990.8C1603.8,991.0 1610.0,991.7 1613.9,994.0C1617.8,996.4 1620.5,1000.1 1621.2,1004.9C1621.8,1009.8 1619.5,1016.7 1617.9,1023.1C1616.4,1029.5 1613.9,1037.6 1611.9,1043.3C1609.9,1049.0 1609.5,1053.4 1605.8,1057.4C1602.1,1061.5 1595.7,1064.8 1589.7,1067.5C1583.6,1070.2 1576.2,1070.2 1569.5,1073.6C1562.7,1077.0 1556.7,1082.0 1549.3,1087.7C1541.9,1093.4 1532.4,1101.5 1525.0,1107.9C1517.6,1114.3 1511.6,1121.4 1504.8,1126.1C1498.1,1130.8 1492.1,1133.2 1484.7,1136.2C1477.2,1139.2 1469.8,1140.2 1460.4,1144.3C1451.0,1148.3 1437.5,1156.0 1428.1,1160.4C1418.7,1164.8 1411.3,1166.5 1403.9,1170.5C1396.5,1174.6 1390.4,1178.9 1383.7,1184.7C1377.0,1190.4 1369.5,1200.0 1363.5,1204.8C1357.4,1209.7 1354.1,1211.4 1347.3,1213.7C1340.6,1216.1 1333.0,1216.4 1323.1,1219.0C1313.2,1221.6 1297.2,1226.4 1287.7,1229.2C1278.3,1232.0 1274.4,1233.9 1266.4,1235.9C1258.4,1237.9 1248.6,1239.4 1239.8,1241.2C1230.9,1243.0 1222.0,1244.1 1213.1,1246.5C1204.2,1249.0 1195.3,1252.1 1186.5,1255.9C1177.6,1259.6 1168.7,1265.4 1159.8,1269.2C1150.9,1273.0 1142.0,1275.2 1133.2,1278.5C1124.3,1281.8 1115.4,1285.6 1106.5,1289.2C1097.6,1292.7 1087.8,1297.0 1079.9,1299.8C1071.9,1302.7 1065.2,1305.0 1058.5,1306.5C1051.9,1308.0 1047.4,1308.6 1039.9,1308.6C1032.3,1308.6 1022.1,1307.3 1013.2,1306.5C1004.3,1305.7 995.5,1304.1 986.6,1303.8C977.7,1303.5 968.8,1304.3 959.9,1304.6C951.0,1305.0 942.1,1305.7 933.3,1306.0C924.4,1306.2 915.5,1306.3 906.6,1306.0C897.7,1305.6 885.3,1305.1 880.0,1303.8C874.6,1302.6 874.6,1300.3 874.6,1298.5Z" fill="none" stroke="#ff0000" stroke-width="3.9" stroke-linejoin="round"/>
<path d="M503.2,1504.0 L510.5,1503.5 L517.8,1503.0 L525.1,1502.4 L532.4,1501.9 L539.7,1501.3 L547.0,1500.7 L554.3,1500.0 L561.6,1499.3 L569.0,1498.6 L576.3,1497.8 L583.6,1497.0 L590.9,1496.2 L598.2,1495.3 L605.5,1494.4 L612.8,1493.4 L620.1,1492.4 L627.4,1491.3 L634.7,1490.2 L642.0,1489.0 L649.3,1487.8 L656.6,1486.5 L663.9,1485.2 L671.2,1483.8 L678.5,1482.3 L685.8,1480.8 L693.2,1479.1 L700.5,1477.5 L707.8,1475.7 L715.1,1473.9 L722.4,1472.0 L729.7,1470.0 L737.0,1467.9 L744.3,1465.8 L751.6,1463.5 L758.9,1461.2 L766.2,1458.8 L773.5,1456.2 L780.8,1453.6 L788.1,1450.9 L795.4,1448.1 L802.7,1445.2 L810.1,1442.2 L817.4,1439.1 L824.7,1435.9 L832.0,1432.5 L839.3,1429.1 L846.6,1425.6 L853.9,1421.9 L861.2,1418.2 L868.5,1414.3 L875.8,1410.4 L883.1,1406.3 L890.4,1402.1 L897.7,1397.9 L905.0,1393.5 L912.3,1389.0 L919.6,1384.4 L926.9,1379.7 L934.3,1374.9 L941.6,1370.1 L948.9,1365.1 L956.2,1360.0 L963.5,1354.9 L970.8,1349.6 L978.1,1344.3 L985.4,1338.9 L992.7,1333.4 L1000.0,1327.9 L1007.3,1322.3 L1014.6,1316.6 L1021.9,1310.8 L1029.2,1305.0 L1036.5,1299.2 L1043.8,1293.3 L1051.1,1287.4 L1058.5,1281.4 L1065.8,1275.4 L1073.1,1269.3 L1080.4,1263.2 L1087.7,1257.2 L1095.0,1251.1 L1102.3,1244.9 L1109.6,1238.8 L1116.9,1232.7 L1124.2,1226.6 L1131.5,1220.5 L1138.8,1214.5 L1146.1,1208.4 L1153.4,1202.4 L1160.7,1196.4 L1168.0,1190.5 L1175.4,1184.6 L1182.7,1178.8 L1190.0,1173.0 L1197.3,1167.3 L1204.6,1161.7 L1211.9,1156.1 L1219.2,1150.7 L1226.5,1145.3 L1233.8,1140.0 L1241.1,1134.9 L1248.4,1129.8 L1255.7,1124.9 L1263.0,1120.1 L1270.3,1115.4 L1277.6,1110.9 L1284.9,1106.5 L1292.2,1102.2 L1299.6,1098.1 L1306.9,1094.2 L1314.2,1090.4 L1321.5,1086.8 L1328.8,1083.4 L1336.1,1080.1 L1343.4,1077.1 L1350.7,1074.2 L1358.0,1071.5 L1365.3,1068.9 L1372.6,1066.6 L1379.9,1064.4 L1387.2,1062.4 L1394.5,1060.5 L1401.8,1058.9 L1409.1,1057.4 L1416.4,1056.0 L1423.8,1054.8 L1431.1,1053.8 L1438.4,1052.9 L1445.7,1052.1 L1453.0,1051.4 L1460.3,1050.8 L1467.6,1050.3 L1474.9,1049.9 L1482.2,1049.6 L1489.5,1049.4 L1496.8,1049.2 L1504.1,1049.0 L1511.4,1048.9 L1518.7,1048.8 L1526.0,1048.7 L1533.3,1048.6 L1540.7,1048.6 L1548.0,1048.6 L1555.3,1048.6 L1562.6,1048.6 L1569.9,1048.5 L1577.2,1048.5 L1584.5,1048.5 L1591.8,1048.5 L1599.1,1048.5 L1606.4,1048.5 L1613.7,1048.5 L1621.0,1048.5 L1628.3,1048.5 L1635.6,1048.5 L1642.9,1048.5 L1650.2,1048.5 L1657.5,1048.5 L1664.9,1048.5 L1672.2,1048.5" fill="none" stroke="#000" stroke-width="3.7"/>
<path d="M503.2,1641.8 L509.0,1640.3 L514.9,1638.9 L520.7,1637.3 L526.6,1635.8 L532.4,1634.1 L538.3,1632.4 L544.1,1630.7 L550.0,1628.9 L555.8,1627.0 L561.6,1625.1 L567.5,1623.1 L573.3,1621.1 L579.2,1618.9 L585.0,1616.8 L590.9,1614.5 L596.7,1612.2 L602.6,1609.9 L608.4,1607.4 L614.3,1604.9 L620.1,1602.4 L625.9,1599.7 L631.8,1597.0 L637.6,1594.2 L643.5,1591.4 L649.3,1588.5 L655.2,1585.5 L661.0,1582.4 L666.9,1579.3 L672.7,1576.0 L678.5,1572.8 L684.4,1569.4 L690.2,1566.0 L696.1,1562.5 L701.9,1558.9 L707.8,1555.2 L713.6,1551.5 L719.5,1547.7 L725.3,1543.9 L731.1,1540.0 L737.0,1536.0 L742.8,1531.9 L748.7,1527.8 L754.5,1523.6 L760.4,1519.3 L766.2,1515.0 L772.1,1510.6 L777.9,1506.2 L783.8,1501.6 L789.6,1497.1 L795.4,1492.5 L801.3,1487.8 L807.1,1483.0 L813.0,1478.2 L818.8,1473.4 L824.7,1468.5 L830.5,1463.6 L836.4,1458.6 L842.2,1453.5 L848.0,1448.5 L853.9,1443.4 L859.7,1438.2 L865.6,1433.0 L871.4,1427.8 L877.3,1422.5 L883.1,1417.2 L889.0,1411.9 L894.8,1406.5 L900.6,1401.2 L906.5,1395.8 L912.3,1390.3 L918.2,1384.9 L924.0,1379.4 L929.9,1374.0 L935.7,1368.5 L941.6,1363.0 L947.4,1357.4 L953.2,1351.9 L959.1,1346.4 L964.9,1340.9 L970.8,1335.3 L976.6,1329.8 L982.5,1324.3 L988.3,1318.8 L994.2,1313.3 L1000.0,1307.7 L1005.9,1302.3 L1011.7,1296.8 L1017.5,1291.3 L1023.4,1285.9 L1029.2,1280.5 L1035.1,1275.1 L1040.9,1269.7 L1046.8,1264.4 L1052.6,1259.1 L1058.5,1253.8 L1064.3,1248.6 L1070.1,1243.4 L1076.0,1238.3 L1081.8,1233.2 L1087.7,1228.1 L1093.5,1223.1 L1099.4,1218.2 L1105.2,1213.3 L1111.1,1208.4 L1116.9,1203.7 L1122.7,1199.0 L1128.6,1194.3 L1134.4,1189.8 L1140.3,1185.3 L1146.1,1180.9 L1152.0,1176.5 L1157.8,1172.3 L1163.7,1168.1 L1169.5,1164.1 L1175.4,1160.1 L1181.2,1156.2 L1187.0,1152.4 L1192.9,1148.7 L1198.7,1145.1 L1204.6,1141.6 L1210.4,1138.3 L1216.3,1135.0 L1222.1,1131.8 L1228.0,1128.8 L1233.8,1125.9 L1239.6,1123.1 L1245.5,1120.4 L1251.3,1117.8 L1257.2,1115.4 L1263.0,1113.0 L1268.9,1110.8 L1274.7,1108.8 L1280.6,1106.8 L1286.4,1104.9 L1292.2,1103.2 L1298.1,1101.6 L1303.9,1100.1 L1309.8,1098.7 L1315.6,1097.5 L1321.5,1096.3 L1327.3,1095.2 L1333.2,1094.2 L1339.0,1093.4 L1344.9,1092.6 L1350.7,1091.9 L1356.5,1091.3 L1362.4,1090.7 L1368.2,1090.2 L1374.1,1089.8 L1379.9,1089.5 L1385.8,1089.1 L1391.6,1088.9 L1397.5,1088.7 L1403.3,1088.5 L1409.1,1088.3 L1415.0,1088.2 L1420.8,1088.1 L1426.7,1088.0 L1432.5,1088.0 L1438.4,1087.9 L1444.2,1087.9 L1450.1,1087.9 L1455.9,1087.8 L1461.7,1087.8 L1467.6,1087.8 L1473.4,1087.8 L1479.3,1087.8 L1485.1,1087.8 L1491.0,1087.8 L1496.8,1087.8 L1502.7,1087.8 L1508.5,1087.8 L1514.4,1087.8 L1520.2,1087.8 L1526.0,1087.8 L1531.9,1087.8 L1537.7,1087.8 L1543.6,1087.8 L1549.4,1087.8 L1555.3,1087.8 L1561.1,1087.8 L1567.0,1087.8 L1572.8,1087.8 L1578.6,1087.8 L1584.5,1087.8 L1590.3,1087.8 L1596.2,1087.8 L1602.0,1087.8 L1607.9,1087.8 L1613.7,1087.8 L1619.6,1087.8 L1625.4,1087.8 L1631.2,1087.8 L1637.1,1087.8 L1642.9,1087.8 L1648.8,1087.8 L1654.6,1087.8 L1660.5,1087.8 L1666.3,1087.8 L1672.2,1087.8" fill="none" stroke="#000" stroke-width="3.7" stroke-dasharray="32.8 33.5" stroke-dashoffset="0.0"/>
<path d="M503.2,1632.7 L506.1,1631.6 L509.0,1630.6 L512.0,1629.5 L514.9,1628.4 L517.8,1627.3 L520.7,1626.2 L523.7,1625.1 L526.6,1624.0 L529.5,1622.8 L532.4,1621.6 L535.3,1620.4 L538.3,1619.2 L541.2,1618.0 L544.1,1616.8 L547.0,1615.5 L550.0,1614.2 L552.9,1612.9 L555.8,1611.6 L558.7,1610.3 L561.6,1608.9 L564.6,1607.6 L567.5,1606.2 L570.4,1604.8 L573.3,1603.4 L576.3,1602.0 L579.2,1600.5 L582.1,1599.0 L585.0,1597.6 L587.9,1596.1 L590.9,1594.5 L593.8,1593.0 L596.7,1591.5 L599.6,1589.9 L602.6,1588.3 L605.5,1586.7 L608.4,1585.1 L611.3,1583.4 L614.3,1581.8 L617.2,1580.1 L620.1,1578.4 L623.0,1576.7 L625.9,1575.0 L628.9,1573.2 L631.8,1571.5 L634.7,1569.7 L637.6,1567.9 L640.6,1566.1 L643.5,1564.3 L646.4,1562.4 L649.3,1560.5 L652.2,1558.7 L655.2,1556.8 L658.1,1554.9 L661.0,1552.9 L663.9,1551.0 L666.9,1549.0 L669.8,1547.1 L672.7,1545.1 L675.6,1543.1 L678.5,1541.0 L681.5,1539.0 L684.4,1536.9 L687.3,1534.9 L690.2,1532.8 L693.2,1530.7 L696.1,1528.6 L699.0,1526.5 L701.9,1524.3 L704.8,1522.2 L707.8,1520.0 L710.7,1517.8 L713.6,1515.6 L716.5,1513.4 L719.5,1511.2 L722.4,1508.9 L725.3,1506.7 L728.2,1504.4 L731.1,1502.2 L734.1,1499.9 L737.0,1497.6 L739.9,1495.3 L742.8,1493.0 L745.8,1490.6 L748.7,1488.3 L751.6,1485.9 L754.5,1483.6 L757.4,1481.2 L760.4,1478.8 L763.3,1476.4 L766.2,1474.0 L769.1,1471.6 L772.1,1469.2 L775.0,1466.8 L777.9,1464.4 L780.8,1461.9 L783.8,1459.5 L786.7,1457.0 L789.6,1454.5 L792.5,1452.1 L795.4,1449.6 L798.4,1447.1 L801.3,1444.6 L804.2,1442.1 L807.1,1439.6 L810.1,1437.1 L813.0,1434.6 L815.9,1432.1 L818.8,1429.6 L821.7,1427.1 L824.7,1424.5 L827.6,1422.0 L830.5,1419.5 L833.4,1416.9 L836.4,1414.4 L839.3,1411.9 L842.2,1409.3 L845.1,1406.8 L848.0,1404.2 L851.0,1401.7 L853.9,1399.1 L856.8,1396.6 L859.7,1394.0 L862.7,1391.5 L865.6,1389.0 L868.5,1386.4 L871.4,1383.9 L874.3,1381.3 L877.3,1378.8 L880.2,1376.3 L883.1,1373.7 L886.0,1371.2 L889.0,1368.7 L891.9,1366.2 L894.8,1363.6 L897.7,1361.1 L900.6,1358.6 L903.6,1356.1 L906.5,1353.6 L909.4,1351.1 L912.3,1348.7 L915.3,1346.2 L918.2,1343.7 L921.1,1341.2 L924.0,1338.8 L926.9,1336.3 L929.9,1333.9 L932.8,1331.5 L935.7,1329.1 L938.6,1326.7 L941.6,1324.3 L944.5,1321.9 L947.4,1319.5 L950.3,1317.1 L953.2,1314.8 L956.2,1312.4 L959.1,1310.1 L962.0,1307.8 L964.9,1305.5 L967.9,1303.2 L970.8,1300.9 L973.7,1298.7 L976.6,1296.4 L979.6,1294.2 L982.5,1292.0 L985.4,1289.8 L988.3,1287.6 L991.2,1285.5 L994.2,1283.3 L997.1,1281.2 L1000.0,1279.1 L1002.9,1277.0 L1005.9,1274.9 L1008.8,1272.9 L1011.7,1270.8 L1014.6,1268.8 L1017.5,1266.8 L1020.5,1264.9 L1023.4,1262.9 L1026.3,1261.0 L1029.2,1259.1 L1032.2,1257.2 L1035.1,1255.3 L1038.0,1253.5 L1040.9,1251.7 L1043.8,1249.9 L1046.8,1248.1 L1049.7,1246.4 L1052.6,1244.7 L1055.5,1243.0 L1058.5,1241.3 L1061.4,1239.7 L1064.3,1238.0 L1067.2,1236.4 L1070.1,1234.9 L1073.1,1233.4 L1076.0,1231.8 L1078.9,1230.4 L1081.8,1228.9 L1084.8,1227.5 L1087.7,1226.1 L1090.6,1224.7 L1093.5,1223.4 L1096.4,1222.1 L1099.4,1220.8 L1102.3,1219.5 L1105.2,1218.3 L1108.1,1217.1 L1111.1,1216.0 L1114.0,1214.8 L1116.9,1213.7 L1119.8,1212.6 L1122.7,1211.6 L1125.7,1210.6 L1128.6,1209.6 L1131.5,1208.6 L1134.4,1207.7 L1137.4,1206.8 L1140.3,1205.9 L1143.2,1205.1 L1146.1,1204.3 L1149.1,1203.5 L1152.0,1202.7 L1154.9,1202.0 L1157.8,1201.3 L1160.7,1200.6 L1163.7,1200.0 L1166.6,1199.3 L1169.5,1198.7 L1172.4,1198.2 L1175.4,1197.6 L1178.3,1197.1 L1181.2,1196.6 L1184.1,1196.1 L1187.0,1195.7 L1190.0,1195.2 L1192.9,1194.8 L1195.8,1194.4 L1198.7,1194.1 L1201.7,1193.7 L1204.6,1193.4 L1207.5,1193.1 L1210.4,1192.8 L1213.3,1192.6 L1216.3,1192.3 L1219.2,1192.1 L1222.1,1191.9 L1225.0,1191.6 L1228.0,1191.5 L1230.9,1191.3 L1233.8,1191.1 L1236.7,1191.0 L1239.6,1190.8 L1242.6,1190.7 L1245.5,1190.6 L1248.4,1190.5 L1251.3,1190.4 L1254.3,1190.3 L1257.2,1190.2 L1260.1,1190.1 L1263.0,1190.1 L1265.9,1190.0 L1268.9,1190.0 L1271.8,1189.9 L1274.7,1189.9 L1277.6,1189.8 L1280.6,1189.8 L1283.5,1189.8 L1286.4,1189.7 L1289.3,1189.7 L1292.2,1189.7 L1295.2,1189.7 L1298.1,1189.6 L1301.0,1189.6 L1303.9,1189.6 L1306.9,1189.6 L1309.8,1189.6 L1312.7,1189.6 L1315.6,1189.6 L1318.5,1189.6 L1321.5,1189.6 L1324.4,1189.6 L1327.3,1189.6 L1330.2,1189.6 L1333.2,1189.6 L1336.1,1189.6 L1339.0,1189.6 L1341.9,1189.6 L1344.9,1189.6 L1347.8,1189.6 L1350.7,1189.6 L1353.6,1189.6 L1356.5,1189.6 L1359.5,1189.6 L1362.4,1189.6 L1365.3,1189.6 L1368.2,1189.6 L1371.2,1189.6 L1374.1,1189.6 L1377.0,1189.6 L1379.9,1189.6 L1382.8,1189.6 L1385.0,1189.6" fill="none" stroke="#000" stroke-width="3.7" stroke-dasharray="32 17.5 8 17.5" stroke-dashoffset="0.0"/>
<path d="M1385.0,1189.6 L1385.8,1189.6 L1388.7,1189.6 L1391.6,1189.6 L1394.5,1189.6 L1397.5,1189.6 L1400.4,1189.6 L1403.3,1189.6 L1406.2,1189.6 L1409.1,1189.6 L1412.1,1189.6 L1415.0,1189.6 L1417.9,1189.6 L1420.8,1189.6 L1423.8,1189.6 L1426.7,1189.6 L1429.6,1189.6 L1432.5,1189.6 L1435.4,1189.6 L1438.4,1189.6 L1441.3,1189.6 L1444.2,1189.6 L1447.1,1189.6 L1450.1,1189.6 L1453.0,1189.6 L1455.9,1189.6 L1458.8,1189.6 L1461.7,1189.6 L1464.7,1189.6 L1467.6,1189.6 L1470.5,1189.6 L1473.4,1189.6 L1476.4,1189.6 L1479.3,1189.6 L1482.2,1189.6 L1485.1,1189.6 L1488.0,1189.6 L1491.0,1189.6 L1493.9,1189.6 L1496.8,1189.6 L1499.7,1189.6 L1502.7,1189.6 L1505.6,1189.6 L1508.5,1189.6 L1511.4,1189.6 L1514.4,1189.6 L1517.3,1189.6 L1520.2,1189.6 L1523.1,1189.6 L1526.0,1189.6 L1529.0,1189.6 L1531.9,1189.6 L1534.8,1189.6 L1537.7,1189.6 L1540.7,1189.6 L1543.6,1189.6 L1546.5,1189.6 L1549.4,1189.6 L1552.3,1189.6 L1555.3,1189.6 L1558.2,1189.6 L1561.1,1189.6 L1564.0,1189.6 L1567.0,1189.6 L1569.9,1189.6 L1572.8,1189.6 L1575.7,1189.6 L1578.6,1189.6 L1581.6,1189.6 L1584.5,1189.6 L1587.4,1189.6 L1590.3,1189.6 L1593.3,1189.6 L1596.2,1189.6 L1599.1,1189.6 L1602.0,1189.6 L1604.9,1189.6 L1607.9,1189.6 L1610.8,1189.6 L1613.7,1189.6 L1616.6,1189.6 L1619.6,1189.6 L1622.5,1189.6 L1625.4,1189.6 L1628.3,1189.6 L1631.2,1189.6 L1634.2,1189.6 L1637.1,1189.6 L1640.0,1189.6 L1642.9,1189.6 L1645.9,1189.6 L1648.8,1189.6 L1651.7,1189.6 L1654.6,1189.6 L1657.5,1189.6 L1660.5,1189.6 L1663.4,1189.6 L1666.3,1189.6 L1669.2,1189.6 L1672.2,1189.6" fill="none" stroke="#000" stroke-width="3.7" stroke-dasharray="33.5 17 33.5 17 8.2 17" stroke-dashoffset="42.2"/>
</g>
<rect x="503.2" y="796.1" width="1169.3" height="1001.4999999999999" fill="none" stroke="#000" stroke-width="2.6"/>
<path d="M503.2,1797.6v-20M503.2,796.1v20M596.3,1797.6v-10M596.3,796.1v10M650.8,1797.6v-10M650.8,796.1v10M689.5,1797.6v-10M689.5,796.1v10M719.5,1797.6v-10M719.5,796.1v10M744.0,1797.6v-10M744.0,796.1v10M764.7,1797.6v-10M764.7,796.1v10M782.6,1797.6v-10M782.6,796.1v10M798.4,1797.6v-10M798.4,796.1v10M812.6,1797.6v-20M812.6,796.1v20M905.7,1797.6v-10M905.7,796.1v10M960.2,1797.6v-10M960.2,796.1v10M998.9,1797.6v-10M998.9,796.1v10M1028.9,1797.6v-10M1028.9,796.1v10M1053.4,1797.6v-10M1053.4,796.1v10M1074.1,1797.6v-10M1074.1,796.1v10M1092.0,1797.6v-10M1092.0,796.1v10M1107.8,1797.6v-10M1107.8,796.1v10M1122.0,1797.6v-20M1122.0,796.1v20M1215.1,1797.6v-10M1215.1,796.1v10M1269.6,1797.6v-10M1269.6,796.1v10M1308.3,1797.6v-10M1308.3,796.1v10M1338.3,1797.6v-10M1338.3,796.1v10M1362.8,1797.6v-10M1362.8,796.1v10M1383.5,1797.6v-10M1383.5,796.1v10M1401.4,1797.6v-10M1401.4,796.1v10M1417.2,1797.6v-10M1417.2,796.1v10M1431.4,1797.6v-20M1431.4,796.1v20M1524.5,1797.6v-10M1524.5,796.1v10M1579.0,1797.6v-10M1579.0,796.1v10M1617.7,1797.6v-10M1617.7,796.1v10M1647.7,1797.6v-10M1647.7,796.1v10M1672.2,1797.6v-10M1672.2,796.1v10M503.2,1797.6h23M1672.5,1797.6h-23M503.2,1685.9h12.5M1672.5,1685.9h-12.5M503.2,1620.5h12.5M1672.5,1620.5h-12.5M503.2,1574.2h12.5M1672.5,1574.2h-12.5M503.2,1538.2h12.5M1672.5,1538.2h-12.5M503.2,1508.8h12.5M1672.5,1508.8h-12.5M503.2,1484.0h12.5M1672.5,1484.0h-12.5M503.2,1462.5h12.5M1672.5,1462.5h-12.5M503.2,1443.5h12.5M1672.5,1443.5h-12.5M503.2,1426.5h23M1672.5,1426.5h-23M503.2,1314.8h12.5M1672.5,1314.8h-12.5M503.2,1249.4h12.5M1672.5,1249.4h-12.5M503.2,1203.1h12.5M1672.5,1203.1h-12.5M503.2,1167.1h12.5M1672.5,1167.1h-12.5M503.2,1137.7h12.5M1672.5,1137.7h-12.5M503.2,1112.9h12.5M1672.5,1112.9h-12.5M503.2,1091.4h12.5M1672.5,1091.4h-12.5M503.2,1072.4h12.5M1672.5,1072.4h-12.5M503.2,1055.4h23M1672.5,1055.4h-23M503.2,943.7h12.5M1672.5,943.7h-12.5M503.2,878.3h12.5M1672.5,878.3h-12.5M503.2,832.0h12.5M1672.5,832.0h-12.5M503.2,796.0h12.5M1672.5,796.0h-12.5" stroke="#000" stroke-width="2.2" fill="none"/>
<text x="503.2" y="1845.1" font-size="37.6" text-anchor="middle">1</text>
<text x="812.6" y="1845.1" font-size="37.6" text-anchor="middle">10</text>
<text x="1122.0" y="1845.1" font-size="37.6" text-anchor="middle">100</text>
<text x="1431.4" y="1845.1" font-size="37.6" text-anchor="middle">1000</text>
<text x="491.5" y="1799.6" font-size="37.6" text-anchor="end">10</text>
<text x="491.5" y="1439.7" font-size="37.6" text-anchor="end">100</text>
<text x="491.5" y="1068.6" font-size="37.6" text-anchor="end">1000</text>
<text x="1089.1" y="1886" font-size="37.6" text-anchor="middle">AIA 30.4 nm (W· m<tspan font-size="23.3" dy="-13.5">−2</tspan><tspan dy="13.5">· sr</tspan><tspan font-size="23.3" dy="-13.5">−1</tspan><tspan dy="13.5">)</tspan></text>
<text transform="translate(379.9,1295.2) rotate(-90)" font-size="37.6" text-anchor="middle">SDI 121.6 nm (W· m<tspan font-size="23.3" dy="-13.5">−2</tspan><tspan dy="13.5">· sr</tspan><tspan font-size="23.3" dy="-13.5">−1</tspan><tspan dy="13.5">)</tspan></text>
<circle cx="1221" cy="1509.9" r="12.7" fill="none" stroke="#a020f0" stroke-width="2"/>
<circle cx="1221" cy="1562.8" r="13.1" fill="#bebebe"/>
<text x="1294.7" y="1539.2" font-size="42.4" fill="#a020f0" style="stroke:#a020f0">Prominences</text>
<text x="1294.6" y="1591.7" font-size="42.4" fill="#bebebe" style="stroke:#bebebe">Quiet Sun</text>
<path d="M1092,1639.5H1268.8" stroke="#00ffff" stroke-width="2.2"/>
<text x="1298.2" y="1650.6" font-size="42.4" fill="#00ffff" style="stroke:#00ffff">Filaments</text>
<path d="M1092,1686H1268.8" stroke="#ff0000" stroke-width="2.2"/>
<text x="1298.2" y="1697.7" font-size="42.4" fill="#ff0000" style="stroke:#ff0000">Flare Region</text>
<path d="M1092,1733.4H1268.8" stroke="#d6d600" stroke-width="2.2"/>
<text x="1299.3" y="1744.5" font-size="42.4" fill="#d6d600" style="stroke:#d6d600">Active regions</text>
</svg>
</body></html>
